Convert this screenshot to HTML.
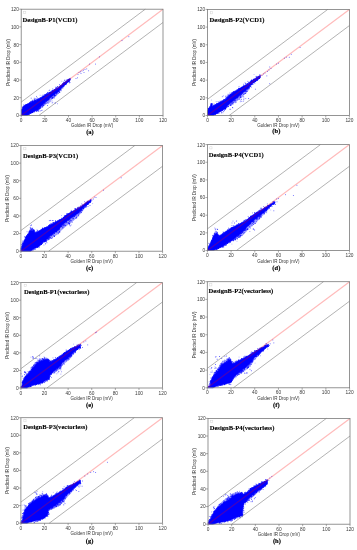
<!DOCTYPE html>
<html><head><meta charset="utf-8"><title>IR drop scatter plots</title>
<style>
html,body{margin:0;padding:0;background:#fff;}
body{width:357px;height:550px;overflow:hidden;}
svg{display:block;}
.cl{fill:#0000ff;stroke:#0000ff;stroke-width:0.6;stroke-linejoin:round;}
.rd{stroke:#ff0000;stroke-width:1.2;stroke-opacity:0.27;}
.dt{fill:#0000ff;}
.hl{fill:#0000ff;fill-opacity:0.38;}
.gl{stroke:#808080;stroke-width:0.6;}
.sp{fill:none;stroke:#7a7a7a;stroke-width:0.8;}
.tk{stroke:#707070;stroke-width:0.6;}
.tl{font-family:"Liberation Sans","DejaVu Sans",sans-serif;font-size:4.8px;fill:#3a3a3a;}
.al{font-family:"Liberation Sans","DejaVu Sans",sans-serif;font-size:4.5px;fill:#333;}
.lg{fill:none;stroke:#d4d4d4;stroke-width:0.5;}
.tt{font-family:"Liberation Serif",serif;font-weight:bold;font-size:7px;fill:#000;stroke:#000;stroke-width:0.1;}
.cp{font-family:"Liberation Serif",serif;font-weight:bold;font-size:6.5px;fill:#000;stroke:#000;stroke-width:0.15;}
</style></head>
<body>
<svg width="357" height="550" viewBox="0 0 357 550">
<polygon class="cl" points="21.4,109.8 22.3,108.6 23.1,106.6 24.5,105.5 26.6,104.5 29.2,103.1 31.7,101.9 34.3,100.8 37,99.9 37.8,99.6 40,98.3 42.9,96.3 45.8,94.4 48.7,92.9 51.6,91.2 54.5,89.5 57.4,87.9 59.8,86.3 64.2,82.5 67.2,80.3 70.3,78.3 70.3,80.2 67.2,82.9 64.2,85.5 61.1,88.6 59.8,90.2 57.4,92.5 54.5,94.6 51.6,96.9 48.7,99.3 45.8,101.7 42.9,104.6 40,107.4 37.8,109.7 35,111.2 32.2,112.6 29.4,114 27,115.4 21.4,115.4"/>
<polygon class="hl" points="36,110.66 36.8,110.24 37.6,109.81 38.4,109.07 39.2,108.24 40,107.4 40.8,106.63 41.6,105.86 42.4,105.08 43.2,104.3 44,103.5 44.8,102.7 45.6,101.9 46.4,101.2 47.2,100.54 48,99.88 48.8,99.22 49.6,98.56 50.4,97.89 51.2,97.23 52,96.58 52.8,95.95 53.6,95.31 54.4,94.68 55.2,94.09 56,93.51 56.8,92.93 57.6,92.31 58.4,91.54 59.2,90.77 60,89.95 60.8,88.97 61.6,88.1 62.4,87.3 63.2,86.5 64,85.7 64,85.7 63.2,87.21 62.4,88.37 61.6,89.46 60.8,90.57 60,91.77 59.2,92.78 58.4,93.72 57.6,94.64 56.8,95.4 56,96.1 55.2,96.78 54.4,97.46 53.6,98.17 52.8,98.86 52,99.54 51.2,100.21 50.4,100.89 49.6,101.55 48.8,102.2 48,102.83 47.2,103.45 46.4,104.06 45.6,104.68 44.8,105.39 44,106.09 43.2,106.77 42.4,107.42 41.6,108.04 40.8,108.64 40,109.22 39.2,109.84 38.4,110.43 37.6,110.87 36.8,110.94 36,110.66"/>
<rect class="dt" x="44.62" y="102.43" width="0.9" height="0.9" opacity="0.76"/>
<rect class="dt" x="37.58" y="109.74" width="0.9" height="0.9" opacity="0.65"/>
<rect class="dt" x="37.17" y="109.95" width="0.9" height="0.9" opacity="0.51"/>
<rect class="dt" x="47.69" y="99.54" width="0.9" height="0.9" opacity="0.54"/>
<rect class="dt" x="47.44" y="102.21" width="0.9" height="0.9" opacity="0.55"/>
<rect class="dt" x="41.8" y="106.37" width="0.9" height="0.9" opacity="0.88"/>
<rect class="dt" x="51.71" y="97.29" width="0.9" height="0.9" opacity="0.89"/>
<rect class="dt" x="36.85" y="110.41" width="0.9" height="0.9" opacity="0.62"/>
<rect class="dt" x="39.59" y="107.15" width="0.9" height="0.9" opacity="0.62"/>
<rect class="dt" x="58.4" y="91.07" width="0.9" height="0.9" opacity="0.73"/>
<rect class="dt" x="53.44" y="95.79" width="0.9" height="0.9" opacity="0.72"/>
<rect class="dt" x="37.31" y="109.35" width="0.9" height="0.9" opacity="0.58"/>
<rect class="dt" x="54.6" y="95.03" width="0.9" height="0.9" opacity="0.63"/>
<rect class="dt" x="51.95" y="97.28" width="0.9" height="0.9" opacity="0.62"/>
<rect class="dt" x="57.79" y="92.94" width="0.9" height="0.9" opacity="0.60"/>
<rect class="dt" x="51.63" y="97.77" width="0.9" height="0.9" opacity="0.85"/>
<rect class="dt" x="55.97" y="93.56" width="0.9" height="0.9" opacity="0.89"/>
<rect class="dt" x="38.86" y="108.43" width="0.9" height="0.9" opacity="0.80"/>
<rect class="dt" x="39.81" y="107.72" width="0.9" height="0.9" opacity="0.52"/>
<rect class="dt" x="54.26" y="96.31" width="0.9" height="0.9" opacity="0.73"/>
<rect class="dt" x="60.06" y="89.45" width="0.9" height="0.9" opacity="0.78"/>
<rect class="dt" x="52.19" y="97.49" width="0.9" height="0.9" opacity="0.68"/>
<rect class="dt" x="59.07" y="92.03" width="0.9" height="0.9" opacity="0.69"/>
<rect class="dt" x="54.15" y="94.26" width="0.9" height="0.9" opacity="0.78"/>
<rect class="dt" x="53.67" y="97.52" width="0.9" height="0.9" opacity="0.83"/>
<rect class="dt" x="43.52" y="104.18" width="0.9" height="0.9" opacity="0.77"/>
<rect class="dt" x="36.18" y="110.19" width="0.9" height="0.9" opacity="0.57"/>
<rect class="dt" x="38.83" y="107.81" width="0.9" height="0.9" opacity="0.81"/>
<rect class="dt" x="39.17" y="107.81" width="0.9" height="0.9" opacity="0.66"/>
<polygon class="hl" points="28,103.75 28.8,103.32 29.6,102.91 30.4,102.52 31.2,102.14 32,101.77 32.8,101.43 33.6,101.1 34.4,100.77 35.2,100.5 36,100.23 36.8,99.97 37.6,99.67 38.4,99.25 39.2,98.77 40,98.3 40,98.3 39.2,98.19 38.4,98.37 37.6,98.58 36.8,98.71 36,98.86 35.2,99.04 34.4,99.27 33.6,99.6 32.8,99.98 32,100.4 31.2,100.88 30.4,101.43 29.6,102.03 28.8,102.73 28,103.75"/>
<rect class="dt" x="38.01" y="98.69" width="0.9" height="0.9" opacity="0.68"/>
<rect class="dt" x="34.14" y="98.81" width="0.9" height="0.9" opacity="0.83"/>
<rect class="dt" x="37.92" y="98.54" width="0.9" height="0.9" opacity="0.67"/>
<rect class="dt" x="31.86" y="99.82" width="0.9" height="0.9" opacity="0.88"/>
<rect class="dt" x="29.36" y="102.18" width="0.9" height="0.9" opacity="0.59"/>
<rect class="dt" x="30.35" y="101.25" width="0.9" height="0.9" opacity="0.74"/>
<rect class="dt" x="22.16" y="106.67" width="0.9" height="0.9" opacity="0.94"/>
<rect class="dt" x="23.73" y="105.57" width="0.9" height="0.9" opacity="1.00"/>
<rect class="dt" x="23.41" y="104.52" width="0.9" height="0.9" opacity="0.80"/>
<rect class="dt" x="25.68" y="104.16" width="0.9" height="0.9" opacity="0.98"/>
<rect class="dt" x="24.96" y="104.81" width="0.9" height="0.9" opacity="1.00"/>
<rect class="dt" x="25.47" y="104.6" width="0.9" height="0.9" opacity="1.00"/>
<rect class="dt" x="26.75" y="103.87" width="0.9" height="0.9" opacity="1.00"/>
<rect class="dt" x="27.13" y="103.76" width="0.9" height="0.9" opacity="1.00"/>
<rect class="dt" x="26.21" y="104.17" width="0.9" height="0.9" opacity="1.00"/>
<rect class="dt" x="29.76" y="102.42" width="0.9" height="0.9" opacity="1.00"/>
<rect class="dt" x="30.76" y="101.23" width="0.9" height="0.9" opacity="0.90"/>
<rect class="dt" x="31.89" y="101.13" width="0.9" height="0.9" opacity="0.99"/>
<rect class="dt" x="32.26" y="101.2" width="0.9" height="0.9" opacity="1.00"/>
<rect class="dt" x="36.47" y="99.28" width="0.9" height="0.9" opacity="0.95"/>
<rect class="dt" x="35.22" y="100.09" width="0.9" height="0.9" opacity="1.00"/>
<rect class="dt" x="34.11" y="100.22" width="0.9" height="0.9" opacity="0.99"/>
<rect class="dt" x="37.26" y="99.32" width="0.9" height="0.9" opacity="1.00"/>
<rect class="dt" x="39.3" y="97.68" width="0.9" height="0.9" opacity="0.93"/>
<rect class="dt" x="37.52" y="98.7" width="0.9" height="0.9" opacity="0.93"/>
<rect class="dt" x="39.7" y="94.79" width="0.9" height="0.9" opacity="0.39"/>
<rect class="dt" x="41.72" y="95.64" width="0.9" height="0.9" opacity="0.85"/>
<rect class="dt" x="40.27" y="97.27" width="0.9" height="0.9" opacity="0.98"/>
<rect class="dt" x="44.53" y="94.15" width="0.9" height="0.9" opacity="0.93"/>
<rect class="dt" x="44.69" y="94.34" width="0.9" height="0.9" opacity="0.99"/>
<rect class="dt" x="42.59" y="94.66" width="0.9" height="0.9" opacity="0.77"/>
<rect class="dt" x="47.41" y="91.87" width="0.9" height="0.9" opacity="0.78"/>
<rect class="dt" x="47.4" y="92.11" width="0.9" height="0.9" opacity="0.83"/>
<rect class="dt" x="45.89" y="93.38" width="0.9" height="0.9" opacity="0.93"/>
<rect class="dt" x="46.49" y="93.62" width="0.9" height="0.9" opacity="1.00"/>
<rect class="dt" x="49.08" y="92.01" width="0.9" height="0.9" opacity="1.00"/>
<rect class="dt" x="49.27" y="89.59" width="0.9" height="0.9" opacity="0.51"/>
<rect class="dt" x="48.69" y="90.24" width="0.9" height="0.9" opacity="0.58"/>
<rect class="dt" x="53.89" y="89.07" width="0.9" height="0.9" opacity="0.98"/>
<rect class="dt" x="51.82" y="90.44" width="0.9" height="0.9" opacity="1.00"/>
<rect class="dt" x="51.77" y="90.49" width="0.9" height="0.9" opacity="1.00"/>
<rect class="dt" x="52.27" y="88.51" width="0.9" height="0.9" opacity="0.66"/>
<rect class="dt" x="55.2" y="87.85" width="0.9" height="0.9" opacity="0.88"/>
<rect class="dt" x="56.46" y="87.94" width="0.9" height="0.9" opacity="1.00"/>
<rect class="dt" x="55.27" y="86.74" width="0.9" height="0.9" opacity="0.64"/>
<rect class="dt" x="55.97" y="87.17" width="0.9" height="0.9" opacity="0.82"/>
<rect class="dt" x="56.91" y="86.47" width="0.9" height="0.9" opacity="0.79"/>
<rect class="dt" x="57.26" y="86.19" width="0.9" height="0.9" opacity="0.78"/>
<rect class="dt" x="59.22" y="85.81" width="0.9" height="0.9" opacity="0.97"/>
<rect class="dt" x="63.09" y="81.76" width="0.9" height="0.9" opacity="0.84"/>
<rect class="dt" x="60.2" y="85.32" width="0.9" height="0.9" opacity="1.00"/>
<rect class="dt" x="59.1" y="84.22" width="0.9" height="0.9" opacity="0.65"/>
<rect class="dt" x="62.99" y="82.89" width="0.9" height="0.9" opacity="1.00"/>
<rect class="dt" x="61.35" y="80.82" width="0.9" height="0.9" opacity="0.38"/>
<rect class="dt" x="62.21" y="83.31" width="0.9" height="0.9" opacity="0.99"/>
<rect class="dt" x="64.28" y="81.96" width="0.9" height="0.9" opacity="1.00"/>
<rect class="dt" x="66.38" y="79.52" width="0.9" height="0.9" opacity="0.88"/>
<rect class="dt" x="64.35" y="79.56" width="0.9" height="0.9" opacity="0.59"/>
<rect class="dt" x="64.35" y="80.14" width="0.9" height="0.9" opacity="0.70"/>
<rect class="dt" x="67.43" y="79.47" width="0.9" height="0.9" opacity="1.00"/>
<rect class="dt" x="67.69" y="79.31" width="0.9" height="0.9" opacity="1.00"/>
<rect class="dt" x="68.59" y="78.71" width="0.9" height="0.9" opacity="1.00"/>
<rect class="dt" x="68.13" y="79.14" width="0.9" height="0.9" opacity="1.00"/>
<rect class="dt" x="68.87" y="80.84" width="0.9" height="0.9" opacity="0.96"/>
<rect class="dt" x="68.96" y="82.38" width="0.9" height="0.9" opacity="0.65"/>
<rect class="dt" x="69.53" y="82.02" width="0.9" height="0.9" opacity="0.63"/>
<rect class="dt" x="68.48" y="81.32" width="0.9" height="0.9" opacity="0.93"/>
<rect class="dt" x="68.07" y="80.98" width="0.9" height="0.9" opacity="1.00"/>
<rect class="dt" x="66.04" y="82.74" width="0.9" height="0.9" opacity="1.00"/>
<rect class="dt" x="64.28" y="84.44" width="0.9" height="0.9" opacity="1.00"/>
<rect class="dt" x="65.76" y="84.18" width="0.9" height="0.9" opacity="0.84"/>
<rect class="dt" x="65.1" y="83.92" width="0.9" height="0.9" opacity="0.99"/>
<rect class="dt" x="62.61" y="87.35" width="0.9" height="0.9" opacity="0.79"/>
<rect class="dt" x="63.65" y="85.61" width="0.9" height="0.9" opacity="0.92"/>
<rect class="dt" x="62.96" y="85.8" width="0.9" height="0.9" opacity="1.00"/>
<rect class="dt" x="61.53" y="87.62" width="0.9" height="0.9" opacity="0.94"/>
<rect class="dt" x="60.79" y="90.28" width="0.9" height="0.9" opacity="0.64"/>
<rect class="dt" x="60.39" y="89.12" width="0.9" height="0.9" opacity="0.90"/>
<rect class="dt" x="58.52" y="91.34" width="0.9" height="0.9" opacity="0.86"/>
<rect class="dt" x="58.46" y="91" width="0.9" height="0.9" opacity="0.93"/>
<rect class="dt" x="59.4" y="92.1" width="0.9" height="0.9" opacity="0.57"/>
<rect class="dt" x="55.43" y="95.3" width="0.9" height="0.9" opacity="0.56"/>
<rect class="dt" x="56.39" y="92.86" width="0.9" height="0.9" opacity="0.92"/>
<rect class="dt" x="54.82" y="94.87" width="0.9" height="0.9" opacity="0.74"/>
<rect class="dt" x="56.46" y="92.21" width="0.9" height="0.9" opacity="1.00"/>
<rect class="dt" x="53.8" y="94.27" width="0.9" height="0.9" opacity="1.00"/>
<rect class="dt" x="54.16" y="94.73" width="0.9" height="0.9" opacity="0.87"/>
<rect class="dt" x="52.61" y="97" width="0.9" height="0.9" opacity="0.66"/>
<rect class="dt" x="53.99" y="95" width="0.9" height="0.9" opacity="0.84"/>
<rect class="dt" x="51.53" y="97.76" width="0.9" height="0.9" opacity="0.69"/>
<rect class="dt" x="48.3" y="98.71" width="0.9" height="0.9" opacity="1.00"/>
<rect class="dt" x="48.46" y="98.82" width="0.9" height="0.9" opacity="0.97"/>
<rect class="dt" x="51.63" y="99.9" width="0.9" height="0.9" opacity="0.30"/>
<rect class="dt" x="47.87" y="99.35" width="0.9" height="0.9" opacity="0.96"/>
<rect class="dt" x="46.78" y="100.12" width="0.9" height="0.9" opacity="0.99"/>
<rect class="dt" x="47.69" y="99.33" width="0.9" height="0.9" opacity="1.00"/>
<rect class="dt" x="46.01" y="100.4" width="0.9" height="0.9" opacity="1.00"/>
<rect class="dt" x="43.9" y="102.36" width="0.9" height="0.9" opacity="1.00"/>
<rect class="dt" x="44.7" y="102.52" width="0.9" height="0.9" opacity="0.89"/>
<rect class="dt" x="43.72" y="102.59" width="0.9" height="0.9" opacity="1.00"/>
<rect class="dt" x="43.09" y="104.7" width="0.9" height="0.9" opacity="0.79"/>
<rect class="dt" x="42.12" y="104.42" width="0.9" height="0.9" opacity="1.00"/>
<rect class="dt" x="42.9" y="104.84" width="0.9" height="0.9" opacity="0.80"/>
<rect class="dt" x="41.56" y="104.8" width="0.9" height="0.9" opacity="1.00"/>
<rect class="dt" x="42.23" y="106.37" width="0.9" height="0.9" opacity="0.64"/>
<rect class="dt" x="40.05" y="106.41" width="0.9" height="0.9" opacity="1.00"/>
<rect class="dt" x="37.77" y="109.3" width="0.9" height="0.9" opacity="0.91"/>
<rect class="dt" x="37.88" y="108.43" width="0.9" height="0.9" opacity="1.00"/>
<rect class="dt" x="39.83" y="107.47" width="0.9" height="0.9" opacity="0.86"/>
<rect class="dt" x="37.95" y="110.86" width="0.9" height="0.9" opacity="0.57"/>
<rect class="dt" x="35.99" y="110.98" width="0.9" height="0.9" opacity="0.78"/>
<rect class="dt" x="37.64" y="110.35" width="0.9" height="0.9" opacity="0.72"/>
<rect class="dt" x="32.21" y="112.11" width="0.9" height="0.9" opacity="0.96"/>
<rect class="dt" x="33.74" y="111.51" width="0.9" height="0.9" opacity="0.92"/>
<rect class="dt" x="31.94" y="112.02" width="0.9" height="0.9" opacity="1.00"/>
<rect class="dt" x="30.25" y="112.83" width="0.9" height="0.9" opacity="1.00"/>
<rect class="dt" x="31.39" y="112.19" width="0.9" height="0.9" opacity="1.00"/>
<rect class="dt" x="31.57" y="112.14" width="0.9" height="0.9" opacity="1.00"/>
<rect class="dt" x="28.37" y="114.16" width="0.9" height="0.9" opacity="0.94"/>
<rect class="dt" x="28.55" y="113.84" width="0.9" height="0.9" opacity="0.99"/>
<rect class="dt" x="50.37" y="101.19" width="0.9" height="0.9" opacity="0.54"/>
<rect class="dt" x="54.65" y="102.64" width="0.9" height="0.9" opacity="0.55"/>
<rect class="dt" x="54.9" y="102.41" width="0.9" height="0.9" opacity="0.55"/>
<rect class="dt" x="47.03" y="105.04" width="0.9" height="0.9" opacity="0.63"/>
<rect class="dt" x="51.73" y="102.48" width="0.9" height="0.9" opacity="0.49"/>
<rect class="dt" x="42.68" y="104.5" width="0.9" height="0.9" opacity="0.45"/>
<rect class="dt" x="52.28" y="101.74" width="0.9" height="0.9" opacity="0.45"/>
<rect class="dt" x="46.24" y="102.81" width="0.9" height="0.9" opacity="0.41"/>
<rect class="dt" x="48.68" y="101.63" width="0.9" height="0.9" opacity="0.73"/>
<rect class="dt" x="57.11" y="103.33" width="0.9" height="0.9" opacity="0.45"/>
<rect class="dt" x="47.66" y="102.9" width="0.9" height="0.9" opacity="0.55"/>
<rect class="dt" x="44.77" y="103.08" width="0.9" height="0.9" opacity="0.35"/>
<rect class="dt" x="45.78" y="100.59" width="0.9" height="0.9" opacity="0.51"/>
<rect class="dt" x="46.42" y="101.45" width="0.9" height="0.9" opacity="0.58"/>
<rect class="dt" x="33.78" y="97.8" width="0.9" height="0.9" opacity="0.61"/>
<rect class="dt" x="35.28" y="98.19" width="0.9" height="0.9" opacity="0.51"/>
<rect class="dt" x="30.75" y="97.72" width="0.9" height="0.9" opacity="0.61"/>
<rect class="dt" x="36.69" y="97.43" width="0.9" height="0.9" opacity="0.64"/>
<rect class="dt" x="36.05" y="95.97" width="0.9" height="0.9" opacity="0.56"/>
<rect class="dt" x="39.58" y="110.55" width="0.9" height="0.9" opacity="0.67"/>
<rect class="dt" x="41.51" y="109.8" width="0.9" height="0.9" opacity="0.71"/>
<rect class="dt" x="40.65" y="110.13" width="0.9" height="0.9" opacity="0.44"/>
<rect class="dt" x="38.71" y="108.36" width="0.9" height="0.9" opacity="0.68"/>
<rect class="dt" x="78.55" y="72.05" width="0.9" height="0.9" opacity="0.6"/>
<rect class="dt" x="80.05" y="71.35" width="0.9" height="0.9" opacity="0.6"/>
<rect class="dt" x="81.55" y="70.55" width="0.9" height="0.9" opacity="0.6"/>
<rect class="dt" x="83.05" y="69.75" width="0.9" height="0.9" opacity="0.6"/>
<rect class="dt" x="84.55" y="69.05" width="0.9" height="0.9" opacity="0.6"/>
<rect class="dt" x="86.25" y="68.45" width="0.9" height="0.9" opacity="0.6"/>
<rect class="dt" x="88.15" y="70.35" width="0.9" height="0.9" opacity="0.6"/>
<rect class="dt" x="80.55" y="73.05" width="0.9" height="0.9" opacity="0.6"/>
<rect class="dt" x="83.55" y="72.05" width="0.9" height="0.9" opacity="0.6"/>
<rect class="dt" x="77.55" y="74.05" width="0.9" height="0.9" opacity="0.6"/>
<rect class="dt" x="89.15" y="63.65" width="0.9" height="0.9" opacity="0.6"/>
<rect class="dt" x="95.05" y="63.65" width="0.9" height="0.9" opacity="0.6"/>
<rect class="dt" x="98.95" y="56.45" width="0.9" height="0.9" opacity="0.6"/>
<rect class="dt" x="121.55" y="40.15" width="0.9" height="0.9" opacity="0.6"/>
<rect class="dt" x="128.35" y="36.25" width="0.9" height="0.9" opacity="0.6"/>
<rect class="dt" x="75.55" y="78.05" width="0.9" height="0.9" opacity="0.6"/>
<rect class="dt" x="77.05" y="77.35" width="0.9" height="0.9" opacity="0.6"/>
<line class="rd" x1="21.2" y1="115.4" x2="163" y2="9.2"/>
<line class="gl" x1="21.2" y1="102.12" x2="145.28" y2="9.2"/>
<line class="gl" x1="38.92" y1="115.4" x2="163" y2="22.48"/>
<rect class="sp" x="21.2" y="9.2" width="141.8" height="106.2"/>
<line class="tk" x1="21.2" y1="115.4" x2="21.2" y2="117.4"/>
<line class="tk" x1="19.2" y1="115.4" x2="21.2" y2="115.4"/>
<text class="tl" x="21.2" y="121.9" text-anchor="middle">0</text>
<text class="tl" x="18.9" y="117.3" text-anchor="end">0</text>
<line class="tk" x1="44.83" y1="115.4" x2="44.83" y2="117.4"/>
<line class="tk" x1="19.2" y1="97.7" x2="21.2" y2="97.7"/>
<text class="tl" x="44.83" y="121.9" text-anchor="middle">20</text>
<text class="tl" x="18.9" y="99.6" text-anchor="end">20</text>
<line class="tk" x1="68.47" y1="115.4" x2="68.47" y2="117.4"/>
<line class="tk" x1="19.2" y1="80" x2="21.2" y2="80"/>
<text class="tl" x="68.47" y="121.9" text-anchor="middle">40</text>
<text class="tl" x="18.9" y="81.9" text-anchor="end">40</text>
<line class="tk" x1="92.1" y1="115.4" x2="92.1" y2="117.4"/>
<line class="tk" x1="19.2" y1="62.3" x2="21.2" y2="62.3"/>
<text class="tl" x="92.1" y="121.9" text-anchor="middle">60</text>
<text class="tl" x="18.9" y="64.2" text-anchor="end">60</text>
<line class="tk" x1="115.73" y1="115.4" x2="115.73" y2="117.4"/>
<line class="tk" x1="19.2" y1="44.6" x2="21.2" y2="44.6"/>
<text class="tl" x="115.73" y="121.9" text-anchor="middle">80</text>
<text class="tl" x="18.9" y="46.5" text-anchor="end">80</text>
<line class="tk" x1="139.37" y1="115.4" x2="139.37" y2="117.4"/>
<line class="tk" x1="19.2" y1="26.9" x2="21.2" y2="26.9"/>
<text class="tl" x="139.37" y="121.9" text-anchor="middle">100</text>
<text class="tl" x="18.9" y="28.8" text-anchor="end">100</text>
<line class="tk" x1="163" y1="115.4" x2="163" y2="117.4"/>
<line class="tk" x1="19.2" y1="9.2" x2="21.2" y2="9.2"/>
<text class="tl" x="163" y="121.9" text-anchor="middle">120</text>
<text class="tl" x="18.9" y="11.1" text-anchor="end">120</text>
<text class="al" x="92.1" y="127" text-anchor="middle">Golden IR Drop (mV)</text>
<text class="al" x="9.7" y="62.3" text-anchor="middle" transform="rotate(-90 9.7 62.3)">Predicted IR Drop (mV)</text>
<rect class="lg" x="23.6" y="11.51" width="2.2" height="2.2"/>
<text class="tt" x="22.5" y="21.8" textLength="55" lengthAdjust="spacingAndGlyphs">DesignB-P1(VCD1)</text>
<text class="cp" x="90" y="134.4" text-anchor="middle">(a)</text>
<polygon class="cl" points="207.6,110.5 208.3,109.3 209.5,107 210.5,106.3 211,103.8 211.9,103.7 212.6,106.3 216.2,104.3 220.2,101.8 224,100.4 225.5,99.2 227,97.4 230.1,94.8 233.2,92.6 236.2,90.6 239.3,88.6 242.4,86.8 245.5,85 248.6,83.2 250.4,81.2 253.7,79.4 257.1,77.2 260.4,75.3 260.4,77.6 257.1,80.4 253.7,82.7 250.4,85.3 248.6,88.2 245.5,90.6 242.4,93.3 239.3,95.8 236.2,98.4 233.2,100.9 230.1,103.2 227,105.8 225.5,108.6 222.4,110.5 219.3,112.2 216.2,113.8 213.2,115.5 207.6,115.5"/>
<polygon class="hl" points="225,108.91 225.8,108.04 226.6,106.55 227.4,105.46 228.2,104.79 229,104.12 229.8,103.45 230.6,102.83 231.4,102.24 232.2,101.64 233,101.05 233.8,100.4 234.6,99.73 235.4,99.07 236.2,98.4 237,97.73 237.8,97.06 238.6,96.39 239.4,95.72 240.2,95.07 241,94.43 241.8,93.78 242.6,93.13 243.4,92.43 244.2,91.73 245,91.04 245.8,90.37 246.6,89.75 247.4,89.13 248.2,88.51 249,87.56 249.8,86.27 250.6,85.14 251.4,84.51 252.2,83.88 253,83.25 253,83.25 252.2,84.71 251.4,85.76 250.6,86.72 249.8,88.14 249,89.68 248.2,90.85 247.4,91.67 246.6,92.47 245.8,93.25 245,94.05 244.2,94.87 243.4,95.67 242.6,96.45 241.8,97.18 241,97.88 240.2,98.56 239.4,99.22 238.6,99.88 237.8,100.54 237,101.18 236.2,101.8 235.4,102.39 234.6,102.98 233.8,103.54 233,104.07 232.2,104.52 231.4,104.96 230.6,105.37 229.8,105.8 229,106.24 228.2,106.66 227.4,107.05 226.6,107.79 225.8,108.86 225,108.91"/>
<rect class="dt" x="240.19" y="96.66" width="0.9" height="0.9" opacity="0.75"/>
<rect class="dt" x="243.61" y="93.11" width="0.9" height="0.9" opacity="0.50"/>
<rect class="dt" x="246.89" y="90.84" width="0.9" height="0.9" opacity="0.70"/>
<rect class="dt" x="239.54" y="97.33" width="0.9" height="0.9" opacity="0.53"/>
<rect class="dt" x="245.18" y="90.86" width="0.9" height="0.9" opacity="0.53"/>
<rect class="dt" x="231.99" y="103.36" width="0.9" height="0.9" opacity="0.58"/>
<rect class="dt" x="245.27" y="93.09" width="0.9" height="0.9" opacity="0.70"/>
<rect class="dt" x="235.26" y="100.13" width="0.9" height="0.9" opacity="0.77"/>
<rect class="dt" x="246.03" y="91.26" width="0.9" height="0.9" opacity="0.76"/>
<rect class="dt" x="226.72" y="105.45" width="0.9" height="0.9" opacity="0.60"/>
<rect class="dt" x="245.36" y="90.87" width="0.9" height="0.9" opacity="0.73"/>
<rect class="dt" x="224.9" y="108.28" width="0.9" height="0.9" opacity="0.61"/>
<rect class="dt" x="243.37" y="94.05" width="0.9" height="0.9" opacity="0.77"/>
<rect class="dt" x="232.69" y="102.22" width="0.9" height="0.9" opacity="0.69"/>
<rect class="dt" x="237.61" y="96.85" width="0.9" height="0.9" opacity="0.86"/>
<rect class="dt" x="230.13" y="105.13" width="0.9" height="0.9" opacity="0.87"/>
<rect class="dt" x="225.04" y="108.47" width="0.9" height="0.9" opacity="0.83"/>
<rect class="dt" x="251.66" y="83.94" width="0.9" height="0.9" opacity="0.61"/>
<rect class="dt" x="230.43" y="104.89" width="0.9" height="0.9" opacity="0.58"/>
<rect class="dt" x="240.83" y="94.29" width="0.9" height="0.9" opacity="0.71"/>
<rect class="dt" x="251.23" y="84.01" width="0.9" height="0.9" opacity="0.83"/>
<rect class="dt" x="238.79" y="98.81" width="0.9" height="0.9" opacity="0.78"/>
<rect class="dt" x="231.03" y="104.43" width="0.9" height="0.9" opacity="0.69"/>
<rect class="dt" x="225.25" y="107.79" width="0.9" height="0.9" opacity="0.70"/>
<rect class="dt" x="237.17" y="97.91" width="0.9" height="0.9" opacity="0.56"/>
<rect class="dt" x="234.18" y="100.39" width="0.9" height="0.9" opacity="0.84"/>
<rect class="dt" x="224.6" y="108.55" width="0.9" height="0.9" opacity="0.84"/>
<rect class="dt" x="227.91" y="106.17" width="0.9" height="0.9" opacity="0.79"/>
<rect class="dt" x="249.79" y="85.65" width="0.9" height="0.9" opacity="0.65"/>
<rect class="dt" x="235.55" y="101.83" width="0.9" height="0.9" opacity="0.74"/>
<rect class="dt" x="234.65" y="100.42" width="0.9" height="0.9" opacity="0.61"/>
<rect class="dt" x="225.9" y="106.69" width="0.9" height="0.9" opacity="0.83"/>
<rect class="dt" x="232.55" y="103.71" width="0.9" height="0.9" opacity="0.60"/>
<rect class="dt" x="231.99" y="102.66" width="0.9" height="0.9" opacity="0.58"/>
<polygon class="hl" points="222,101.14 222.82,100.83 223.65,100.53 224.47,100.02 225.29,99.36 226.12,98.46 226.94,97.47 227.76,96.76 228.59,96.07 229.41,95.38 230.24,94.7 231.06,94.12 231.88,93.54 232.71,92.95 233.53,92.38 234.35,91.83 235.18,91.28 236,90.73 236,90.73 235.18,90.85 234.35,91.18 233.53,91.56 232.71,92 231.88,92.49 231.06,93 230.24,93.53 229.41,94.18 228.59,94.87 227.76,95.59 226.94,96.35 226.12,97.41 225.29,98.42 224.47,99.21 223.65,99.88 222.82,100.4 222,101.14"/>
<rect class="dt" x="226.78" y="95.56" width="0.9" height="0.9" opacity="0.85"/>
<rect class="dt" x="232.92" y="91.45" width="0.9" height="0.9" opacity="0.87"/>
<rect class="dt" x="234.72" y="90.57" width="0.9" height="0.9" opacity="0.79"/>
<rect class="dt" x="222.24" y="100.12" width="0.9" height="0.9" opacity="0.68"/>
<rect class="dt" x="232.09" y="91.93" width="0.9" height="0.9" opacity="0.61"/>
<rect class="dt" x="207.93" y="109.02" width="0.9" height="0.9" opacity="1.00"/>
<rect class="dt" x="208.26" y="108.06" width="0.9" height="0.9" opacity="1.00"/>
<rect class="dt" x="207.72" y="108.02" width="0.9" height="0.9" opacity="0.88"/>
<rect class="dt" x="209.55" y="106.08" width="0.9" height="0.9" opacity="0.97"/>
<rect class="dt" x="210.22" y="105.46" width="0.9" height="0.9" opacity="1.00"/>
<rect class="dt" x="210.28" y="103.54" width="0.9" height="0.9" opacity="0.94"/>
<rect class="dt" x="210.96" y="99.58" width="0.9" height="0.9" opacity="0.30"/>
<rect class="dt" x="211.45" y="103.64" width="0.9" height="0.9" opacity="1.00"/>
<rect class="dt" x="211.55" y="103.47" width="0.9" height="0.9" opacity="0.99"/>
<rect class="dt" x="211.46" y="103.5" width="0.9" height="0.9" opacity="1.00"/>
<rect class="dt" x="213.58" y="103.59" width="0.9" height="0.9" opacity="0.68"/>
<rect class="dt" x="214.79" y="104.24" width="0.9" height="0.9" opacity="0.97"/>
<rect class="dt" x="213.51" y="104.79" width="0.9" height="0.9" opacity="0.93"/>
<rect class="dt" x="213.49" y="105.06" width="0.9" height="0.9" opacity="0.99"/>
<rect class="dt" x="215.72" y="101.33" width="0.9" height="0.9" opacity="0.46"/>
<rect class="dt" x="216.13" y="103.33" width="0.9" height="0.9" opacity="0.94"/>
<rect class="dt" x="217.66" y="101.31" width="0.9" height="0.9" opacity="0.71"/>
<rect class="dt" x="216.63" y="103.33" width="0.9" height="0.9" opacity="1.00"/>
<rect class="dt" x="221.21" y="100.64" width="0.9" height="0.9" opacity="0.96"/>
<rect class="dt" x="223" y="99.01" width="0.9" height="0.9" opacity="0.73"/>
<rect class="dt" x="223.15" y="100.35" width="0.9" height="0.9" opacity="1.00"/>
<rect class="dt" x="219.66" y="100.73" width="0.9" height="0.9" opacity="0.85"/>
<rect class="dt" x="224.03" y="99.09" width="0.9" height="0.9" opacity="0.91"/>
<rect class="dt" x="223.49" y="99.87" width="0.9" height="0.9" opacity="0.98"/>
<rect class="dt" x="225.44" y="96.56" width="0.9" height="0.9" opacity="0.72"/>
<rect class="dt" x="226.55" y="97.03" width="0.9" height="0.9" opacity="1.00"/>
<rect class="dt" x="225.32" y="98.64" width="0.9" height="0.9" opacity="1.00"/>
<rect class="dt" x="227.55" y="93.85" width="0.9" height="0.9" opacity="0.57"/>
<rect class="dt" x="228.48" y="94.71" width="0.9" height="0.9" opacity="0.88"/>
<rect class="dt" x="228.81" y="94.83" width="0.9" height="0.9" opacity="0.96"/>
<rect class="dt" x="228.4" y="95.69" width="0.9" height="0.9" opacity="1.00"/>
<rect class="dt" x="229.49" y="92.6" width="0.9" height="0.9" opacity="0.62"/>
<rect class="dt" x="231.65" y="92.93" width="0.9" height="0.9" opacity="1.00"/>
<rect class="dt" x="230.07" y="94.11" width="0.9" height="0.9" opacity="1.00"/>
<rect class="dt" x="231.28" y="92.47" width="0.9" height="0.9" opacity="0.85"/>
<rect class="dt" x="232.81" y="91.78" width="0.9" height="0.9" opacity="0.93"/>
<rect class="dt" x="234.45" y="90.91" width="0.9" height="0.9" opacity="0.98"/>
<rect class="dt" x="233.2" y="91.38" width="0.9" height="0.9" opacity="0.90"/>
<rect class="dt" x="236.59" y="89.39" width="0.9" height="0.9" opacity="0.95"/>
<rect class="dt" x="238.47" y="87.83" width="0.9" height="0.9" opacity="0.88"/>
<rect class="dt" x="238.38" y="88.21" width="0.9" height="0.9" opacity="0.95"/>
<rect class="dt" x="238.6" y="85.96" width="0.9" height="0.9" opacity="0.50"/>
<rect class="dt" x="241.03" y="86.88" width="0.9" height="0.9" opacity="1.00"/>
<rect class="dt" x="238.8" y="87.91" width="0.9" height="0.9" opacity="0.94"/>
<rect class="dt" x="243.27" y="85.63" width="0.9" height="0.9" opacity="1.00"/>
<rect class="dt" x="243.23" y="83.8" width="0.9" height="0.9" opacity="0.61"/>
<rect class="dt" x="242.77" y="86.14" width="0.9" height="0.9" opacity="1.00"/>
<rect class="dt" x="242.93" y="85.63" width="0.9" height="0.9" opacity="0.97"/>
<rect class="dt" x="245.23" y="83.44" width="0.9" height="0.9" opacity="0.78"/>
<rect class="dt" x="247.22" y="83.01" width="0.9" height="0.9" opacity="0.94"/>
<rect class="dt" x="244.58" y="82.28" width="0.9" height="0.9" opacity="0.45"/>
<rect class="dt" x="245.54" y="83.17" width="0.9" height="0.9" opacity="0.76"/>
<rect class="dt" x="247.99" y="81.81" width="0.9" height="0.9" opacity="0.81"/>
<rect class="dt" x="247.29" y="80.91" width="0.9" height="0.9" opacity="0.53"/>
<rect class="dt" x="250.6" y="80.48" width="0.9" height="0.9" opacity="1.00"/>
<rect class="dt" x="251.08" y="79.55" width="0.9" height="0.9" opacity="0.87"/>
<rect class="dt" x="253.15" y="79.16" width="0.9" height="0.9" opacity="1.00"/>
<rect class="dt" x="251.29" y="80.11" width="0.9" height="0.9" opacity="1.00"/>
<rect class="dt" x="253.85" y="78.82" width="0.9" height="0.9" opacity="1.00"/>
<rect class="dt" x="253.4" y="78.73" width="0.9" height="0.9" opacity="0.98"/>
<rect class="dt" x="255.62" y="75.92" width="0.9" height="0.9" opacity="0.69"/>
<rect class="dt" x="253.59" y="74.02" width="0.9" height="0.9" opacity="0.30"/>
<rect class="dt" x="256.4" y="76.88" width="0.9" height="0.9" opacity="0.99"/>
<rect class="dt" x="259.38" y="74.36" width="0.9" height="0.9" opacity="0.82"/>
<rect class="dt" x="256.5" y="76.24" width="0.9" height="0.9" opacity="0.87"/>
<rect class="dt" x="257.86" y="75.96" width="0.9" height="0.9" opacity="0.98"/>
<rect class="dt" x="259.23" y="77.43" width="0.9" height="0.9" opacity="1.00"/>
<rect class="dt" x="259.06" y="77.97" width="0.9" height="0.9" opacity="0.99"/>
<rect class="dt" x="256.69" y="79.71" width="0.9" height="0.9" opacity="1.00"/>
<rect class="dt" x="256.71" y="79.78" width="0.9" height="0.9" opacity="1.00"/>
<rect class="dt" x="254.39" y="82.63" width="0.9" height="0.9" opacity="0.76"/>
<rect class="dt" x="255.06" y="80.77" width="0.9" height="0.9" opacity="1.00"/>
<rect class="dt" x="255.08" y="81.1" width="0.9" height="0.9" opacity="0.98"/>
<rect class="dt" x="253.47" y="81.98" width="0.9" height="0.9" opacity="1.00"/>
<rect class="dt" x="250.15" y="84.4" width="0.9" height="0.9" opacity="1.00"/>
<rect class="dt" x="252.46" y="84.04" width="0.9" height="0.9" opacity="0.77"/>
<rect class="dt" x="250.58" y="84.07" width="0.9" height="0.9" opacity="1.00"/>
<rect class="dt" x="253.01" y="82.18" width="0.9" height="0.9" opacity="1.00"/>
<rect class="dt" x="250.09" y="85.97" width="0.9" height="0.9" opacity="0.82"/>
<rect class="dt" x="248.37" y="87.48" width="0.9" height="0.9" opacity="0.99"/>
<rect class="dt" x="251.13" y="86.68" width="0.9" height="0.9" opacity="0.51"/>
<rect class="dt" x="248.81" y="86.62" width="0.9" height="0.9" opacity="1.00"/>
<rect class="dt" x="247.15" y="88.49" width="0.9" height="0.9" opacity="1.00"/>
<rect class="dt" x="248.59" y="88.34" width="0.9" height="0.9" opacity="0.82"/>
<rect class="dt" x="245.59" y="90.31" width="0.9" height="0.9" opacity="0.89"/>
<rect class="dt" x="245.08" y="89.83" width="0.9" height="0.9" opacity="1.00"/>
<rect class="dt" x="244.86" y="92.9" width="0.9" height="0.9" opacity="0.51"/>
<rect class="dt" x="242.15" y="92.79" width="0.9" height="0.9" opacity="0.98"/>
<rect class="dt" x="244.37" y="90.94" width="0.9" height="0.9" opacity="0.96"/>
<rect class="dt" x="244.57" y="92.68" width="0.9" height="0.9" opacity="0.60"/>
<rect class="dt" x="239.89" y="95.39" width="0.9" height="0.9" opacity="0.83"/>
<rect class="dt" x="239.89" y="95.52" width="0.9" height="0.9" opacity="0.80"/>
<rect class="dt" x="240.09" y="94.39" width="0.9" height="0.9" opacity="0.99"/>
<rect class="dt" x="241" y="93.7" width="0.9" height="0.9" opacity="0.98"/>
<rect class="dt" x="238.54" y="95.48" width="0.9" height="0.9" opacity="1.00"/>
<rect class="dt" x="236.48" y="97.27" width="0.9" height="0.9" opacity="1.00"/>
<rect class="dt" x="238.5" y="95.35" width="0.9" height="0.9" opacity="1.00"/>
<rect class="dt" x="237.15" y="96.81" width="0.9" height="0.9" opacity="0.99"/>
<rect class="dt" x="234.92" y="102.34" width="0.9" height="0.9" opacity="0.30"/>
<rect class="dt" x="234.83" y="98.47" width="0.9" height="0.9" opacity="1.00"/>
<rect class="dt" x="235.61" y="98.37" width="0.9" height="0.9" opacity="0.94"/>
<rect class="dt" x="233.73" y="99.85" width="0.9" height="0.9" opacity="0.96"/>
<rect class="dt" x="231.71" y="101.75" width="0.9" height="0.9" opacity="0.89"/>
<rect class="dt" x="231.09" y="102.57" width="0.9" height="0.9" opacity="0.82"/>
<rect class="dt" x="230.43" y="102.81" width="0.9" height="0.9" opacity="0.87"/>
<rect class="dt" x="232.99" y="101.56" width="0.9" height="0.9" opacity="0.74"/>
<rect class="dt" x="227.94" y="104.28" width="0.9" height="0.9" opacity="0.98"/>
<rect class="dt" x="227.3" y="104.6" width="0.9" height="0.9" opacity="1.00"/>
<rect class="dt" x="228.85" y="103.35" width="0.9" height="0.9" opacity="1.00"/>
<rect class="dt" x="229.98" y="104.11" width="0.9" height="0.9" opacity="0.69"/>
<rect class="dt" x="226.15" y="106.31" width="0.9" height="0.9" opacity="0.97"/>
<rect class="dt" x="225.28" y="108.24" width="0.9" height="0.9" opacity="0.94"/>
<rect class="dt" x="227" y="106.43" width="0.9" height="0.9" opacity="0.77"/>
<rect class="dt" x="221.89" y="109.88" width="0.9" height="0.9" opacity="1.00"/>
<rect class="dt" x="224.07" y="109.86" width="0.9" height="0.9" opacity="0.76"/>
<rect class="dt" x="223.21" y="111" width="0.9" height="0.9" opacity="0.63"/>
<rect class="dt" x="224.92" y="108.22" width="0.9" height="0.9" opacity="1.00"/>
<rect class="dt" x="222.46" y="112.37" width="0.9" height="0.9" opacity="0.43"/>
<rect class="dt" x="220.92" y="112.46" width="0.9" height="0.9" opacity="0.60"/>
<rect class="dt" x="221.35" y="111.7" width="0.9" height="0.9" opacity="0.71"/>
<rect class="dt" x="218.41" y="112.88" width="0.9" height="0.9" opacity="0.80"/>
<rect class="dt" x="215.84" y="113.11" width="0.9" height="0.9" opacity="1.00"/>
<rect class="dt" x="217.2" y="113.08" width="0.9" height="0.9" opacity="0.89"/>
<rect class="dt" x="214.57" y="113.85" width="0.9" height="0.9" opacity="1.00"/>
<rect class="dt" x="215.12" y="113.66" width="0.9" height="0.9" opacity="1.00"/>
<rect class="dt" x="240.13" y="99.62" width="0.9" height="0.9" opacity="0.42"/>
<rect class="dt" x="239.92" y="96.77" width="0.9" height="0.9" opacity="0.67"/>
<rect class="dt" x="243.22" y="95.93" width="0.9" height="0.9" opacity="0.39"/>
<rect class="dt" x="241.08" y="98.85" width="0.9" height="0.9" opacity="0.61"/>
<rect class="dt" x="245.29" y="98.01" width="0.9" height="0.9" opacity="0.46"/>
<rect class="dt" x="239.86" y="101.27" width="0.9" height="0.9" opacity="0.47"/>
<rect class="dt" x="243.48" y="97.69" width="0.9" height="0.9" opacity="0.52"/>
<rect class="dt" x="240.64" y="96.73" width="0.9" height="0.9" opacity="0.64"/>
<rect class="dt" x="248.17" y="98.09" width="0.9" height="0.9" opacity="0.68"/>
<rect class="dt" x="241.24" y="100.85" width="0.9" height="0.9" opacity="0.53"/>
<rect class="dt" x="243.27" y="99.39" width="0.9" height="0.9" opacity="0.71"/>
<rect class="dt" x="236.8" y="99.28" width="0.9" height="0.9" opacity="0.50"/>
<rect class="dt" x="242.61" y="96.43" width="0.9" height="0.9" opacity="0.46"/>
<rect class="dt" x="242.85" y="101.1" width="0.9" height="0.9" opacity="0.39"/>
<rect class="dt" x="229.49" y="108.77" width="0.9" height="0.9" opacity="0.74"/>
<rect class="dt" x="227.73" y="106.06" width="0.9" height="0.9" opacity="0.73"/>
<rect class="dt" x="232.4" y="107.48" width="0.9" height="0.9" opacity="0.37"/>
<rect class="dt" x="232.11" y="107.1" width="0.9" height="0.9" opacity="0.71"/>
<rect class="dt" x="230.27" y="108.85" width="0.9" height="0.9" opacity="0.41"/>
<rect class="dt" x="225.26" y="95.72" width="0.9" height="0.9" opacity="0.51"/>
<rect class="dt" x="225.63" y="97.54" width="0.9" height="0.9" opacity="0.42"/>
<rect class="dt" x="221.86" y="96.25" width="0.9" height="0.9" opacity="0.56"/>
<rect class="dt" x="222.85" y="95.42" width="0.9" height="0.9" opacity="0.45"/>
<rect class="dt" x="261.55" y="75.05" width="0.9" height="0.9" opacity="0.6"/>
<rect class="dt" x="263.05" y="73.55" width="0.9" height="0.9" opacity="0.6"/>
<rect class="dt" x="264.55" y="72.55" width="0.9" height="0.9" opacity="0.6"/>
<rect class="dt" x="266.35" y="75.45" width="0.9" height="0.9" opacity="0.6"/>
<rect class="dt" x="267.05" y="71.05" width="0.9" height="0.9" opacity="0.6"/>
<rect class="dt" x="269.25" y="66.55" width="0.9" height="0.9" opacity="0.6"/>
<rect class="dt" x="268.55" y="69.55" width="0.9" height="0.9" opacity="0.6"/>
<rect class="dt" x="270.55" y="68.05" width="0.9" height="0.9" opacity="0.6"/>
<rect class="dt" x="276.15" y="63.65" width="0.9" height="0.9" opacity="0.6"/>
<rect class="dt" x="278.05" y="62.75" width="0.9" height="0.9" opacity="0.6"/>
<rect class="dt" x="283.95" y="57.75" width="0.9" height="0.9" opacity="0.6"/>
<rect class="dt" x="285.85" y="56.75" width="0.9" height="0.9" opacity="0.6"/>
<rect class="dt" x="290.85" y="53.85" width="0.9" height="0.9" opacity="0.6"/>
<rect class="dt" x="288.85" y="56.85" width="0.9" height="0.9" opacity="0.6"/>
<rect class="dt" x="299.65" y="47.05" width="0.9" height="0.9" opacity="0.6"/>
<rect class="dt" x="269.25" y="83.25" width="0.9" height="0.9" opacity="0.6"/>
<rect class="dt" x="254.95" y="88.75" width="0.9" height="0.9" opacity="0.6"/>
<line class="rd" x1="207.5" y1="115.5" x2="349.4" y2="9.4"/>
<line class="gl" x1="207.5" y1="99.32" x2="327.76" y2="9.4"/>
<line class="gl" x1="229.14" y1="115.5" x2="349.4" y2="25.58"/>
<rect class="sp" x="207.5" y="9.4" width="141.9" height="106.1"/>
<line class="tk" x1="207.5" y1="115.5" x2="207.5" y2="117.5"/>
<line class="tk" x1="205.5" y1="115.5" x2="207.5" y2="115.5"/>
<text class="tl" x="207.5" y="122" text-anchor="middle">0</text>
<text class="tl" x="205.2" y="117.4" text-anchor="end">0</text>
<line class="tk" x1="231.15" y1="115.5" x2="231.15" y2="117.5"/>
<line class="tk" x1="205.5" y1="97.82" x2="207.5" y2="97.82"/>
<text class="tl" x="231.15" y="122" text-anchor="middle">20</text>
<text class="tl" x="205.2" y="99.72" text-anchor="end">20</text>
<line class="tk" x1="254.8" y1="115.5" x2="254.8" y2="117.5"/>
<line class="tk" x1="205.5" y1="80.13" x2="207.5" y2="80.13"/>
<text class="tl" x="254.8" y="122" text-anchor="middle">40</text>
<text class="tl" x="205.2" y="82.03" text-anchor="end">40</text>
<line class="tk" x1="278.45" y1="115.5" x2="278.45" y2="117.5"/>
<line class="tk" x1="205.5" y1="62.45" x2="207.5" y2="62.45"/>
<text class="tl" x="278.45" y="122" text-anchor="middle">60</text>
<text class="tl" x="205.2" y="64.35" text-anchor="end">60</text>
<line class="tk" x1="302.1" y1="115.5" x2="302.1" y2="117.5"/>
<line class="tk" x1="205.5" y1="44.77" x2="207.5" y2="44.77"/>
<text class="tl" x="302.1" y="122" text-anchor="middle">80</text>
<text class="tl" x="205.2" y="46.67" text-anchor="end">80</text>
<line class="tk" x1="325.75" y1="115.5" x2="325.75" y2="117.5"/>
<line class="tk" x1="205.5" y1="27.08" x2="207.5" y2="27.08"/>
<text class="tl" x="325.75" y="122" text-anchor="middle">100</text>
<text class="tl" x="205.2" y="28.98" text-anchor="end">100</text>
<line class="tk" x1="349.4" y1="115.5" x2="349.4" y2="117.5"/>
<line class="tk" x1="205.5" y1="9.4" x2="207.5" y2="9.4"/>
<text class="tl" x="349.4" y="122" text-anchor="middle">120</text>
<text class="tl" x="205.2" y="11.3" text-anchor="end">120</text>
<text class="al" x="278.45" y="127" text-anchor="middle">Golden IR Drop (mV)</text>
<text class="al" x="196" y="62.45" text-anchor="middle" transform="rotate(-90 196 62.45)">Predicted IR Drop (mV)</text>
<rect class="lg" x="210.25" y="11.65" width="2.2" height="2.2"/>
<text class="tt" x="209.5" y="21.8" textLength="55" lengthAdjust="spacingAndGlyphs">DesignB-P2(VCD1)</text>
<text class="cp" x="276.35" y="132.9" text-anchor="middle">(b)</text>
<polygon class="cl" points="20.9,248.2 21.5,246.9 23.6,241.8 26.1,236.7 28.7,233.2 29.5,231.2 31,230.2 34.2,230.4 34.8,232.5 37.3,231.9 40,230.2 43.6,228.3 47.3,226.8 50.9,224.6 54.5,222.5 58.2,220.6 61.8,218.8 65.6,215.5 69.3,213.1 72.9,211.1 76.5,209 80.2,206.9 83.8,204.5 86,202.8 89,201 91,199.8 91,201.5 89,203.5 86,205 83.8,207.6 80.2,211.3 76.5,214.2 72.9,217.1 69.3,219.5 65.6,222.3 62,225.5 58.2,230 54.5,233 50.9,235.5 47.3,239 43.6,242 40.9,244.8 37.3,247.3 33.6,249.1 30.5,251.2 20.9,251.2"/>
<polygon class="hl" points="44,241.68 44.8,241.03 45.6,240.38 46.4,239.73 47.2,239.08 48,238.32 48.8,237.54 49.6,236.76 50.4,235.99 51.2,235.29 52,234.74 52.8,234.18 53.6,233.62 54.4,233.07 55.2,232.43 56,231.78 56.8,231.14 57.6,230.49 58.4,229.76 59.2,228.82 60,227.87 60.8,226.92 61.6,225.97 62.4,225.14 63.2,224.43 64,223.72 64.8,223.01 65.6,222.3 66.4,221.69 67.2,221.09 68,220.48 68.8,219.88 69.6,219.3 70.4,218.77 71.2,218.23 72,217.7 72.8,217.17 73.6,216.54 74.4,215.89 75.2,215.25 76,214.6 76.8,213.96 77.6,213.34 78.4,212.71 79.2,212.08 80,211.46 80.8,210.68 81.6,209.86 82.4,209.04 83.2,208.22 84,207.36 84.8,206.42 85.6,205.47 86.4,204.8 87.2,204.4 88,204 88,204 87.2,205.21 86.4,206.02 85.6,207.03 84.8,208.26 84,209.47 83.2,210.56 82.4,211.59 81.6,212.62 80.8,213.62 80,214.57 79.2,215.36 78.4,216.13 77.6,216.9 76.8,217.65 76,218.41 75.2,219.16 74.4,219.9 73.6,220.64 72.8,221.35 72,221.95 71.2,222.55 70.4,223.13 69.6,223.71 68.8,224.32 68,224.96 67.2,225.58 66.4,226.19 65.6,226.8 64.8,227.5 64,228.19 63.2,228.88 62.4,229.56 61.6,230.34 60.8,231.23 60,232.12 59.2,233 58.4,233.86 57.6,234.5 56.8,235.05 56,235.59 55.2,236.12 54.4,236.63 53.6,237.05 52.8,237.45 52,237.85 51.2,238.23 50.4,238.74 49.6,239.32 48.8,239.88 48,240.42 47.2,240.93 46.4,241.29 45.6,241.6 44.8,241.83 44,241.68"/>
<rect class="dt" x="75.44" y="218.01" width="0.9" height="0.9" opacity="0.52"/>
<rect class="dt" x="68.29" y="223.18" width="0.9" height="0.9" opacity="0.52"/>
<rect class="dt" x="80.43" y="210.53" width="0.9" height="0.9" opacity="0.74"/>
<rect class="dt" x="67.75" y="222.96" width="0.9" height="0.9" opacity="0.62"/>
<rect class="dt" x="62.03" y="227.45" width="0.9" height="0.9" opacity="0.67"/>
<rect class="dt" x="72.54" y="218.62" width="0.9" height="0.9" opacity="0.68"/>
<rect class="dt" x="44.58" y="241.03" width="0.9" height="0.9" opacity="0.70"/>
<rect class="dt" x="53.9" y="235.64" width="0.9" height="0.9" opacity="0.81"/>
<rect class="dt" x="63.71" y="224.01" width="0.9" height="0.9" opacity="0.69"/>
<rect class="dt" x="48.26" y="237.5" width="0.9" height="0.9" opacity="0.67"/>
<rect class="dt" x="47.59" y="238.86" width="0.9" height="0.9" opacity="0.70"/>
<rect class="dt" x="45.34" y="240.69" width="0.9" height="0.9" opacity="0.53"/>
<rect class="dt" x="75.82" y="217.15" width="0.9" height="0.9" opacity="0.70"/>
<rect class="dt" x="45.94" y="240.15" width="0.9" height="0.9" opacity="0.65"/>
<rect class="dt" x="85.39" y="204.96" width="0.9" height="0.9" opacity="0.84"/>
<rect class="dt" x="87.38" y="203.89" width="0.9" height="0.9" opacity="0.83"/>
<rect class="dt" x="52.07" y="237.4" width="0.9" height="0.9" opacity="0.70"/>
<rect class="dt" x="85.64" y="205.87" width="0.9" height="0.9" opacity="0.57"/>
<rect class="dt" x="78.24" y="215.48" width="0.9" height="0.9" opacity="0.53"/>
<rect class="dt" x="58.99" y="231.58" width="0.9" height="0.9" opacity="0.56"/>
<rect class="dt" x="83" y="208.2" width="0.9" height="0.9" opacity="0.83"/>
<rect class="dt" x="49.87" y="237.13" width="0.9" height="0.9" opacity="0.87"/>
<rect class="dt" x="52.72" y="234.44" width="0.9" height="0.9" opacity="0.70"/>
<rect class="dt" x="57.59" y="229.84" width="0.9" height="0.9" opacity="0.57"/>
<rect class="dt" x="50.64" y="237.92" width="0.9" height="0.9" opacity="0.77"/>
<rect class="dt" x="82.95" y="207.99" width="0.9" height="0.9" opacity="0.81"/>
<rect class="dt" x="48.61" y="238.24" width="0.9" height="0.9" opacity="0.75"/>
<rect class="dt" x="59.38" y="231.69" width="0.9" height="0.9" opacity="0.72"/>
<rect class="dt" x="69.07" y="223.19" width="0.9" height="0.9" opacity="0.54"/>
<rect class="dt" x="87.24" y="204.02" width="0.9" height="0.9" opacity="0.66"/>
<rect class="dt" x="78.65" y="212.67" width="0.9" height="0.9" opacity="0.90"/>
<rect class="dt" x="68.95" y="220.73" width="0.9" height="0.9" opacity="0.81"/>
<rect class="dt" x="63.01" y="224.62" width="0.9" height="0.9" opacity="0.80"/>
<rect class="dt" x="45.67" y="240.81" width="0.9" height="0.9" opacity="0.60"/>
<rect class="dt" x="71.68" y="221.76" width="0.9" height="0.9" opacity="0.73"/>
<rect class="dt" x="72.75" y="217.83" width="0.9" height="0.9" opacity="0.50"/>
<rect class="dt" x="45.04" y="240.21" width="0.9" height="0.9" opacity="0.75"/>
<rect class="dt" x="62.57" y="226.65" width="0.9" height="0.9" opacity="0.86"/>
<rect class="dt" x="49.36" y="236.76" width="0.9" height="0.9" opacity="0.76"/>
<rect class="dt" x="44.53" y="240.43" width="0.9" height="0.9" opacity="0.64"/>
<rect class="dt" x="48.23" y="238.11" width="0.9" height="0.9" opacity="0.59"/>
<rect class="dt" x="69.23" y="221.65" width="0.9" height="0.9" opacity="0.58"/>
<rect class="dt" x="71" y="219.86" width="0.9" height="0.9" opacity="0.55"/>
<rect class="dt" x="84.76" y="205.94" width="0.9" height="0.9" opacity="0.56"/>
<rect class="dt" x="47.77" y="239.18" width="0.9" height="0.9" opacity="0.85"/>
<rect class="dt" x="77.96" y="213.76" width="0.9" height="0.9" opacity="0.61"/>
<rect class="dt" x="44.06" y="241.25" width="0.9" height="0.9" opacity="0.72"/>
<rect class="dt" x="58.96" y="231.09" width="0.9" height="0.9" opacity="0.68"/>
<rect class="dt" x="84.78" y="206.82" width="0.9" height="0.9" opacity="0.60"/>
<rect class="dt" x="83.3" y="207.3" width="0.9" height="0.9" opacity="0.71"/>
<rect class="dt" x="61.41" y="226.36" width="0.9" height="0.9" opacity="0.52"/>
<rect class="dt" x="77.82" y="212.41" width="0.9" height="0.9" opacity="0.72"/>
<rect class="dt" x="84.95" y="205.51" width="0.9" height="0.9" opacity="0.58"/>
<rect class="dt" x="70.31" y="220.5" width="0.9" height="0.9" opacity="0.76"/>
<rect class="dt" x="79.34" y="211.78" width="0.9" height="0.9" opacity="0.62"/>
<rect class="dt" x="56.76" y="230.56" width="0.9" height="0.9" opacity="0.86"/>
<rect class="dt" x="78" y="214.91" width="0.9" height="0.9" opacity="0.50"/>
<rect class="dt" x="80.71" y="212.21" width="0.9" height="0.9" opacity="0.69"/>
<rect class="dt" x="76.19" y="215.49" width="0.9" height="0.9" opacity="0.59"/>
<rect class="dt" x="48.18" y="237.84" width="0.9" height="0.9" opacity="0.52"/>
<rect class="dt" x="58.31" y="232.3" width="0.9" height="0.9" opacity="0.78"/>
<rect class="dt" x="80.74" y="212.06" width="0.9" height="0.9" opacity="0.61"/>
<rect class="dt" x="67.92" y="221.9" width="0.9" height="0.9" opacity="0.82"/>
<rect class="dt" x="66.57" y="222.08" width="0.9" height="0.9" opacity="0.76"/>
<rect class="dt" x="86.02" y="204.6" width="0.9" height="0.9" opacity="0.85"/>
<rect class="dt" x="44.22" y="240.89" width="0.9" height="0.9" opacity="0.59"/>
<rect class="dt" x="76.28" y="217.41" width="0.9" height="0.9" opacity="0.80"/>
<rect class="dt" x="57.93" y="233.3" width="0.9" height="0.9" opacity="0.63"/>
<rect class="dt" x="54.07" y="236.1" width="0.9" height="0.9" opacity="0.75"/>
<polygon class="hl" points="27,235.49 27.8,234.41 28.6,233.33 29.4,231.45 30.2,230.73 31,230.2 31.8,230.25 32.6,230.3 33.4,230.35 34.2,230.4 35,232.45 35,232.45 34.2,229.41 33.4,228.9 32.6,228.54 31.8,228.31 31,228.2 30.2,228.79 29.4,229.69 28.6,231.88 27.8,233.42 27,235.49"/>
<rect class="dt" x="32.09" y="228.55" width="0.9" height="0.9" opacity="0.89"/>
<rect class="dt" x="30.31" y="228.07" width="0.9" height="0.9" opacity="0.78"/>
<rect class="dt" x="33.41" y="229.35" width="0.9" height="0.9" opacity="0.79"/>
<rect class="dt" x="31.11" y="229.12" width="0.9" height="0.9" opacity="0.58"/>
<rect class="dt" x="31.53" y="229.65" width="0.9" height="0.9" opacity="0.86"/>
<rect class="dt" x="21.91" y="244.75" width="0.9" height="0.9" opacity="1.00"/>
<rect class="dt" x="21.31" y="246.39" width="0.9" height="0.9" opacity="1.00"/>
<rect class="dt" x="22.09" y="242.74" width="0.9" height="0.9" opacity="0.89"/>
<rect class="dt" x="21.88" y="242.63" width="0.9" height="0.9" opacity="0.83"/>
<rect class="dt" x="20.94" y="244.24" width="0.9" height="0.9" opacity="0.76"/>
<rect class="dt" x="25.56" y="236.89" width="0.9" height="0.9" opacity="1.00"/>
<rect class="dt" x="24" y="236.28" width="0.9" height="0.9" opacity="0.63"/>
<rect class="dt" x="25.66" y="236.61" width="0.9" height="0.9" opacity="1.00"/>
<rect class="dt" x="23.81" y="240.37" width="0.9" height="0.9" opacity="1.00"/>
<rect class="dt" x="22.28" y="240.7" width="0.9" height="0.9" opacity="0.73"/>
<rect class="dt" x="24.77" y="237.01" width="0.9" height="0.9" opacity="0.89"/>
<rect class="dt" x="27.3" y="234.05" width="0.9" height="0.9" opacity="1.00"/>
<rect class="dt" x="26.05" y="236.01" width="0.9" height="0.9" opacity="1.00"/>
<rect class="dt" x="27.69" y="233.65" width="0.9" height="0.9" opacity="1.00"/>
<rect class="dt" x="26.37" y="235.05" width="0.9" height="0.9" opacity="0.97"/>
<rect class="dt" x="25.74" y="236.2" width="0.9" height="0.9" opacity="1.00"/>
<rect class="dt" x="28.76" y="231.29" width="0.9" height="0.9" opacity="0.98"/>
<rect class="dt" x="26.58" y="231.34" width="0.9" height="0.9" opacity="0.48"/>
<rect class="dt" x="30.09" y="229.55" width="0.9" height="0.9" opacity="0.89"/>
<rect class="dt" x="29.03" y="230.62" width="0.9" height="0.9" opacity="0.97"/>
<rect class="dt" x="33.03" y="229.86" width="0.9" height="0.9" opacity="0.99"/>
<rect class="dt" x="32.82" y="229.6" width="0.9" height="0.9" opacity="0.93"/>
<rect class="dt" x="31.31" y="228.66" width="0.9" height="0.9" opacity="0.72"/>
<rect class="dt" x="34.13" y="231.7" width="0.9" height="0.9" opacity="1.00"/>
<rect class="dt" x="33.66" y="229.98" width="0.9" height="0.9" opacity="1.00"/>
<rect class="dt" x="36.85" y="231.7" width="0.9" height="0.9" opacity="1.00"/>
<rect class="dt" x="35.52" y="231.54" width="0.9" height="0.9" opacity="0.94"/>
<rect class="dt" x="36.37" y="231.68" width="0.9" height="0.9" opacity="1.00"/>
<rect class="dt" x="37.26" y="230.02" width="0.9" height="0.9" opacity="0.75"/>
<rect class="dt" x="36.61" y="229.51" width="0.9" height="0.9" opacity="0.56"/>
<rect class="dt" x="37.66" y="231.04" width="0.9" height="0.9" opacity="1.00"/>
<rect class="dt" x="41.42" y="228.95" width="0.9" height="0.9" opacity="1.00"/>
<rect class="dt" x="41.93" y="228.71" width="0.9" height="0.9" opacity="1.00"/>
<rect class="dt" x="42.11" y="227.73" width="0.9" height="0.9" opacity="0.85"/>
<rect class="dt" x="42.18" y="227.86" width="0.9" height="0.9" opacity="0.89"/>
<rect class="dt" x="44.6" y="227.15" width="0.9" height="0.9" opacity="0.97"/>
<rect class="dt" x="46.51" y="226.69" width="0.9" height="0.9" opacity="1.00"/>
<rect class="dt" x="46.52" y="226.73" width="0.9" height="0.9" opacity="1.00"/>
<rect class="dt" x="43.93" y="227.57" width="0.9" height="0.9" opacity="1.00"/>
<rect class="dt" x="48.61" y="225.18" width="0.9" height="0.9" opacity="0.98"/>
<rect class="dt" x="50.07" y="224.46" width="0.9" height="0.9" opacity="1.00"/>
<rect class="dt" x="48.36" y="225.1" width="0.9" height="0.9" opacity="0.93"/>
<rect class="dt" x="49.19" y="224.07" width="0.9" height="0.9" opacity="0.82"/>
<rect class="dt" x="49.15" y="224.89" width="0.9" height="0.9" opacity="0.99"/>
<rect class="dt" x="50.48" y="222.92" width="0.9" height="0.9" opacity="0.74"/>
<rect class="dt" x="52.48" y="222.16" width="0.9" height="0.9" opacity="0.83"/>
<rect class="dt" x="50.98" y="223.66" width="0.9" height="0.9" opacity="0.96"/>
<rect class="dt" x="53.06" y="222.22" width="0.9" height="0.9" opacity="0.91"/>
<rect class="dt" x="55.18" y="220.05" width="0.9" height="0.9" opacity="0.68"/>
<rect class="dt" x="54.98" y="221.69" width="0.9" height="0.9" opacity="1.00"/>
<rect class="dt" x="54.89" y="220.94" width="0.9" height="0.9" opacity="0.85"/>
<rect class="dt" x="57.23" y="220.56" width="0.9" height="0.9" opacity="1.00"/>
<rect class="dt" x="58.63" y="219.68" width="0.9" height="0.9" opacity="0.99"/>
<rect class="dt" x="59.69" y="219.32" width="0.9" height="0.9" opacity="1.00"/>
<rect class="dt" x="58.98" y="219.65" width="0.9" height="0.9" opacity="1.00"/>
<rect class="dt" x="60.96" y="217.8" width="0.9" height="0.9" opacity="0.83"/>
<rect class="dt" x="65.12" y="215.31" width="0.9" height="0.9" opacity="1.00"/>
<rect class="dt" x="61.08" y="215.09" width="0.9" height="0.9" opacity="0.34"/>
<rect class="dt" x="63.93" y="215.22" width="0.9" height="0.9" opacity="0.83"/>
<rect class="dt" x="63.07" y="216.99" width="0.9" height="0.9" opacity="1.00"/>
<rect class="dt" x="63.89" y="216.37" width="0.9" height="0.9" opacity="1.00"/>
<rect class="dt" x="66.71" y="214.31" width="0.9" height="0.9" opacity="1.00"/>
<rect class="dt" x="66.17" y="213.38" width="0.9" height="0.9" opacity="0.79"/>
<rect class="dt" x="67.59" y="213.19" width="0.9" height="0.9" opacity="0.94"/>
<rect class="dt" x="67.39" y="213.38" width="0.9" height="0.9" opacity="0.95"/>
<rect class="dt" x="70.97" y="211.34" width="0.9" height="0.9" opacity="0.97"/>
<rect class="dt" x="70.83" y="209.93" width="0.9" height="0.9" opacity="0.64"/>
<rect class="dt" x="70.23" y="211.49" width="0.9" height="0.9" opacity="0.91"/>
<rect class="dt" x="71.48" y="211.04" width="0.9" height="0.9" opacity="0.97"/>
<rect class="dt" x="74.43" y="208.07" width="0.9" height="0.9" opacity="0.69"/>
<rect class="dt" x="74.94" y="208.51" width="0.9" height="0.9" opacity="0.85"/>
<rect class="dt" x="75.24" y="208.39" width="0.9" height="0.9" opacity="0.86"/>
<rect class="dt" x="74.67" y="209.15" width="0.9" height="0.9" opacity="0.96"/>
<rect class="dt" x="78.46" y="207.39" width="0.9" height="0.9" opacity="1.00"/>
<rect class="dt" x="77.2" y="206.96" width="0.9" height="0.9" opacity="0.80"/>
<rect class="dt" x="78.47" y="206.67" width="0.9" height="0.9" opacity="0.89"/>
<rect class="dt" x="76.91" y="207.91" width="0.9" height="0.9" opacity="0.97"/>
<rect class="dt" x="81.92" y="204.86" width="0.9" height="0.9" opacity="0.97"/>
<rect class="dt" x="81.29" y="203.49" width="0.9" height="0.9" opacity="0.60"/>
<rect class="dt" x="80.14" y="205.6" width="0.9" height="0.9" opacity="0.88"/>
<rect class="dt" x="82.5" y="204.5" width="0.9" height="0.9" opacity="0.98"/>
<rect class="dt" x="85.63" y="202.57" width="0.9" height="0.9" opacity="1.00"/>
<rect class="dt" x="84.62" y="203.23" width="0.9" height="0.9" opacity="1.00"/>
<rect class="dt" x="84.01" y="201.35" width="0.9" height="0.9" opacity="0.57"/>
<rect class="dt" x="85.67" y="201.87" width="0.9" height="0.9" opacity="0.91"/>
<rect class="dt" x="86.85" y="200.83" width="0.9" height="0.9" opacity="0.84"/>
<rect class="dt" x="86.85" y="201.03" width="0.9" height="0.9" opacity="0.88"/>
<rect class="dt" x="87.9" y="200.63" width="0.9" height="0.9" opacity="0.93"/>
<rect class="dt" x="90.49" y="199.49" width="0.9" height="0.9" opacity="1.00"/>
<rect class="dt" x="89.87" y="199.64" width="0.9" height="0.9" opacity="0.98"/>
<rect class="dt" x="92.19" y="203.18" width="0.9" height="0.9" opacity="0.33"/>
<rect class="dt" x="89.69" y="201.61" width="0.9" height="0.9" opacity="1.00"/>
<rect class="dt" x="90.08" y="201.67" width="0.9" height="0.9" opacity="0.97"/>
<rect class="dt" x="87.35" y="203.8" width="0.9" height="0.9" opacity="0.97"/>
<rect class="dt" x="86.48" y="204.15" width="0.9" height="0.9" opacity="0.99"/>
<rect class="dt" x="87.72" y="203.38" width="0.9" height="0.9" opacity="1.00"/>
<rect class="dt" x="83.69" y="207.17" width="0.9" height="0.9" opacity="0.93"/>
<rect class="dt" x="85.74" y="205.69" width="0.9" height="0.9" opacity="0.78"/>
<rect class="dt" x="84.62" y="205.52" width="0.9" height="0.9" opacity="1.00"/>
<rect class="dt" x="85.88" y="205.4" width="0.9" height="0.9" opacity="0.80"/>
<rect class="dt" x="81.21" y="209.63" width="0.9" height="0.9" opacity="0.95"/>
<rect class="dt" x="81.28" y="209.18" width="0.9" height="0.9" opacity="1.00"/>
<rect class="dt" x="79.92" y="210.75" width="0.9" height="0.9" opacity="0.99"/>
<rect class="dt" x="81.73" y="210.17" width="0.9" height="0.9" opacity="0.76"/>
<rect class="dt" x="80.55" y="210.3" width="0.9" height="0.9" opacity="0.95"/>
<rect class="dt" x="77.62" y="212.32" width="0.9" height="0.9" opacity="1.00"/>
<rect class="dt" x="76.7" y="213.31" width="0.9" height="0.9" opacity="0.99"/>
<rect class="dt" x="76.58" y="213.29" width="0.9" height="0.9" opacity="1.00"/>
<rect class="dt" x="78.33" y="211.91" width="0.9" height="0.9" opacity="1.00"/>
<rect class="dt" x="75.23" y="214.1" width="0.9" height="0.9" opacity="1.00"/>
<rect class="dt" x="73.44" y="215.83" width="0.9" height="0.9" opacity="1.00"/>
<rect class="dt" x="75.17" y="214.46" width="0.9" height="0.9" opacity="1.00"/>
<rect class="dt" x="74.41" y="215.25" width="0.9" height="0.9" opacity="0.96"/>
<rect class="dt" x="74.07" y="215.99" width="0.9" height="0.9" opacity="0.87"/>
<rect class="dt" x="69.72" y="219.79" width="0.9" height="0.9" opacity="0.73"/>
<rect class="dt" x="72.79" y="217.6" width="0.9" height="0.9" opacity="0.75"/>
<rect class="dt" x="69.65" y="219.51" width="0.9" height="0.9" opacity="0.79"/>
<rect class="dt" x="72.5" y="217.82" width="0.9" height="0.9" opacity="0.75"/>
<rect class="dt" x="68.65" y="218.9" width="0.9" height="0.9" opacity="1.00"/>
<rect class="dt" x="65.63" y="222.11" width="0.9" height="0.9" opacity="0.88"/>
<rect class="dt" x="67.82" y="219.61" width="0.9" height="0.9" opacity="1.00"/>
<rect class="dt" x="68.28" y="219.4" width="0.9" height="0.9" opacity="1.00"/>
<rect class="dt" x="66.01" y="221.26" width="0.9" height="0.9" opacity="0.99"/>
<rect class="dt" x="62.46" y="225.38" width="0.9" height="0.9" opacity="0.79"/>
<rect class="dt" x="65.41" y="223.36" width="0.9" height="0.9" opacity="0.67"/>
<rect class="dt" x="63.5" y="224.41" width="0.9" height="0.9" opacity="0.80"/>
<rect class="dt" x="63.62" y="224.98" width="0.9" height="0.9" opacity="0.67"/>
<rect class="dt" x="58.29" y="228.76" width="0.9" height="0.9" opacity="1.00"/>
<rect class="dt" x="59.13" y="228.35" width="0.9" height="0.9" opacity="0.93"/>
<rect class="dt" x="58.85" y="228.49" width="0.9" height="0.9" opacity="0.96"/>
<rect class="dt" x="58.44" y="229.23" width="0.9" height="0.9" opacity="0.92"/>
<rect class="dt" x="60.5" y="226.2" width="0.9" height="0.9" opacity="1.00"/>
<rect class="dt" x="61.19" y="225.82" width="0.9" height="0.9" opacity="0.94"/>
<rect class="dt" x="55.93" y="230.84" width="0.9" height="0.9" opacity="1.00"/>
<rect class="dt" x="56.08" y="231.2" width="0.9" height="0.9" opacity="0.94"/>
<rect class="dt" x="56.47" y="232.05" width="0.9" height="0.9" opacity="0.71"/>
<rect class="dt" x="58.38" y="230.37" width="0.9" height="0.9" opacity="0.74"/>
<rect class="dt" x="52.32" y="234.38" width="0.9" height="0.9" opacity="0.87"/>
<rect class="dt" x="51.07" y="234.72" width="0.9" height="0.9" opacity="0.98"/>
<rect class="dt" x="53.69" y="235.25" width="0.9" height="0.9" opacity="0.50"/>
<rect class="dt" x="54.04" y="233.12" width="0.9" height="0.9" opacity="0.89"/>
<rect class="dt" x="50.63" y="235.44" width="0.9" height="0.9" opacity="0.90"/>
<rect class="dt" x="49.13" y="238.61" width="0.9" height="0.9" opacity="0.59"/>
<rect class="dt" x="51.04" y="238.04" width="0.9" height="0.9" opacity="0.36"/>
<rect class="dt" x="48.76" y="236.99" width="0.9" height="0.9" opacity="0.95"/>
<rect class="dt" x="47.06" y="238.03" width="0.9" height="0.9" opacity="1.00"/>
<rect class="dt" x="44.56" y="240.46" width="0.9" height="0.9" opacity="0.99"/>
<rect class="dt" x="43.71" y="241.19" width="0.9" height="0.9" opacity="0.98"/>
<rect class="dt" x="45.27" y="240.18" width="0.9" height="0.9" opacity="0.93"/>
<rect class="dt" x="43.95" y="240.8" width="0.9" height="0.9" opacity="1.00"/>
<rect class="dt" x="45.32" y="239.96" width="0.9" height="0.9" opacity="0.97"/>
<rect class="dt" x="40.91" y="243.86" width="0.9" height="0.9" opacity="1.00"/>
<rect class="dt" x="41" y="243.95" width="0.9" height="0.9" opacity="0.97"/>
<rect class="dt" x="41.77" y="242.94" width="0.9" height="0.9" opacity="1.00"/>
<rect class="dt" x="43.46" y="244.59" width="0.9" height="0.9" opacity="0.42"/>
<rect class="dt" x="37.62" y="246.36" width="0.9" height="0.9" opacity="0.99"/>
<rect class="dt" x="39.31" y="245.14" width="0.9" height="0.9" opacity="1.00"/>
<rect class="dt" x="38.6" y="246.19" width="0.9" height="0.9" opacity="0.89"/>
<rect class="dt" x="37.5" y="246.13" width="0.9" height="0.9" opacity="1.00"/>
<rect class="dt" x="38.57" y="247.2" width="0.9" height="0.9" opacity="0.68"/>
<rect class="dt" x="36.67" y="246.94" width="0.9" height="0.9" opacity="1.00"/>
<rect class="dt" x="36.78" y="246.77" width="0.9" height="0.9" opacity="1.00"/>
<rect class="dt" x="33.62" y="248.87" width="0.9" height="0.9" opacity="0.90"/>
<rect class="dt" x="34.78" y="248.79" width="0.9" height="0.9" opacity="0.79"/>
<rect class="dt" x="31.49" y="250.28" width="0.9" height="0.9" opacity="0.89"/>
<rect class="dt" x="32.78" y="249.53" width="0.9" height="0.9" opacity="0.87"/>
<rect class="dt" x="30.3" y="227.1" width="0.9" height="0.9" opacity="0.39"/>
<rect class="dt" x="32.2" y="227.71" width="0.9" height="0.9" opacity="0.61"/>
<rect class="dt" x="29.76" y="227.34" width="0.9" height="0.9" opacity="0.66"/>
<rect class="dt" x="30.92" y="225.08" width="0.9" height="0.9" opacity="0.47"/>
<rect class="dt" x="30.08" y="225.32" width="0.9" height="0.9" opacity="0.52"/>
<rect class="dt" x="31.4" y="227.79" width="0.9" height="0.9" opacity="0.37"/>
<rect class="dt" x="30.96" y="224.21" width="0.9" height="0.9" opacity="0.40"/>
<rect class="dt" x="46.41" y="242.28" width="0.9" height="0.9" opacity="0.72"/>
<rect class="dt" x="44.23" y="240.59" width="0.9" height="0.9" opacity="0.50"/>
<rect class="dt" x="45.1" y="243.36" width="0.9" height="0.9" opacity="0.74"/>
<rect class="dt" x="44.4" y="241.79" width="0.9" height="0.9" opacity="0.39"/>
<rect class="dt" x="45.42" y="241.19" width="0.9" height="0.9" opacity="0.41"/>
<rect class="dt" x="45.65" y="240.92" width="0.9" height="0.9" opacity="0.74"/>
<rect class="dt" x="69.18" y="223.52" width="0.9" height="0.9" opacity="0.64"/>
<rect class="dt" x="69.84" y="225.4" width="0.9" height="0.9" opacity="0.69"/>
<rect class="dt" x="69.31" y="222.89" width="0.9" height="0.9" opacity="0.60"/>
<rect class="dt" x="69.06" y="224.39" width="0.9" height="0.9" opacity="0.72"/>
<rect class="dt" x="64.28" y="225.47" width="0.9" height="0.9" opacity="0.42"/>
<rect class="dt" x="70.88" y="224.5" width="0.9" height="0.9" opacity="0.37"/>
<rect class="dt" x="64.96" y="224.85" width="0.9" height="0.9" opacity="0.53"/>
<rect class="dt" x="68.67" y="223.13" width="0.9" height="0.9" opacity="0.67"/>
<rect class="dt" x="64.91" y="225.13" width="0.9" height="0.9" opacity="0.60"/>
<rect class="dt" x="48.89" y="220.21" width="0.9" height="0.9" opacity="0.66"/>
<rect class="dt" x="50.08" y="219.93" width="0.9" height="0.9" opacity="0.37"/>
<rect class="dt" x="52.17" y="220.05" width="0.9" height="0.9" opacity="0.59"/>
<rect class="dt" x="50.36" y="219.98" width="0.9" height="0.9" opacity="0.52"/>
<rect class="dt" x="52.65" y="220.18" width="0.9" height="0.9" opacity="0.62"/>
<rect class="dt" x="91.55" y="199.55" width="0.9" height="0.9" opacity="0.6"/>
<rect class="dt" x="93.05" y="198.55" width="0.9" height="0.9" opacity="0.6"/>
<rect class="dt" x="94.25" y="196.65" width="0.9" height="0.9" opacity="0.6"/>
<rect class="dt" x="95.55" y="197.05" width="0.9" height="0.9" opacity="0.6"/>
<rect class="dt" x="103.05" y="189.75" width="0.9" height="0.9" opacity="0.6"/>
<rect class="dt" x="120.75" y="177.35" width="0.9" height="0.9" opacity="0.6"/>
<rect class="dt" x="87.55" y="206.05" width="0.9" height="0.9" opacity="0.6"/>
<rect class="dt" x="89.55" y="205.05" width="0.9" height="0.9" opacity="0.6"/>
<rect class="dt" x="85.55" y="207.05" width="0.9" height="0.9" opacity="0.6"/>
<line class="rd" x1="20.9" y1="251.2" x2="162.6" y2="145.5"/>
<line class="gl" x1="20.9" y1="230.5" x2="134.85" y2="145.5"/>
<line class="gl" x1="48.65" y1="251.2" x2="162.6" y2="166.2"/>
<rect class="sp" x="20.9" y="145.5" width="141.7" height="105.7"/>
<line class="tk" x1="20.9" y1="251.2" x2="20.9" y2="253.2"/>
<line class="tk" x1="18.9" y1="251.2" x2="20.9" y2="251.2"/>
<text class="tl" x="20.9" y="257.7" text-anchor="middle">0</text>
<text class="tl" x="18.6" y="253.1" text-anchor="end">0</text>
<line class="tk" x1="44.52" y1="251.2" x2="44.52" y2="253.2"/>
<line class="tk" x1="18.9" y1="233.58" x2="20.9" y2="233.58"/>
<text class="tl" x="44.52" y="257.7" text-anchor="middle">20</text>
<text class="tl" x="18.6" y="235.48" text-anchor="end">20</text>
<line class="tk" x1="68.13" y1="251.2" x2="68.13" y2="253.2"/>
<line class="tk" x1="18.9" y1="215.97" x2="20.9" y2="215.97"/>
<text class="tl" x="68.13" y="257.7" text-anchor="middle">40</text>
<text class="tl" x="18.6" y="217.87" text-anchor="end">40</text>
<line class="tk" x1="91.75" y1="251.2" x2="91.75" y2="253.2"/>
<line class="tk" x1="18.9" y1="198.35" x2="20.9" y2="198.35"/>
<text class="tl" x="91.75" y="257.7" text-anchor="middle">60</text>
<text class="tl" x="18.6" y="200.25" text-anchor="end">60</text>
<line class="tk" x1="115.37" y1="251.2" x2="115.37" y2="253.2"/>
<line class="tk" x1="18.9" y1="180.73" x2="20.9" y2="180.73"/>
<text class="tl" x="115.37" y="257.7" text-anchor="middle">80</text>
<text class="tl" x="18.6" y="182.63" text-anchor="end">80</text>
<line class="tk" x1="138.98" y1="251.2" x2="138.98" y2="253.2"/>
<line class="tk" x1="18.9" y1="163.12" x2="20.9" y2="163.12"/>
<text class="tl" x="138.98" y="257.7" text-anchor="middle">100</text>
<text class="tl" x="18.6" y="165.02" text-anchor="end">100</text>
<line class="tk" x1="162.6" y1="251.2" x2="162.6" y2="253.2"/>
<line class="tk" x1="18.9" y1="145.5" x2="20.9" y2="145.5"/>
<text class="tl" x="162.6" y="257.7" text-anchor="middle">120</text>
<text class="tl" x="18.6" y="147.4" text-anchor="end">120</text>
<text class="al" x="91.75" y="263" text-anchor="middle">Golden IR Drop (mV)</text>
<text class="al" x="9.4" y="198.35" text-anchor="middle" transform="rotate(-90 9.4 198.35)">Predicted IR Drop (mV)</text>
<rect class="lg" x="23.75" y="147.66" width="2.2" height="2.2"/>
<text class="tt" x="23.1" y="157.6" textLength="55" lengthAdjust="spacingAndGlyphs">DesignB-P3(VCD1)</text>
<text class="cp" x="89.65" y="269.9" text-anchor="middle">(c)</text>
<polygon class="cl" points="207.7,248.5 208.2,247.5 209.5,245 211.3,241 213.2,237.2 214.5,234.5 216,233.6 217.5,233.8 218.4,236.3 220.6,234.9 224.3,232.7 228,230.2 229.6,228.8 233.3,226.9 236.9,225.3 240.5,223.4 244.2,221.5 247.8,219 251.6,215.8 255.3,213.5 258.9,211.3 262.5,209.1 266.2,206.9 269.8,204.7 272,203.3 275,201.5 275,203 272,205 269.8,207 266.2,210.5 262.5,213.5 258.9,216.4 255.3,219.3 251.6,222.3 248,225.8 244.2,230.5 240.5,233.6 236.9,236.6 233.3,239.6 229.6,242 226,244.2 224.3,245.6 220.6,247.5 216.9,249 213.2,250.5 207.7,250.5"/>
<polygon class="hl" points="232,240.44 232.8,239.92 233.6,239.35 234.4,238.68 235.2,238.02 236,237.35 236.8,236.68 237.6,236.02 238.4,235.35 239.2,234.68 240,234.02 240.8,233.35 241.6,232.68 242.4,232.01 243.2,231.34 244,230.67 244.8,229.76 245.6,228.77 246.4,227.78 247.2,226.79 248,225.8 248.8,225.02 249.6,224.24 250.4,223.47 251.2,222.69 252,221.98 252.8,221.33 253.6,220.68 254.4,220.03 255.2,219.38 256,218.74 256.8,218.09 257.6,217.45 258.4,216.8 259.2,216.16 260,215.51 260.8,214.87 261.6,214.22 262.4,213.58 263.2,212.93 264,212.28 264.8,211.64 265.6,210.99 266.4,210.31 267.2,209.53 268,208.75 268,208.75 267.2,210.34 266.4,211.53 265.6,212.55 264.8,213.48 264,214.39 263.2,215.26 262.4,216.12 261.6,216.96 260.8,217.78 260,218.58 259.2,219.37 258.4,220.15 257.6,220.91 256.8,221.67 256,222.41 255.2,223.13 254.4,223.85 253.6,224.56 252.8,225.26 252,225.94 251.2,226.68 250.4,227.47 249.6,228.24 248.8,229.01 248,229.76 247.2,230.72 246.4,231.66 245.6,232.59 244.8,233.51 244,234.34 243.2,234.91 242.4,235.48 241.6,236.03 240.8,236.56 240,237.08 239.2,237.59 238.4,238.08 237.6,238.56 236.8,239.01 236,239.45 235.2,239.86 234.4,240.24 233.6,240.58 232.8,240.73 232,240.44"/>
<rect class="dt" x="253.21" y="224" width="0.9" height="0.9" opacity="0.82"/>
<rect class="dt" x="241.75" y="231.73" width="0.9" height="0.9" opacity="0.61"/>
<rect class="dt" x="246.76" y="228.86" width="0.9" height="0.9" opacity="0.83"/>
<rect class="dt" x="263.5" y="211.97" width="0.9" height="0.9" opacity="0.83"/>
<rect class="dt" x="260.77" y="216.77" width="0.9" height="0.9" opacity="0.73"/>
<rect class="dt" x="241.41" y="235.18" width="0.9" height="0.9" opacity="0.82"/>
<rect class="dt" x="256.2" y="221.38" width="0.9" height="0.9" opacity="0.64"/>
<rect class="dt" x="234.61" y="238.78" width="0.9" height="0.9" opacity="0.82"/>
<rect class="dt" x="238.77" y="236.62" width="0.9" height="0.9" opacity="0.87"/>
<rect class="dt" x="239.98" y="235.31" width="0.9" height="0.9" opacity="0.77"/>
<rect class="dt" x="248.3" y="225.52" width="0.9" height="0.9" opacity="0.60"/>
<rect class="dt" x="258.59" y="218.66" width="0.9" height="0.9" opacity="0.68"/>
<rect class="dt" x="234.71" y="239.23" width="0.9" height="0.9" opacity="0.81"/>
<rect class="dt" x="239.93" y="235.25" width="0.9" height="0.9" opacity="0.86"/>
<rect class="dt" x="263.41" y="213.17" width="0.9" height="0.9" opacity="0.69"/>
<rect class="dt" x="252.77" y="221.35" width="0.9" height="0.9" opacity="0.58"/>
<rect class="dt" x="238.05" y="236.94" width="0.9" height="0.9" opacity="0.65"/>
<rect class="dt" x="251.87" y="223.02" width="0.9" height="0.9" opacity="0.71"/>
<rect class="dt" x="236.91" y="235.88" width="0.9" height="0.9" opacity="0.90"/>
<rect class="dt" x="245.02" y="228.93" width="0.9" height="0.9" opacity="0.75"/>
<rect class="dt" x="259.89" y="215.3" width="0.9" height="0.9" opacity="0.74"/>
<rect class="dt" x="243.97" y="231.9" width="0.9" height="0.9" opacity="0.51"/>
<rect class="dt" x="232.76" y="240.34" width="0.9" height="0.9" opacity="0.85"/>
<rect class="dt" x="249.06" y="226.38" width="0.9" height="0.9" opacity="0.60"/>
<rect class="dt" x="259.6" y="216.46" width="0.9" height="0.9" opacity="0.88"/>
<rect class="dt" x="259.17" y="218.2" width="0.9" height="0.9" opacity="0.89"/>
<rect class="dt" x="240.69" y="232.75" width="0.9" height="0.9" opacity="0.58"/>
<rect class="dt" x="238.06" y="235.06" width="0.9" height="0.9" opacity="0.52"/>
<rect class="dt" x="251.62" y="225.27" width="0.9" height="0.9" opacity="0.68"/>
<rect class="dt" x="265.65" y="211.49" width="0.9" height="0.9" opacity="0.53"/>
<rect class="dt" x="253.08" y="221.98" width="0.9" height="0.9" opacity="0.55"/>
<rect class="dt" x="266.08" y="210.05" width="0.9" height="0.9" opacity="0.73"/>
<rect class="dt" x="254.61" y="223" width="0.9" height="0.9" opacity="0.77"/>
<rect class="dt" x="245.7" y="229.54" width="0.9" height="0.9" opacity="0.56"/>
<rect class="dt" x="266.32" y="210.64" width="0.9" height="0.9" opacity="0.59"/>
<rect class="dt" x="232.94" y="239.39" width="0.9" height="0.9" opacity="0.64"/>
<rect class="dt" x="264.05" y="213.36" width="0.9" height="0.9" opacity="0.83"/>
<rect class="dt" x="233.24" y="239.92" width="0.9" height="0.9" opacity="0.78"/>
<rect class="dt" x="254.83" y="222.92" width="0.9" height="0.9" opacity="0.52"/>
<rect class="dt" x="236.76" y="237.92" width="0.9" height="0.9" opacity="0.88"/>
<rect class="dt" x="255.92" y="219.18" width="0.9" height="0.9" opacity="0.74"/>
<rect class="dt" x="258.83" y="216.01" width="0.9" height="0.9" opacity="0.63"/>
<rect class="dt" x="240.8" y="232.97" width="0.9" height="0.9" opacity="0.69"/>
<rect class="dt" x="237.62" y="235.87" width="0.9" height="0.9" opacity="0.56"/>
<rect class="dt" x="255.95" y="218.02" width="0.9" height="0.9" opacity="0.79"/>
<rect class="dt" x="238.57" y="234.49" width="0.9" height="0.9" opacity="0.87"/>
<rect class="dt" x="239.49" y="236.76" width="0.9" height="0.9" opacity="0.85"/>
<rect class="dt" x="263.54" y="212.16" width="0.9" height="0.9" opacity="0.68"/>
<rect class="dt" x="235.04" y="239.31" width="0.9" height="0.9" opacity="0.84"/>
<rect class="dt" x="254.17" y="221.29" width="0.9" height="0.9" opacity="0.64"/>
<polygon class="hl" points="212.5,238.6 213.36,236.87 214.21,235.09 215.07,234.16 215.93,233.64 216.79,233.7 217.64,234.2 218.5,236.24 218.5,236.24 217.64,232.38 216.79,231.12 215.93,230.69 215.07,231.2 214.21,232.51 213.36,235.06 212.5,238.6"/>
<rect class="dt" x="216.99" y="232.27" width="0.9" height="0.9" opacity="0.75"/>
<rect class="dt" x="212.91" y="235.98" width="0.9" height="0.9" opacity="0.52"/>
<rect class="dt" x="216.33" y="231.68" width="0.9" height="0.9" opacity="0.56"/>
<rect class="dt" x="217.27" y="233.47" width="0.9" height="0.9" opacity="0.66"/>
<rect class="dt" x="212.98" y="235.7" width="0.9" height="0.9" opacity="0.84"/>
<rect class="dt" x="214.06" y="233.54" width="0.9" height="0.9" opacity="0.70"/>
<rect class="dt" x="207.85" y="247.22" width="0.9" height="0.9" opacity="1.00"/>
<rect class="dt" x="208.69" y="245.42" width="0.9" height="0.9" opacity="1.00"/>
<rect class="dt" x="208.38" y="245.86" width="0.9" height="0.9" opacity="1.00"/>
<rect class="dt" x="209.35" y="243.72" width="0.9" height="0.9" opacity="0.98"/>
<rect class="dt" x="210.88" y="240.92" width="0.9" height="0.9" opacity="1.00"/>
<rect class="dt" x="208.35" y="242.84" width="0.9" height="0.9" opacity="0.67"/>
<rect class="dt" x="212.24" y="237.79" width="0.9" height="0.9" opacity="1.00"/>
<rect class="dt" x="212.92" y="236.94" width="0.9" height="0.9" opacity="1.00"/>
<rect class="dt" x="212.35" y="237.46" width="0.9" height="0.9" opacity="0.99"/>
<rect class="dt" x="211.34" y="240.13" width="0.9" height="0.9" opacity="1.00"/>
<rect class="dt" x="213.53" y="235.37" width="0.9" height="0.9" opacity="1.00"/>
<rect class="dt" x="212.01" y="234.95" width="0.9" height="0.9" opacity="0.64"/>
<rect class="dt" x="212.72" y="236.01" width="0.9" height="0.9" opacity="0.91"/>
<rect class="dt" x="213.92" y="233.22" width="0.9" height="0.9" opacity="0.80"/>
<rect class="dt" x="215.82" y="233.38" width="0.9" height="0.9" opacity="1.00"/>
<rect class="dt" x="215.73" y="232.76" width="0.9" height="0.9" opacity="0.90"/>
<rect class="dt" x="217.21" y="234.06" width="0.9" height="0.9" opacity="1.00"/>
<rect class="dt" x="218.18" y="234.67" width="0.9" height="0.9" opacity="0.85"/>
<rect class="dt" x="218.12" y="235.26" width="0.9" height="0.9" opacity="0.91"/>
<rect class="dt" x="217.73" y="235.19" width="0.9" height="0.9" opacity="0.83"/>
<rect class="dt" x="218.5" y="234.73" width="0.9" height="0.9" opacity="0.84"/>
<rect class="dt" x="223.13" y="232.64" width="0.9" height="0.9" opacity="0.99"/>
<rect class="dt" x="222.68" y="231.61" width="0.9" height="0.9" opacity="0.71"/>
<rect class="dt" x="222.1" y="233.57" width="0.9" height="0.9" opacity="1.00"/>
<rect class="dt" x="223.41" y="232.27" width="0.9" height="0.9" opacity="0.95"/>
<rect class="dt" x="224.89" y="231.67" width="0.9" height="0.9" opacity="1.00"/>
<rect class="dt" x="226.89" y="230.11" width="0.9" height="0.9" opacity="0.98"/>
<rect class="dt" x="224.41" y="231.78" width="0.9" height="0.9" opacity="0.98"/>
<rect class="dt" x="226.19" y="230.97" width="0.9" height="0.9" opacity="1.00"/>
<rect class="dt" x="225.68" y="230.82" width="0.9" height="0.9" opacity="0.96"/>
<rect class="dt" x="227.33" y="229.11" width="0.9" height="0.9" opacity="0.84"/>
<rect class="dt" x="228.1" y="227.74" width="0.9" height="0.9" opacity="0.71"/>
<rect class="dt" x="231.74" y="226.92" width="0.9" height="0.9" opacity="0.98"/>
<rect class="dt" x="232.02" y="227.11" width="0.9" height="0.9" opacity="1.00"/>
<rect class="dt" x="231.51" y="225" width="0.9" height="0.9" opacity="0.52"/>
<rect class="dt" x="230.86" y="227.18" width="0.9" height="0.9" opacity="0.94"/>
<rect class="dt" x="234.88" y="225.81" width="0.9" height="0.9" opacity="1.00"/>
<rect class="dt" x="236.36" y="224.97" width="0.9" height="0.9" opacity="1.00"/>
<rect class="dt" x="233.58" y="226.32" width="0.9" height="0.9" opacity="1.00"/>
<rect class="dt" x="233.37" y="225.19" width="0.9" height="0.9" opacity="0.77"/>
<rect class="dt" x="236.52" y="224.14" width="0.9" height="0.9" opacity="0.85"/>
<rect class="dt" x="237.26" y="224.69" width="0.9" height="0.9" opacity="1.00"/>
<rect class="dt" x="238.44" y="223.4" width="0.9" height="0.9" opacity="0.91"/>
<rect class="dt" x="238.05" y="223.33" width="0.9" height="0.9" opacity="0.85"/>
<rect class="dt" x="242.98" y="220.73" width="0.9" height="0.9" opacity="0.84"/>
<rect class="dt" x="240.29" y="223" width="0.9" height="0.9" opacity="1.00"/>
<rect class="dt" x="241.77" y="221.8" width="0.9" height="0.9" opacity="0.94"/>
<rect class="dt" x="241.16" y="222.56" width="0.9" height="0.9" opacity="1.00"/>
<rect class="dt" x="244.03" y="220.4" width="0.9" height="0.9" opacity="0.91"/>
<rect class="dt" x="246.93" y="219.01" width="0.9" height="0.9" opacity="1.00"/>
<rect class="dt" x="245.41" y="219.03" width="0.9" height="0.9" opacity="0.82"/>
<rect class="dt" x="243.79" y="219.84" width="0.9" height="0.9" opacity="0.76"/>
<rect class="dt" x="248.74" y="217.21" width="0.9" height="0.9" opacity="0.97"/>
<rect class="dt" x="250.37" y="215.65" width="0.9" height="0.9" opacity="0.93"/>
<rect class="dt" x="247.74" y="215.96" width="0.9" height="0.9" opacity="0.57"/>
<rect class="dt" x="250.28" y="216.03" width="0.9" height="0.9" opacity="0.99"/>
<rect class="dt" x="248.24" y="217.75" width="0.9" height="0.9" opacity="0.99"/>
<rect class="dt" x="254.31" y="212.34" width="0.9" height="0.9" opacity="0.78"/>
<rect class="dt" x="254.04" y="212.46" width="0.9" height="0.9" opacity="0.77"/>
<rect class="dt" x="254.4" y="213.58" width="0.9" height="0.9" opacity="1.00"/>
<rect class="dt" x="252.03" y="212.49" width="0.9" height="0.9" opacity="0.51"/>
<rect class="dt" x="255.68" y="212.39" width="0.9" height="0.9" opacity="0.97"/>
<rect class="dt" x="257.09" y="211.6" width="0.9" height="0.9" opacity="0.98"/>
<rect class="dt" x="256.87" y="212.05" width="0.9" height="0.9" opacity="1.00"/>
<rect class="dt" x="256.28" y="211.89" width="0.9" height="0.9" opacity="0.94"/>
<rect class="dt" x="255" y="213.13" width="0.9" height="0.9" opacity="1.00"/>
<rect class="dt" x="260.37" y="207.7" width="0.9" height="0.9" opacity="0.58"/>
<rect class="dt" x="260.26" y="208.68" width="0.9" height="0.9" opacity="0.77"/>
<rect class="dt" x="260.98" y="207.83" width="0.9" height="0.9" opacity="0.68"/>
<rect class="dt" x="258.33" y="210.37" width="0.9" height="0.9" opacity="0.88"/>
<rect class="dt" x="259.12" y="209.8" width="0.9" height="0.9" opacity="0.86"/>
<rect class="dt" x="263.26" y="206.12" width="0.9" height="0.9" opacity="0.61"/>
<rect class="dt" x="264.37" y="207.32" width="0.9" height="0.9" opacity="1.00"/>
<rect class="dt" x="263.9" y="207.38" width="0.9" height="0.9" opacity="0.96"/>
<rect class="dt" x="265.57" y="206.57" width="0.9" height="0.9" opacity="1.00"/>
<rect class="dt" x="268.16" y="205.16" width="0.9" height="0.9" opacity="1.00"/>
<rect class="dt" x="266.88" y="203.49" width="0.9" height="0.9" opacity="0.52"/>
<rect class="dt" x="267.62" y="205.35" width="0.9" height="0.9" opacity="1.00"/>
<rect class="dt" x="267.28" y="205.18" width="0.9" height="0.9" opacity="0.93"/>
<rect class="dt" x="269.7" y="204.2" width="0.9" height="0.9" opacity="1.00"/>
<rect class="dt" x="269.93" y="203.74" width="0.9" height="0.9" opacity="0.97"/>
<rect class="dt" x="272.38" y="202.57" width="0.9" height="0.9" opacity="1.00"/>
<rect class="dt" x="272.66" y="200.98" width="0.9" height="0.9" opacity="0.74"/>
<rect class="dt" x="273.2" y="201.46" width="0.9" height="0.9" opacity="0.91"/>
<rect class="dt" x="274.29" y="203.47" width="0.9" height="0.9" opacity="0.85"/>
<rect class="dt" x="273.34" y="203.73" width="0.9" height="0.9" opacity="0.92"/>
<rect class="dt" x="272.82" y="203.94" width="0.9" height="0.9" opacity="0.95"/>
<rect class="dt" x="273.59" y="203.12" width="0.9" height="0.9" opacity="1.00"/>
<rect class="dt" x="270.48" y="205.64" width="0.9" height="0.9" opacity="0.98"/>
<rect class="dt" x="270.1" y="205.54" width="0.9" height="0.9" opacity="1.00"/>
<rect class="dt" x="271.54" y="206.1" width="0.9" height="0.9" opacity="0.72"/>
<rect class="dt" x="267.5" y="208.66" width="0.9" height="0.9" opacity="0.94"/>
<rect class="dt" x="270.29" y="209.57" width="0.9" height="0.9" opacity="0.30"/>
<rect class="dt" x="268.83" y="208.15" width="0.9" height="0.9" opacity="0.80"/>
<rect class="dt" x="268.64" y="206.96" width="0.9" height="0.9" opacity="1.00"/>
<rect class="dt" x="266.32" y="209.71" width="0.9" height="0.9" opacity="0.96"/>
<rect class="dt" x="264.41" y="211.33" width="0.9" height="0.9" opacity="0.96"/>
<rect class="dt" x="262.92" y="212.12" width="0.9" height="0.9" opacity="1.00"/>
<rect class="dt" x="266.17" y="212.27" width="0.9" height="0.9" opacity="0.50"/>
<rect class="dt" x="262.93" y="212.16" width="0.9" height="0.9" opacity="1.00"/>
<rect class="dt" x="261.12" y="214.49" width="0.9" height="0.9" opacity="0.87"/>
<rect class="dt" x="260.51" y="215.68" width="0.9" height="0.9" opacity="0.73"/>
<rect class="dt" x="259.26" y="215.63" width="0.9" height="0.9" opacity="0.93"/>
<rect class="dt" x="259.83" y="215.74" width="0.9" height="0.9" opacity="0.82"/>
<rect class="dt" x="257.26" y="217.97" width="0.9" height="0.9" opacity="0.79"/>
<rect class="dt" x="256.82" y="219.15" width="0.9" height="0.9" opacity="0.63"/>
<rect class="dt" x="258.73" y="217.24" width="0.9" height="0.9" opacity="0.70"/>
<rect class="dt" x="258.91" y="216.56" width="0.9" height="0.9" opacity="0.81"/>
<rect class="dt" x="256.49" y="217.83" width="0.9" height="0.9" opacity="0.94"/>
<rect class="dt" x="252.81" y="220.67" width="0.9" height="0.9" opacity="0.97"/>
<rect class="dt" x="252.7" y="222.13" width="0.9" height="0.9" opacity="0.70"/>
<rect class="dt" x="252.66" y="220.74" width="0.9" height="0.9" opacity="0.98"/>
<rect class="dt" x="253.29" y="220.35" width="0.9" height="0.9" opacity="0.96"/>
<rect class="dt" x="252.17" y="221.01" width="0.9" height="0.9" opacity="1.00"/>
<rect class="dt" x="249.21" y="223.86" width="0.9" height="0.9" opacity="0.98"/>
<rect class="dt" x="250.57" y="223.57" width="0.9" height="0.9" opacity="0.79"/>
<rect class="dt" x="248.26" y="224.99" width="0.9" height="0.9" opacity="0.94"/>
<rect class="dt" x="249.48" y="223.33" width="0.9" height="0.9" opacity="1.00"/>
<rect class="dt" x="249.96" y="222.81" width="0.9" height="0.9" opacity="1.00"/>
<rect class="dt" x="245.2" y="227.97" width="0.9" height="0.9" opacity="1.00"/>
<rect class="dt" x="244.07" y="229.69" width="0.9" height="0.9" opacity="0.99"/>
<rect class="dt" x="245.14" y="229.96" width="0.9" height="0.9" opacity="0.74"/>
<rect class="dt" x="243.84" y="229.8" width="0.9" height="0.9" opacity="1.00"/>
<rect class="dt" x="247.05" y="228.26" width="0.9" height="0.9" opacity="0.64"/>
<rect class="dt" x="247.34" y="225.26" width="0.9" height="0.9" opacity="1.00"/>
<rect class="dt" x="242.89" y="232.76" width="0.9" height="0.9" opacity="0.62"/>
<rect class="dt" x="241.08" y="232.67" width="0.9" height="0.9" opacity="0.93"/>
<rect class="dt" x="240.22" y="233.34" width="0.9" height="0.9" opacity="0.93"/>
<rect class="dt" x="242.2" y="232.08" width="0.9" height="0.9" opacity="0.86"/>
<rect class="dt" x="242.35" y="231.3" width="0.9" height="0.9" opacity="0.99"/>
<rect class="dt" x="239.95" y="235.6" width="0.9" height="0.9" opacity="0.55"/>
<rect class="dt" x="237.79" y="235.39" width="0.9" height="0.9" opacity="0.93"/>
<rect class="dt" x="239.74" y="233.51" width="0.9" height="0.9" opacity="0.98"/>
<rect class="dt" x="238.82" y="234.6" width="0.9" height="0.9" opacity="0.92"/>
<rect class="dt" x="238.77" y="235.82" width="0.9" height="0.9" opacity="0.69"/>
<rect class="dt" x="234.8" y="237.73" width="0.9" height="0.9" opacity="0.96"/>
<rect class="dt" x="236.53" y="240.82" width="0.9" height="0.9" opacity="0.30"/>
<rect class="dt" x="235.39" y="237.39" width="0.9" height="0.9" opacity="0.93"/>
<rect class="dt" x="233.44" y="238.51" width="0.9" height="0.9" opacity="1.00"/>
<rect class="dt" x="236.86" y="238.98" width="0.9" height="0.9" opacity="0.39"/>
<rect class="dt" x="230.86" y="240.24" width="0.9" height="0.9" opacity="1.00"/>
<rect class="dt" x="229.85" y="241.77" width="0.9" height="0.9" opacity="0.86"/>
<rect class="dt" x="231.44" y="243.63" width="0.9" height="0.9" opacity="0.30"/>
<rect class="dt" x="229.64" y="241.39" width="0.9" height="0.9" opacity="0.97"/>
<rect class="dt" x="232.27" y="239.52" width="0.9" height="0.9" opacity="1.00"/>
<rect class="dt" x="227.28" y="242.57" width="0.9" height="0.9" opacity="1.00"/>
<rect class="dt" x="228.73" y="242.33" width="0.9" height="0.9" opacity="0.89"/>
<rect class="dt" x="227.01" y="242.92" width="0.9" height="0.9" opacity="0.99"/>
<rect class="dt" x="225.81" y="244.13" width="0.9" height="0.9" opacity="0.89"/>
<rect class="dt" x="225.38" y="244.97" width="0.9" height="0.9" opacity="0.79"/>
<rect class="dt" x="225.39" y="244.62" width="0.9" height="0.9" opacity="0.86"/>
<rect class="dt" x="223.2" y="246.66" width="0.9" height="0.9" opacity="0.74"/>
<rect class="dt" x="221.92" y="246.73" width="0.9" height="0.9" opacity="0.87"/>
<rect class="dt" x="223.23" y="245.73" width="0.9" height="0.9" opacity="0.94"/>
<rect class="dt" x="221.79" y="246.17" width="0.9" height="0.9" opacity="1.00"/>
<rect class="dt" x="218.07" y="248.02" width="0.9" height="0.9" opacity="0.97"/>
<rect class="dt" x="219.65" y="247.11" width="0.9" height="0.9" opacity="1.00"/>
<rect class="dt" x="217.28" y="248.03" width="0.9" height="0.9" opacity="1.00"/>
<rect class="dt" x="215.92" y="249.05" width="0.9" height="0.9" opacity="0.93"/>
<rect class="dt" x="213.39" y="249.57" width="0.9" height="0.9" opacity="1.00"/>
<rect class="dt" x="216.7" y="249.29" width="0.9" height="0.9" opacity="0.80"/>
<rect class="dt" x="214.84" y="229.41" width="0.9" height="0.9" opacity="0.49"/>
<rect class="dt" x="214.23" y="227.62" width="0.9" height="0.9" opacity="0.39"/>
<rect class="dt" x="217.17" y="228.88" width="0.9" height="0.9" opacity="0.49"/>
<rect class="dt" x="215.35" y="228.09" width="0.9" height="0.9" opacity="0.37"/>
<rect class="dt" x="217.11" y="228.88" width="0.9" height="0.9" opacity="0.73"/>
<rect class="dt" x="215.31" y="229.03" width="0.9" height="0.9" opacity="0.45"/>
<rect class="dt" x="253.1" y="228.62" width="0.9" height="0.9" opacity="0.71"/>
<rect class="dt" x="252.71" y="228.57" width="0.9" height="0.9" opacity="0.59"/>
<rect class="dt" x="254.15" y="229.53" width="0.9" height="0.9" opacity="0.73"/>
<rect class="dt" x="246.98" y="229" width="0.9" height="0.9" opacity="0.64"/>
<rect class="dt" x="246.76" y="228.6" width="0.9" height="0.9" opacity="0.70"/>
<rect class="dt" x="249.39" y="231.01" width="0.9" height="0.9" opacity="0.45"/>
<rect class="dt" x="246.28" y="228.84" width="0.9" height="0.9" opacity="0.42"/>
<rect class="dt" x="250.17" y="227.62" width="0.9" height="0.9" opacity="0.56"/>
<rect class="dt" x="248.41" y="229.07" width="0.9" height="0.9" opacity="0.38"/>
<rect class="dt" x="231.54" y="222.53" width="0.9" height="0.9" opacity="0.49"/>
<rect class="dt" x="232.51" y="220.62" width="0.9" height="0.9" opacity="0.46"/>
<rect class="dt" x="235.86" y="221.07" width="0.9" height="0.9" opacity="0.41"/>
<rect class="dt" x="236.2" y="220.33" width="0.9" height="0.9" opacity="0.46"/>
<rect class="dt" x="234.1" y="222.56" width="0.9" height="0.9" opacity="0.67"/>
<rect class="dt" x="276.25" y="198.55" width="0.9" height="0.9" opacity="0.6"/>
<rect class="dt" x="278.05" y="198.15" width="0.9" height="0.9" opacity="0.6"/>
<rect class="dt" x="285.05" y="194.25" width="0.9" height="0.9" opacity="0.6"/>
<rect class="dt" x="292.95" y="195.05" width="0.9" height="0.9" opacity="0.6"/>
<rect class="dt" x="296.45" y="184.85" width="0.9" height="0.9" opacity="0.6"/>
<rect class="dt" x="273.35" y="210.35" width="0.9" height="0.9" opacity="0.6"/>
<rect class="dt" x="275.05" y="204.05" width="0.9" height="0.9" opacity="0.6"/>
<rect class="dt" x="276.55" y="201.35" width="0.9" height="0.9" opacity="0.6"/>
<line class="rd" x1="207.4" y1="250.5" x2="349.5" y2="144.6"/>
<line class="gl" x1="207.4" y1="228.88" x2="320.49" y2="144.6"/>
<line class="gl" x1="236.41" y1="250.5" x2="349.5" y2="166.22"/>
<rect class="sp" x="207.4" y="144.6" width="142.1" height="105.9"/>
<line class="tk" x1="207.4" y1="250.5" x2="207.4" y2="252.5"/>
<line class="tk" x1="205.4" y1="250.5" x2="207.4" y2="250.5"/>
<text class="tl" x="207.4" y="257" text-anchor="middle">0</text>
<text class="tl" x="205.1" y="252.4" text-anchor="end">0</text>
<line class="tk" x1="231.08" y1="250.5" x2="231.08" y2="252.5"/>
<line class="tk" x1="205.4" y1="232.85" x2="207.4" y2="232.85"/>
<text class="tl" x="231.08" y="257" text-anchor="middle">20</text>
<text class="tl" x="205.1" y="234.75" text-anchor="end">20</text>
<line class="tk" x1="254.77" y1="250.5" x2="254.77" y2="252.5"/>
<line class="tk" x1="205.4" y1="215.2" x2="207.4" y2="215.2"/>
<text class="tl" x="254.77" y="257" text-anchor="middle">40</text>
<text class="tl" x="205.1" y="217.1" text-anchor="end">40</text>
<line class="tk" x1="278.45" y1="250.5" x2="278.45" y2="252.5"/>
<line class="tk" x1="205.4" y1="197.55" x2="207.4" y2="197.55"/>
<text class="tl" x="278.45" y="257" text-anchor="middle">60</text>
<text class="tl" x="205.1" y="199.45" text-anchor="end">60</text>
<line class="tk" x1="302.13" y1="250.5" x2="302.13" y2="252.5"/>
<line class="tk" x1="205.4" y1="179.9" x2="207.4" y2="179.9"/>
<text class="tl" x="302.13" y="257" text-anchor="middle">80</text>
<text class="tl" x="205.1" y="181.8" text-anchor="end">80</text>
<line class="tk" x1="325.82" y1="250.5" x2="325.82" y2="252.5"/>
<line class="tk" x1="205.4" y1="162.25" x2="207.4" y2="162.25"/>
<text class="tl" x="325.82" y="257" text-anchor="middle">100</text>
<text class="tl" x="205.1" y="164.15" text-anchor="end">100</text>
<line class="tk" x1="349.5" y1="250.5" x2="349.5" y2="252.5"/>
<line class="tk" x1="205.4" y1="144.6" x2="207.4" y2="144.6"/>
<text class="tl" x="349.5" y="257" text-anchor="middle">120</text>
<text class="tl" x="205.1" y="146.5" text-anchor="end">120</text>
<text class="al" x="278.45" y="262.5" text-anchor="middle">Golden IR Drop (mV)</text>
<text class="al" x="195.9" y="197.55" text-anchor="middle" transform="rotate(-90 195.9 197.55)">Predicted IR Drop (mV)</text>
<rect class="lg" x="209.8" y="146.76" width="2.2" height="2.2"/>
<text class="tt" x="208.7" y="156.7" textLength="55" lengthAdjust="spacingAndGlyphs">DesignB-P4(VCD1)</text>
<text class="cp" x="276.35" y="270.2" text-anchor="middle">(d)</text>
<polygon class="cl" points="21,386.5 22,385.4 22.8,381.4 24.6,377.8 26.6,375.3 29.2,372.7 31.2,370.2 33.2,367.6 35.3,365.1 37.5,362.8 40.2,361.2 43.5,360 46,359.2 48.6,359.4 49.6,361.8 52.3,361 56.4,358.4 60.5,356.2 62,355 66.1,351.6 70.2,349.3 74.3,347.1 78.4,345.4 80.5,344.5 80.5,347.5 78.4,348.8 74.3,352 70.2,356.1 66.1,359.4 62,362.7 60.5,366 56.4,369.1 52.3,372.4 49.9,375 49.2,379.3 46,380.3 43.5,382 40.2,383.6 36.8,384.3 33.4,385.3 30.1,386.3 27,388 21,388"/>
<polygon class="hl" points="26,376.05 26.8,375.1 27.6,374.3 28.4,373.5 29.2,372.7 30,371.7 30.8,370.7 31.6,369.68 32.4,368.64 33.2,367.6 34,366.65 34.8,365.7 35.6,364.79 36.4,363.95 37.2,363.11 38,362.5 38.8,362.03 39.6,361.56 40.4,361.13 41.2,360.84 42,360.55 42.8,360.25 43.6,359.97 44.4,359.71 45.2,359.46 46,359.2 46.8,359.26 47.6,359.32 48.4,359.38 49.2,360.84 50,361.68 50,361.68 49.2,360.2 48.4,358.41 47.6,358.09 46.8,357.8 46,357.55 45.2,357.64 44.4,357.75 43.6,357.88 42.8,358.05 42,358.25 41.2,358.47 40.4,358.7 39.6,359.09 38.8,359.54 38,360 37.2,360.62 36.4,361.48 35.6,362.36 34.8,363.33 34,364.35 33.2,365.4 32.4,366.55 31.6,367.72 30.8,368.88 30,370.05 29.2,371.24 28.4,372.26 27.6,373.33 26.8,374.46 26,376.05"/>
<rect class="dt" x="29.37" y="370.85" width="0.9" height="0.9" opacity="0.79"/>
<rect class="dt" x="34.6" y="362.44" width="0.9" height="0.9" opacity="0.58"/>
<rect class="dt" x="48.37" y="359.03" width="0.9" height="0.9" opacity="0.59"/>
<rect class="dt" x="36.41" y="362.66" width="0.9" height="0.9" opacity="0.78"/>
<rect class="dt" x="31.81" y="366.33" width="0.9" height="0.9" opacity="0.74"/>
<rect class="dt" x="34.38" y="364.57" width="0.9" height="0.9" opacity="0.74"/>
<rect class="dt" x="30.65" y="368.07" width="0.9" height="0.9" opacity="0.55"/>
<rect class="dt" x="37.86" y="360.38" width="0.9" height="0.9" opacity="0.61"/>
<rect class="dt" x="44.07" y="358.4" width="0.9" height="0.9" opacity="0.76"/>
<rect class="dt" x="39.17" y="360.25" width="0.9" height="0.9" opacity="0.66"/>
<rect class="dt" x="27.61" y="373.16" width="0.9" height="0.9" opacity="0.84"/>
<rect class="dt" x="33.25" y="364.9" width="0.9" height="0.9" opacity="0.54"/>
<rect class="dt" x="39.04" y="360.19" width="0.9" height="0.9" opacity="0.70"/>
<rect class="dt" x="32.68" y="367.09" width="0.9" height="0.9" opacity="0.62"/>
<rect class="dt" x="30.98" y="369.18" width="0.9" height="0.9" opacity="0.79"/>
<rect class="dt" x="32.33" y="366.75" width="0.9" height="0.9" opacity="0.86"/>
<rect class="dt" x="44.15" y="357.32" width="0.9" height="0.9" opacity="0.84"/>
<rect class="dt" x="28.72" y="371.84" width="0.9" height="0.9" opacity="0.51"/>
<rect class="dt" x="41.86" y="358.33" width="0.9" height="0.9" opacity="0.64"/>
<rect class="dt" x="35.45" y="362.25" width="0.9" height="0.9" opacity="0.78"/>
<rect class="dt" x="31.51" y="366.87" width="0.9" height="0.9" opacity="0.64"/>
<polygon class="hl" points="50,374.89 50.81,374.01 51.62,373.13 52.44,372.29 53.25,371.64 54.06,370.98 54.88,370.33 55.69,369.67 56.5,369.02 57.31,368.41 58.12,367.8 58.94,367.18 59.75,366.57 60.56,365.86 61.38,364.07 62.19,362.55 63,361.9 63.81,361.24 64.62,360.59 65.44,359.93 66.25,359.28 67.06,358.63 67.88,357.97 68.69,357.32 69.5,356.66 70.31,355.99 71.12,355.18 71.94,354.36 72.75,353.55 73.56,352.74 74.38,351.94 75.19,351.31 76,350.67 76,350.67 75.19,352.05 74.38,353.07 73.56,354.17 72.75,355.24 71.94,356.27 71.12,357.28 70.31,358.27 69.5,359.1 68.69,359.89 67.88,360.66 67.06,361.41 66.25,362.14 65.44,362.86 64.62,363.55 63.81,364.23 63,364.9 62.19,365.54 61.38,367.04 60.56,368.78 59.75,369.43 58.94,369.96 58.12,370.48 57.31,370.98 56.5,371.46 55.69,371.96 54.88,372.44 54.06,372.89 53.25,373.32 52.44,373.72 51.62,374.26 50.81,374.76 50,374.89"/>
<rect class="dt" x="65.9" y="359.32" width="0.9" height="0.9" opacity="0.55"/>
<rect class="dt" x="73.28" y="353.23" width="0.9" height="0.9" opacity="0.79"/>
<rect class="dt" x="50.6" y="373.34" width="0.9" height="0.9" opacity="0.56"/>
<rect class="dt" x="54.7" y="370.38" width="0.9" height="0.9" opacity="0.65"/>
<rect class="dt" x="50.57" y="373.63" width="0.9" height="0.9" opacity="0.76"/>
<rect class="dt" x="54.22" y="371.94" width="0.9" height="0.9" opacity="0.73"/>
<rect class="dt" x="68.18" y="357.63" width="0.9" height="0.9" opacity="0.67"/>
<rect class="dt" x="67.34" y="358.62" width="0.9" height="0.9" opacity="0.50"/>
<rect class="dt" x="71.24" y="355.84" width="0.9" height="0.9" opacity="0.61"/>
<rect class="dt" x="50.67" y="374.08" width="0.9" height="0.9" opacity="0.74"/>
<rect class="dt" x="50.78" y="373.36" width="0.9" height="0.9" opacity="0.54"/>
<rect class="dt" x="70.13" y="355.79" width="0.9" height="0.9" opacity="0.87"/>
<rect class="dt" x="69.04" y="356.45" width="0.9" height="0.9" opacity="0.78"/>
<rect class="dt" x="59.78" y="368.13" width="0.9" height="0.9" opacity="0.83"/>
<rect class="dt" x="56.86" y="368.22" width="0.9" height="0.9" opacity="0.88"/>
<rect class="dt" x="60.57" y="367.42" width="0.9" height="0.9" opacity="0.78"/>
<rect class="dt" x="68.75" y="358.72" width="0.9" height="0.9" opacity="0.75"/>
<rect class="dt" x="61.32" y="362.93" width="0.9" height="0.9" opacity="0.78"/>
<rect class="dt" x="60.69" y="365.81" width="0.9" height="0.9" opacity="0.87"/>
<rect class="dt" x="52.87" y="372.56" width="0.9" height="0.9" opacity="0.52"/>
<rect class="dt" x="67.82" y="359.53" width="0.9" height="0.9" opacity="0.60"/>
<rect class="dt" x="63.76" y="363.65" width="0.9" height="0.9" opacity="0.76"/>
<rect class="dt" x="63.69" y="361.35" width="0.9" height="0.9" opacity="0.52"/>
<rect class="dt" x="58.85" y="367.73" width="0.9" height="0.9" opacity="0.58"/>
<rect class="dt" x="57.62" y="367.79" width="0.9" height="0.9" opacity="0.78"/>
<rect class="dt" x="66.98" y="358.6" width="0.9" height="0.9" opacity="0.60"/>
<rect class="dt" x="62.95" y="362.59" width="0.9" height="0.9" opacity="0.87"/>
<rect class="dt" x="21.97" y="382.69" width="0.9" height="0.9" opacity="0.99"/>
<rect class="dt" x="21.9" y="381.63" width="0.9" height="0.9" opacity="0.92"/>
<rect class="dt" x="22.28" y="381.93" width="0.9" height="0.9" opacity="1.00"/>
<rect class="dt" x="21.7" y="382.21" width="0.9" height="0.9" opacity="0.90"/>
<rect class="dt" x="22.84" y="377.75" width="0.9" height="0.9" opacity="0.75"/>
<rect class="dt" x="22.57" y="380.54" width="0.9" height="0.9" opacity="1.00"/>
<rect class="dt" x="23.08" y="379.69" width="0.9" height="0.9" opacity="1.00"/>
<rect class="dt" x="22.48" y="380.74" width="0.9" height="0.9" opacity="1.00"/>
<rect class="dt" x="25.42" y="375.49" width="0.9" height="0.9" opacity="0.96"/>
<rect class="dt" x="24.36" y="377.05" width="0.9" height="0.9" opacity="0.99"/>
<rect class="dt" x="25.04" y="376.14" width="0.9" height="0.9" opacity="0.98"/>
<rect class="dt" x="26.51" y="374.83" width="0.9" height="0.9" opacity="1.00"/>
<rect class="dt" x="28.22" y="371.76" width="0.9" height="0.9" opacity="0.82"/>
<rect class="dt" x="25.92" y="374.18" width="0.9" height="0.9" opacity="0.84"/>
<rect class="dt" x="30.01" y="370.95" width="0.9" height="0.9" opacity="1.00"/>
<rect class="dt" x="29.61" y="370.93" width="0.9" height="0.9" opacity="0.96"/>
<rect class="dt" x="28.9" y="371.59" width="0.9" height="0.9" opacity="0.93"/>
<rect class="dt" x="27.58" y="371.28" width="0.9" height="0.9" opacity="0.62"/>
<rect class="dt" x="30.68" y="367.1" width="0.9" height="0.9" opacity="0.58"/>
<rect class="dt" x="32.09" y="368.08" width="0.9" height="0.9" opacity="1.00"/>
<rect class="dt" x="31.36" y="369.2" width="0.9" height="0.9" opacity="1.00"/>
<rect class="dt" x="33.59" y="364.55" width="0.9" height="0.9" opacity="0.74"/>
<rect class="dt" x="33.45" y="366.48" width="0.9" height="0.9" opacity="1.00"/>
<rect class="dt" x="33.28" y="364.87" width="0.9" height="0.9" opacity="0.74"/>
<rect class="dt" x="34.62" y="363.69" width="0.9" height="0.9" opacity="0.79"/>
<rect class="dt" x="36.17" y="362.26" width="0.9" height="0.9" opacity="0.83"/>
<rect class="dt" x="35.65" y="363.97" width="0.9" height="0.9" opacity="1.00"/>
<rect class="dt" x="36.65" y="362.74" width="0.9" height="0.9" opacity="0.99"/>
<rect class="dt" x="38.5" y="361.41" width="0.9" height="0.9" opacity="0.98"/>
<rect class="dt" x="39.32" y="361.07" width="0.9" height="0.9" opacity="1.00"/>
<rect class="dt" x="36.99" y="362" width="0.9" height="0.9" opacity="0.92"/>
<rect class="dt" x="42.25" y="359.2" width="0.9" height="0.9" opacity="0.85"/>
<rect class="dt" x="42.13" y="357.99" width="0.9" height="0.9" opacity="0.56"/>
<rect class="dt" x="41.3" y="359.94" width="0.9" height="0.9" opacity="0.94"/>
<rect class="dt" x="40.27" y="360.56" width="0.9" height="0.9" opacity="1.00"/>
<rect class="dt" x="43.08" y="358.95" width="0.9" height="0.9" opacity="0.86"/>
<rect class="dt" x="43.41" y="359.27" width="0.9" height="0.9" opacity="0.96"/>
<rect class="dt" x="45.53" y="358.95" width="0.9" height="0.9" opacity="1.00"/>
<rect class="dt" x="46.68" y="358.94" width="0.9" height="0.9" opacity="1.00"/>
<rect class="dt" x="47.41" y="359.14" width="0.9" height="0.9" opacity="1.00"/>
<rect class="dt" x="49.77" y="360.68" width="0.9" height="0.9" opacity="0.79"/>
<rect class="dt" x="48.56" y="359.98" width="0.9" height="0.9" opacity="1.00"/>
<rect class="dt" x="49.05" y="360.44" width="0.9" height="0.9" opacity="0.94"/>
<rect class="dt" x="50.02" y="360.93" width="0.9" height="0.9" opacity="0.96"/>
<rect class="dt" x="50.67" y="359.88" width="0.9" height="0.9" opacity="0.76"/>
<rect class="dt" x="51.63" y="360.75" width="0.9" height="0.9" opacity="1.00"/>
<rect class="dt" x="53.49" y="359.12" width="0.9" height="0.9" opacity="0.92"/>
<rect class="dt" x="53.33" y="359.73" width="0.9" height="0.9" opacity="1.00"/>
<rect class="dt" x="52.19" y="360.31" width="0.9" height="0.9" opacity="0.99"/>
<rect class="dt" x="52.54" y="357.46" width="0.9" height="0.9" opacity="0.44"/>
<rect class="dt" x="54.96" y="357.21" width="0.9" height="0.9" opacity="0.71"/>
<rect class="dt" x="59.69" y="355.46" width="0.9" height="0.9" opacity="0.89"/>
<rect class="dt" x="59.37" y="356.35" width="0.9" height="0.9" opacity="1.00"/>
<rect class="dt" x="58.53" y="356.1" width="0.9" height="0.9" opacity="0.90"/>
<rect class="dt" x="57.01" y="356.99" width="0.9" height="0.9" opacity="0.91"/>
<rect class="dt" x="59.76" y="355.67" width="0.9" height="0.9" opacity="0.95"/>
<rect class="dt" x="60.47" y="355.36" width="0.9" height="0.9" opacity="0.99"/>
<rect class="dt" x="61.52" y="354.87" width="0.9" height="0.9" opacity="1.00"/>
<rect class="dt" x="64.23" y="352.12" width="0.9" height="0.9" opacity="0.96"/>
<rect class="dt" x="61.58" y="353.87" width="0.9" height="0.9" opacity="0.87"/>
<rect class="dt" x="62.85" y="353.01" width="0.9" height="0.9" opacity="0.91"/>
<rect class="dt" x="63.08" y="352.92" width="0.9" height="0.9" opacity="0.93"/>
<rect class="dt" x="63.8" y="352.55" width="0.9" height="0.9" opacity="0.97"/>
<rect class="dt" x="65.76" y="349.61" width="0.9" height="0.9" opacity="0.68"/>
<rect class="dt" x="67.98" y="350.03" width="0.9" height="0.9" opacity="1.00"/>
<rect class="dt" x="69.21" y="349.21" width="0.9" height="0.9" opacity="1.00"/>
<rect class="dt" x="65.9" y="350.69" width="0.9" height="0.9" opacity="0.93"/>
<rect class="dt" x="71.61" y="347.5" width="0.9" height="0.9" opacity="0.92"/>
<rect class="dt" x="70.52" y="348.05" width="0.9" height="0.9" opacity="0.91"/>
<rect class="dt" x="70.09" y="348.38" width="0.9" height="0.9" opacity="0.94"/>
<rect class="dt" x="72.25" y="347.72" width="0.9" height="0.9" opacity="1.00"/>
<rect class="dt" x="74.09" y="346.38" width="0.9" height="0.9" opacity="0.96"/>
<rect class="dt" x="77.27" y="344.9" width="0.9" height="0.9" opacity="0.92"/>
<rect class="dt" x="76.5" y="344.75" width="0.9" height="0.9" opacity="0.82"/>
<rect class="dt" x="73.16" y="343.66" width="0.9" height="0.9" opacity="0.30"/>
<rect class="dt" x="77.77" y="343.95" width="0.9" height="0.9" opacity="0.75"/>
<rect class="dt" x="78.82" y="344.71" width="0.9" height="0.9" opacity="1.00"/>
<rect class="dt" x="79.84" y="343.78" width="0.9" height="0.9" opacity="0.92"/>
<rect class="dt" x="80.18" y="347.91" width="0.9" height="0.9" opacity="0.80"/>
<rect class="dt" x="79.9" y="347.07" width="0.9" height="0.9" opacity="1.00"/>
<rect class="dt" x="79.14" y="347.33" width="0.9" height="0.9" opacity="1.00"/>
<rect class="dt" x="77.08" y="349.03" width="0.9" height="0.9" opacity="1.00"/>
<rect class="dt" x="75.13" y="350.72" width="0.9" height="0.9" opacity="0.97"/>
<rect class="dt" x="74.57" y="351.53" width="0.9" height="0.9" opacity="0.89"/>
<rect class="dt" x="74.58" y="351.4" width="0.9" height="0.9" opacity="0.92"/>
<rect class="dt" x="74.92" y="352.22" width="0.9" height="0.9" opacity="0.70"/>
<rect class="dt" x="70.82" y="354.64" width="0.9" height="0.9" opacity="0.99"/>
<rect class="dt" x="71.11" y="355.07" width="0.9" height="0.9" opacity="0.86"/>
<rect class="dt" x="70.35" y="354.82" width="0.9" height="0.9" opacity="1.00"/>
<rect class="dt" x="72.81" y="353.56" width="0.9" height="0.9" opacity="0.83"/>
<rect class="dt" x="70.42" y="355.89" width="0.9" height="0.9" opacity="0.84"/>
<rect class="dt" x="67.16" y="357.51" width="0.9" height="0.9" opacity="1.00"/>
<rect class="dt" x="68.06" y="358.15" width="0.9" height="0.9" opacity="0.78"/>
<rect class="dt" x="70.27" y="357.24" width="0.9" height="0.9" opacity="0.61"/>
<rect class="dt" x="66.95" y="357.84" width="0.9" height="0.9" opacity="1.00"/>
<rect class="dt" x="69.06" y="356.42" width="0.9" height="0.9" opacity="0.96"/>
<rect class="dt" x="63.16" y="360.74" width="0.9" height="0.9" opacity="1.00"/>
<rect class="dt" x="65.46" y="358.89" width="0.9" height="0.9" opacity="1.00"/>
<rect class="dt" x="62.3" y="361.51" width="0.9" height="0.9" opacity="1.00"/>
<rect class="dt" x="63.37" y="360.77" width="0.9" height="0.9" opacity="1.00"/>
<rect class="dt" x="62.89" y="361.28" width="0.9" height="0.9" opacity="0.98"/>
<rect class="dt" x="65.82" y="360.37" width="0.9" height="0.9" opacity="0.70"/>
<rect class="dt" x="61.34" y="364.9" width="0.9" height="0.9" opacity="0.77"/>
<rect class="dt" x="59.91" y="365.28" width="0.9" height="0.9" opacity="1.00"/>
<rect class="dt" x="60.91" y="363.32" width="0.9" height="0.9" opacity="1.00"/>
<rect class="dt" x="61.89" y="364.4" width="0.9" height="0.9" opacity="0.70"/>
<rect class="dt" x="59.84" y="365.57" width="0.9" height="0.9" opacity="1.00"/>
<rect class="dt" x="57.02" y="368.52" width="0.9" height="0.9" opacity="0.86"/>
<rect class="dt" x="58.56" y="366.93" width="0.9" height="0.9" opacity="0.95"/>
<rect class="dt" x="60.04" y="366.88" width="0.9" height="0.9" opacity="0.74"/>
<rect class="dt" x="59.16" y="367.72" width="0.9" height="0.9" opacity="0.70"/>
<rect class="dt" x="55.66" y="368.92" width="0.9" height="0.9" opacity="0.99"/>
<rect class="dt" x="55.89" y="370.39" width="0.9" height="0.9" opacity="0.67"/>
<rect class="dt" x="53.4" y="370.42" width="0.9" height="0.9" opacity="1.00"/>
<rect class="dt" x="55.29" y="369.26" width="0.9" height="0.9" opacity="0.98"/>
<rect class="dt" x="54.25" y="370.47" width="0.9" height="0.9" opacity="0.91"/>
<rect class="dt" x="50.82" y="372.7" width="0.9" height="0.9" opacity="1.00"/>
<rect class="dt" x="50.49" y="373.48" width="0.9" height="0.9" opacity="0.99"/>
<rect class="dt" x="51.93" y="372.13" width="0.9" height="0.9" opacity="0.95"/>
<rect class="dt" x="49.28" y="374.72" width="0.9" height="0.9" opacity="1.00"/>
<rect class="dt" x="48.95" y="377.43" width="0.9" height="0.9" opacity="1.00"/>
<rect class="dt" x="49.49" y="375.76" width="0.9" height="0.9" opacity="0.94"/>
<rect class="dt" x="49.6" y="375.73" width="0.9" height="0.9" opacity="0.92"/>
<rect class="dt" x="51.01" y="377.13" width="0.9" height="0.9" opacity="0.51"/>
<rect class="dt" x="48.74" y="379.19" width="0.9" height="0.9" opacity="0.92"/>
<rect class="dt" x="46.64" y="380.76" width="0.9" height="0.9" opacity="0.70"/>
<rect class="dt" x="46.41" y="380.06" width="0.9" height="0.9" opacity="0.89"/>
<rect class="dt" x="46.74" y="379.55" width="0.9" height="0.9" opacity="0.98"/>
<rect class="dt" x="44.23" y="382.19" width="0.9" height="0.9" opacity="0.70"/>
<rect class="dt" x="43.51" y="381.9" width="0.9" height="0.9" opacity="0.86"/>
<rect class="dt" x="45.22" y="380.99" width="0.9" height="0.9" opacity="0.81"/>
<rect class="dt" x="41.57" y="382.77" width="0.9" height="0.9" opacity="0.89"/>
<rect class="dt" x="42.03" y="382.39" width="0.9" height="0.9" opacity="0.92"/>
<rect class="dt" x="41.62" y="382.01" width="0.9" height="0.9" opacity="1.00"/>
<rect class="dt" x="41.95" y="382.11" width="0.9" height="0.9" opacity="0.99"/>
<rect class="dt" x="38.13" y="383.56" width="0.9" height="0.9" opacity="0.98"/>
<rect class="dt" x="38.91" y="383.26" width="0.9" height="0.9" opacity="1.00"/>
<rect class="dt" x="38.53" y="383.25" width="0.9" height="0.9" opacity="1.00"/>
<rect class="dt" x="39.96" y="384.31" width="0.9" height="0.9" opacity="0.70"/>
<rect class="dt" x="34.93" y="384.62" width="0.9" height="0.9" opacity="0.92"/>
<rect class="dt" x="35.29" y="384.04" width="0.9" height="0.9" opacity="1.00"/>
<rect class="dt" x="36.12" y="383.92" width="0.9" height="0.9" opacity="1.00"/>
<rect class="dt" x="30.64" y="385.87" width="0.9" height="0.9" opacity="0.92"/>
<rect class="dt" x="29.87" y="385.83" width="0.9" height="0.9" opacity="0.99"/>
<rect class="dt" x="30.02" y="386.12" width="0.9" height="0.9" opacity="0.91"/>
<rect class="dt" x="29.27" y="386.47" width="0.9" height="0.9" opacity="0.91"/>
<rect class="dt" x="37.3" y="358.65" width="0.9" height="0.9" opacity="0.46"/>
<rect class="dt" x="32.18" y="356.12" width="0.9" height="0.9" opacity="0.63"/>
<rect class="dt" x="33.04" y="356.65" width="0.9" height="0.9" opacity="0.43"/>
<rect class="dt" x="39.2" y="358.51" width="0.9" height="0.9" opacity="0.61"/>
<rect class="dt" x="32.7" y="357.99" width="0.9" height="0.9" opacity="0.74"/>
<rect class="dt" x="39.17" y="355.37" width="0.9" height="0.9" opacity="0.67"/>
<rect class="dt" x="43.56" y="356.41" width="0.9" height="0.9" opacity="0.40"/>
<rect class="dt" x="32.56" y="357.2" width="0.9" height="0.9" opacity="0.70"/>
<rect class="dt" x="39.79" y="358.74" width="0.9" height="0.9" opacity="0.43"/>
<rect class="dt" x="34.78" y="358.05" width="0.9" height="0.9" opacity="0.61"/>
<rect class="dt" x="36.04" y="357.77" width="0.9" height="0.9" opacity="0.49"/>
<rect class="dt" x="30.47" y="356.71" width="0.9" height="0.9" opacity="0.37"/>
<rect class="dt" x="24.31" y="371.9" width="0.9" height="0.9" opacity="0.55"/>
<rect class="dt" x="24.14" y="371.12" width="0.9" height="0.9" opacity="0.54"/>
<rect class="dt" x="23.93" y="378.43" width="0.9" height="0.9" opacity="0.37"/>
<rect class="dt" x="24.23" y="375.79" width="0.9" height="0.9" opacity="0.48"/>
<rect class="dt" x="21.41" y="376.22" width="0.9" height="0.9" opacity="0.39"/>
<rect class="dt" x="25.43" y="372.78" width="0.9" height="0.9" opacity="0.57"/>
<rect class="dt" x="24.08" y="374.1" width="0.9" height="0.9" opacity="0.61"/>
<rect class="dt" x="24.16" y="371.86" width="0.9" height="0.9" opacity="0.65"/>
<rect class="dt" x="22.1" y="375.66" width="0.9" height="0.9" opacity="0.66"/>
<rect class="dt" x="25.21" y="371.64" width="0.9" height="0.9" opacity="0.66"/>
<rect class="dt" x="26.41" y="373.08" width="0.9" height="0.9" opacity="0.46"/>
<rect class="dt" x="23.69" y="377.96" width="0.9" height="0.9" opacity="0.40"/>
<rect class="dt" x="20.6" y="373.31" width="0.9" height="0.9" opacity="0.61"/>
<rect class="dt" x="25.19" y="372.17" width="0.9" height="0.9" opacity="0.75"/>
<rect class="dt" x="54.29" y="372.83" width="0.9" height="0.9" opacity="0.39"/>
<rect class="dt" x="52.27" y="371.56" width="0.9" height="0.9" opacity="0.57"/>
<rect class="dt" x="55.94" y="369.8" width="0.9" height="0.9" opacity="0.42"/>
<rect class="dt" x="60.4" y="373.66" width="0.9" height="0.9" opacity="0.41"/>
<rect class="dt" x="57.54" y="372.23" width="0.9" height="0.9" opacity="0.49"/>
<rect class="dt" x="61.16" y="371.35" width="0.9" height="0.9" opacity="0.48"/>
<rect class="dt" x="60.35" y="369.38" width="0.9" height="0.9" opacity="0.61"/>
<rect class="dt" x="56.37" y="373.37" width="0.9" height="0.9" opacity="0.37"/>
<rect class="dt" x="58.32" y="371.1" width="0.9" height="0.9" opacity="0.72"/>
<rect class="dt" x="83.35" y="341.55" width="0.9" height="0.9" opacity="0.6"/>
<rect class="dt" x="85.35" y="340.55" width="0.9" height="0.9" opacity="0.6"/>
<rect class="dt" x="87.25" y="344.45" width="0.9" height="0.9" opacity="0.6"/>
<rect class="dt" x="95.15" y="332.25" width="0.9" height="0.9" opacity="0.6"/>
<rect class="dt" x="96.15" y="331.65" width="0.9" height="0.9" opacity="0.6"/>
<rect class="dt" x="81.05" y="344.85" width="0.9" height="0.9" opacity="0.6"/>
<rect class="dt" x="82.05" y="347.05" width="0.9" height="0.9" opacity="0.6"/>
<rect class="dt" x="78.75" y="349.15" width="0.9" height="0.9" opacity="0.6"/>
<line class="rd" x1="20.9" y1="388" x2="162.6" y2="282.6"/>
<line class="gl" x1="20.9" y1="368.68" x2="136.62" y2="282.6"/>
<line class="gl" x1="46.88" y1="388" x2="162.6" y2="301.92"/>
<rect class="sp" x="20.9" y="282.6" width="141.7" height="105.4"/>
<line class="tk" x1="20.9" y1="388" x2="20.9" y2="390"/>
<line class="tk" x1="18.9" y1="388" x2="20.9" y2="388"/>
<text class="tl" x="20.9" y="394.5" text-anchor="middle">0</text>
<text class="tl" x="18.6" y="389.9" text-anchor="end">0</text>
<line class="tk" x1="44.52" y1="388" x2="44.52" y2="390"/>
<line class="tk" x1="18.9" y1="370.43" x2="20.9" y2="370.43"/>
<text class="tl" x="44.52" y="394.5" text-anchor="middle">20</text>
<text class="tl" x="18.6" y="372.33" text-anchor="end">20</text>
<line class="tk" x1="68.13" y1="388" x2="68.13" y2="390"/>
<line class="tk" x1="18.9" y1="352.87" x2="20.9" y2="352.87"/>
<text class="tl" x="68.13" y="394.5" text-anchor="middle">40</text>
<text class="tl" x="18.6" y="354.77" text-anchor="end">40</text>
<line class="tk" x1="91.75" y1="388" x2="91.75" y2="390"/>
<line class="tk" x1="18.9" y1="335.3" x2="20.9" y2="335.3"/>
<text class="tl" x="91.75" y="394.5" text-anchor="middle">60</text>
<text class="tl" x="18.6" y="337.2" text-anchor="end">60</text>
<line class="tk" x1="115.37" y1="388" x2="115.37" y2="390"/>
<line class="tk" x1="18.9" y1="317.73" x2="20.9" y2="317.73"/>
<text class="tl" x="115.37" y="394.5" text-anchor="middle">80</text>
<text class="tl" x="18.6" y="319.63" text-anchor="end">80</text>
<line class="tk" x1="138.98" y1="388" x2="138.98" y2="390"/>
<line class="tk" x1="18.9" y1="300.17" x2="20.9" y2="300.17"/>
<text class="tl" x="138.98" y="394.5" text-anchor="middle">100</text>
<text class="tl" x="18.6" y="302.07" text-anchor="end">100</text>
<line class="tk" x1="162.6" y1="388" x2="162.6" y2="390"/>
<line class="tk" x1="18.9" y1="282.6" x2="20.9" y2="282.6"/>
<text class="tl" x="162.6" y="394.5" text-anchor="middle">120</text>
<text class="tl" x="18.6" y="284.5" text-anchor="end">120</text>
<text class="al" x="91.75" y="400" text-anchor="middle">Golden IR Drop (mV)</text>
<text class="al" x="9.4" y="335.3" text-anchor="middle" transform="rotate(-90 9.4 335.3)">Predicted IR Drop (mV)</text>
<rect class="lg" x="24.15" y="284.49" width="2.2" height="2.2"/>
<text class="tt" x="23.9" y="293.8" textLength="65.5" lengthAdjust="spacingAndGlyphs">DesignB-P1(vectorless)</text>
<text class="cp" x="89.65" y="406.6" text-anchor="middle">(e)</text>
<polygon class="cl" points="207.8,387.2 210.1,385.4 210.6,381.4 212.1,377.8 214.1,375.3 216.2,372.7 218.2,370.2 219.7,367.6 221.5,365 223.8,363.3 227.2,362 228,360.5 229.5,359.5 231,360.5 232.1,364 233.7,363.4 236.2,361.8 240.3,359.7 244.4,357.7 248.5,355.6 251.8,353.6 254.1,352 258.2,349.6 262.3,347.4 266.4,345.2 268.5,344.2 268.5,346.5 266.4,347.6 262.3,351.2 258.2,354.5 254.1,357.8 251.8,361.5 248.5,365 244.4,368.3 240.3,371.6 236.2,374.9 233.7,377.3 232.1,380.5 230.5,382.9 227.2,383.6 223.8,384.6 220.4,385.3 217.1,386 213,387.8 207.8,387.8"/>
<polygon class="hl" points="212,378.04 212.8,376.93 213.6,375.93 214.4,374.93 215.2,373.94 216,372.95 216.8,371.95 217.6,370.95 218.4,369.85 219.2,368.47 220,367.17 220.8,366.01 221.6,364.93 222.4,364.33 223.2,363.74 224,363.22 224.8,362.92 225.6,362.61 226.4,362.31 227.2,362 228,360.5 228.8,359.97 229.6,359.57 230.4,360.1 231.2,361.14 232,363.68 232,363.68 231.2,360.27 230.4,358.8 229.6,357.92 228.8,358.03 228,358.32 227.2,359.61 226.4,359.74 225.6,359.9 224.8,360.09 224,360.31 223.2,360.78 222.4,361.34 221.6,361.93 220.8,363.04 220,364.26 219.2,365.64 218.4,367.14 217.6,368.38 216.8,369.56 216,370.77 215.2,372 214.4,373.28 213.6,374.62 212.8,376.06 212,378.04"/>
<rect class="dt" x="230.45" y="359.26" width="0.9" height="0.9" opacity="0.59"/>
<rect class="dt" x="216.59" y="370.5" width="0.9" height="0.9" opacity="0.67"/>
<rect class="dt" x="216.18" y="371.19" width="0.9" height="0.9" opacity="0.80"/>
<rect class="dt" x="224.4" y="361.52" width="0.9" height="0.9" opacity="0.90"/>
<rect class="dt" x="215.88" y="370.66" width="0.9" height="0.9" opacity="0.56"/>
<rect class="dt" x="228.81" y="357.51" width="0.9" height="0.9" opacity="0.61"/>
<rect class="dt" x="226.58" y="359.42" width="0.9" height="0.9" opacity="0.61"/>
<rect class="dt" x="218.18" y="367.54" width="0.9" height="0.9" opacity="0.86"/>
<rect class="dt" x="214.78" y="371.99" width="0.9" height="0.9" opacity="0.74"/>
<rect class="dt" x="220.61" y="363.29" width="0.9" height="0.9" opacity="0.85"/>
<rect class="dt" x="215.75" y="370.08" width="0.9" height="0.9" opacity="0.64"/>
<rect class="dt" x="227.15" y="358.63" width="0.9" height="0.9" opacity="0.57"/>
<rect class="dt" x="228.83" y="357.26" width="0.9" height="0.9" opacity="0.62"/>
<rect class="dt" x="212.04" y="376.79" width="0.9" height="0.9" opacity="0.89"/>
<rect class="dt" x="211.74" y="376.88" width="0.9" height="0.9" opacity="0.56"/>
<rect class="dt" x="226.27" y="361.47" width="0.9" height="0.9" opacity="0.57"/>
<rect class="dt" x="225.21" y="361.87" width="0.9" height="0.9" opacity="0.64"/>
<rect class="dt" x="229.92" y="358.59" width="0.9" height="0.9" opacity="0.85"/>
<rect class="dt" x="231.14" y="361.92" width="0.9" height="0.9" opacity="0.59"/>
<rect class="dt" x="227.39" y="358.66" width="0.9" height="0.9" opacity="0.52"/>
<rect class="dt" x="221.65" y="363.35" width="0.9" height="0.9" opacity="0.67"/>
<polygon class="hl" points="232,380.65 232.81,379.08 233.62,377.46 234.43,376.6 235.24,375.82 236.05,375.04 236.86,374.36 237.68,373.71 238.49,373.06 239.3,372.41 240.11,371.75 240.92,371.1 241.73,370.45 242.54,369.8 243.35,369.14 244.16,368.49 244.97,367.84 245.78,367.19 246.59,366.53 247.41,365.88 248.22,365.23 249.03,364.44 249.84,363.58 250.65,362.72 251.46,361.86 252.27,360.74 253.08,359.44 253.89,358.13 254.7,357.31 255.51,356.66 256.32,356.01 257.14,355.36 257.95,354.7 258.76,354.05 259.57,353.4 260.38,352.75 261.19,352.09 262,351.44 262,351.44 261.19,352.78 260.38,353.78 259.57,354.71 258.76,355.6 257.95,356.47 257.14,357.31 256.32,358.13 255.51,358.93 254.7,359.72 253.89,360.66 253.08,362.07 252.27,363.47 251.46,364.66 250.65,365.59 249.84,366.5 249.03,367.4 248.22,368.21 247.41,368.88 246.59,369.53 245.78,370.17 244.97,370.8 244.16,371.41 243.35,372.01 242.54,372.6 241.73,373.17 240.92,373.73 240.11,374.28 239.3,374.81 238.49,375.33 237.68,375.83 236.86,376.31 236.05,376.8 235.24,377.37 234.43,377.91 233.62,378.49 232.81,379.76 232,380.65"/>
<rect class="dt" x="234.7" y="375.5" width="0.9" height="0.9" opacity="0.90"/>
<rect class="dt" x="241.04" y="372.8" width="0.9" height="0.9" opacity="0.55"/>
<rect class="dt" x="246.17" y="366.51" width="0.9" height="0.9" opacity="0.67"/>
<rect class="dt" x="236.92" y="375.06" width="0.9" height="0.9" opacity="0.56"/>
<rect class="dt" x="253.7" y="358.68" width="0.9" height="0.9" opacity="0.54"/>
<rect class="dt" x="242.16" y="370.83" width="0.9" height="0.9" opacity="0.87"/>
<rect class="dt" x="242.03" y="370.05" width="0.9" height="0.9" opacity="0.89"/>
<rect class="dt" x="258.04" y="355.12" width="0.9" height="0.9" opacity="0.61"/>
<rect class="dt" x="236.87" y="374.15" width="0.9" height="0.9" opacity="0.53"/>
<rect class="dt" x="232.85" y="378.16" width="0.9" height="0.9" opacity="0.66"/>
<rect class="dt" x="248.25" y="365.52" width="0.9" height="0.9" opacity="0.50"/>
<rect class="dt" x="252.19" y="361.62" width="0.9" height="0.9" opacity="0.72"/>
<rect class="dt" x="248.01" y="366.84" width="0.9" height="0.9" opacity="0.89"/>
<rect class="dt" x="257.77" y="355.37" width="0.9" height="0.9" opacity="0.66"/>
<rect class="dt" x="241.1" y="371.39" width="0.9" height="0.9" opacity="0.89"/>
<rect class="dt" x="243.16" y="369.71" width="0.9" height="0.9" opacity="0.66"/>
<rect class="dt" x="235.84" y="376.37" width="0.9" height="0.9" opacity="0.50"/>
<rect class="dt" x="249.78" y="365.66" width="0.9" height="0.9" opacity="0.60"/>
<rect class="dt" x="249.88" y="363.81" width="0.9" height="0.9" opacity="0.60"/>
<rect class="dt" x="237.5" y="373.32" width="0.9" height="0.9" opacity="0.84"/>
<rect class="dt" x="255.07" y="358.48" width="0.9" height="0.9" opacity="0.52"/>
<rect class="dt" x="252.38" y="360.35" width="0.9" height="0.9" opacity="0.76"/>
<rect class="dt" x="248.02" y="365.61" width="0.9" height="0.9" opacity="0.89"/>
<rect class="dt" x="231.58" y="380.23" width="0.9" height="0.9" opacity="0.84"/>
<rect class="dt" x="246.85" y="367.47" width="0.9" height="0.9" opacity="0.90"/>
<rect class="dt" x="238.58" y="373.81" width="0.9" height="0.9" opacity="0.80"/>
<rect class="dt" x="242.92" y="370.93" width="0.9" height="0.9" opacity="0.66"/>
<rect class="dt" x="247.34" y="367.14" width="0.9" height="0.9" opacity="0.77"/>
<rect class="dt" x="241.21" y="371.93" width="0.9" height="0.9" opacity="0.72"/>
<rect class="dt" x="238.25" y="373.99" width="0.9" height="0.9" opacity="0.61"/>
<rect class="dt" x="258.81" y="353.93" width="0.9" height="0.9" opacity="0.79"/>
<rect class="dt" x="208.49" y="385.95" width="0.9" height="0.9" opacity="1.00"/>
<rect class="dt" x="208.4" y="385.59" width="0.9" height="0.9" opacity="0.93"/>
<rect class="dt" x="210.12" y="381.7" width="0.9" height="0.9" opacity="1.00"/>
<rect class="dt" x="208.79" y="384.14" width="0.9" height="0.9" opacity="0.76"/>
<rect class="dt" x="209.42" y="383.05" width="0.9" height="0.9" opacity="0.88"/>
<rect class="dt" x="208.75" y="381.48" width="0.9" height="0.9" opacity="0.67"/>
<rect class="dt" x="210.14" y="380.76" width="0.9" height="0.9" opacity="0.98"/>
<rect class="dt" x="210.53" y="377.59" width="0.9" height="0.9" opacity="0.76"/>
<rect class="dt" x="210.46" y="380.56" width="0.9" height="0.9" opacity="1.00"/>
<rect class="dt" x="210.69" y="380.11" width="0.9" height="0.9" opacity="1.00"/>
<rect class="dt" x="213.05" y="375.18" width="0.9" height="0.9" opacity="0.93"/>
<rect class="dt" x="212.7" y="376.33" width="0.9" height="0.9" opacity="1.00"/>
<rect class="dt" x="209.47" y="373.98" width="0.9" height="0.9" opacity="0.30"/>
<rect class="dt" x="214.43" y="373.55" width="0.9" height="0.9" opacity="0.95"/>
<rect class="dt" x="214.75" y="372.31" width="0.9" height="0.9" opacity="0.81"/>
<rect class="dt" x="213.54" y="374.12" width="0.9" height="0.9" opacity="0.86"/>
<rect class="dt" x="214.21" y="373.73" width="0.9" height="0.9" opacity="0.93"/>
<rect class="dt" x="216.46" y="371.3" width="0.9" height="0.9" opacity="0.99"/>
<rect class="dt" x="216.7" y="371.45" width="0.9" height="0.9" opacity="1.00"/>
<rect class="dt" x="215.88" y="371.53" width="0.9" height="0.9" opacity="0.91"/>
<rect class="dt" x="217.47" y="368.97" width="0.9" height="0.9" opacity="0.84"/>
<rect class="dt" x="218.14" y="369.02" width="0.9" height="0.9" opacity="0.99"/>
<rect class="dt" x="217.24" y="368.62" width="0.9" height="0.9" opacity="0.75"/>
<rect class="dt" x="219.47" y="364.86" width="0.9" height="0.9" opacity="0.72"/>
<rect class="dt" x="219.5" y="366.55" width="0.9" height="0.9" opacity="0.97"/>
<rect class="dt" x="220.33" y="364.85" width="0.9" height="0.9" opacity="0.89"/>
<rect class="dt" x="221.06" y="364.35" width="0.9" height="0.9" opacity="0.96"/>
<rect class="dt" x="221.52" y="363.43" width="0.9" height="0.9" opacity="0.84"/>
<rect class="dt" x="221.66" y="363.95" width="0.9" height="0.9" opacity="0.97"/>
<rect class="dt" x="226.09" y="361.75" width="0.9" height="0.9" opacity="0.99"/>
<rect class="dt" x="224.53" y="362.02" width="0.9" height="0.9" opacity="0.91"/>
<rect class="dt" x="226.53" y="361.74" width="0.9" height="0.9" opacity="1.00"/>
<rect class="dt" x="226.43" y="361.01" width="0.9" height="0.9" opacity="0.84"/>
<rect class="dt" x="227.26" y="360.54" width="0.9" height="0.9" opacity="0.99"/>
<rect class="dt" x="226.16" y="361.1" width="0.9" height="0.9" opacity="0.82"/>
<rect class="dt" x="228.21" y="359.33" width="0.9" height="0.9" opacity="0.94"/>
<rect class="dt" x="228.49" y="358.53" width="0.9" height="0.9" opacity="0.81"/>
<rect class="dt" x="230.04" y="359.49" width="0.9" height="0.9" opacity="0.95"/>
<rect class="dt" x="231.59" y="362.95" width="0.9" height="0.9" opacity="0.97"/>
<rect class="dt" x="232.31" y="361.32" width="0.9" height="0.9" opacity="0.68"/>
<rect class="dt" x="231.25" y="361.52" width="0.9" height="0.9" opacity="0.94"/>
<rect class="dt" x="232.04" y="361.55" width="0.9" height="0.9" opacity="0.76"/>
<rect class="dt" x="232.8" y="363" width="0.9" height="0.9" opacity="0.97"/>
<rect class="dt" x="231.52" y="363.01" width="0.9" height="0.9" opacity="0.86"/>
<rect class="dt" x="234.75" y="361.06" width="0.9" height="0.9" opacity="0.81"/>
<rect class="dt" x="233.59" y="362.82" width="0.9" height="0.9" opacity="1.00"/>
<rect class="dt" x="232.94" y="362.03" width="0.9" height="0.9" opacity="0.76"/>
<rect class="dt" x="235.78" y="360.52" width="0.9" height="0.9" opacity="0.82"/>
<rect class="dt" x="238.16" y="360.35" width="0.9" height="0.9" opacity="1.00"/>
<rect class="dt" x="238.26" y="359.37" width="0.9" height="0.9" opacity="0.85"/>
<rect class="dt" x="237.83" y="360.52" width="0.9" height="0.9" opacity="1.00"/>
<rect class="dt" x="241.4" y="358.09" width="0.9" height="0.9" opacity="0.91"/>
<rect class="dt" x="243.53" y="356.41" width="0.9" height="0.9" opacity="0.77"/>
<rect class="dt" x="243.49" y="357.63" width="0.9" height="0.9" opacity="1.00"/>
<rect class="dt" x="241.11" y="358.35" width="0.9" height="0.9" opacity="0.93"/>
<rect class="dt" x="238.61" y="356.64" width="0.9" height="0.9" opacity="0.30"/>
<rect class="dt" x="245.02" y="356.69" width="0.9" height="0.9" opacity="1.00"/>
<rect class="dt" x="244.48" y="355.72" width="0.9" height="0.9" opacity="0.72"/>
<rect class="dt" x="246.11" y="355.86" width="0.9" height="0.9" opacity="0.94"/>
<rect class="dt" x="245.77" y="356.56" width="0.9" height="0.9" opacity="1.00"/>
<rect class="dt" x="250.45" y="352.66" width="0.9" height="0.9" opacity="0.78"/>
<rect class="dt" x="250.9" y="353.47" width="0.9" height="0.9" opacity="1.00"/>
<rect class="dt" x="248.83" y="354.93" width="0.9" height="0.9" opacity="1.00"/>
<rect class="dt" x="249.78" y="354.01" width="0.9" height="0.9" opacity="0.98"/>
<rect class="dt" x="252.27" y="352.07" width="0.9" height="0.9" opacity="0.91"/>
<rect class="dt" x="251.69" y="351.84" width="0.9" height="0.9" opacity="0.78"/>
<rect class="dt" x="250.95" y="351.59" width="0.9" height="0.9" opacity="0.62"/>
<rect class="dt" x="253.85" y="351.42" width="0.9" height="0.9" opacity="1.00"/>
<rect class="dt" x="255.78" y="350.17" width="0.9" height="0.9" opacity="0.97"/>
<rect class="dt" x="255.95" y="350.17" width="0.9" height="0.9" opacity="0.99"/>
<rect class="dt" x="254.34" y="350.15" width="0.9" height="0.9" opacity="0.78"/>
<rect class="dt" x="254.53" y="350.32" width="0.9" height="0.9" opacity="0.85"/>
<rect class="dt" x="260.1" y="347.69" width="0.9" height="0.9" opacity="0.96"/>
<rect class="dt" x="261.51" y="346.95" width="0.9" height="0.9" opacity="0.96"/>
<rect class="dt" x="261.45" y="347.4" width="0.9" height="0.9" opacity="1.00"/>
<rect class="dt" x="259.31" y="347.79" width="0.9" height="0.9" opacity="0.88"/>
<rect class="dt" x="257.41" y="348.04" width="0.9" height="0.9" opacity="0.72"/>
<rect class="dt" x="264.35" y="345.74" width="0.9" height="0.9" opacity="1.00"/>
<rect class="dt" x="265.48" y="344.63" width="0.9" height="0.9" opacity="0.92"/>
<rect class="dt" x="265.02" y="344.98" width="0.9" height="0.9" opacity="0.94"/>
<rect class="dt" x="264.36" y="344.99" width="0.9" height="0.9" opacity="0.87"/>
<rect class="dt" x="265.95" y="343.61" width="0.9" height="0.9" opacity="0.74"/>
<rect class="dt" x="265.61" y="343.25" width="0.9" height="0.9" opacity="0.63"/>
<rect class="dt" x="267.75" y="346" width="0.9" height="0.9" opacity="1.00"/>
<rect class="dt" x="267.27" y="348.56" width="0.9" height="0.9" opacity="0.54"/>
<rect class="dt" x="263.22" y="349.49" width="0.9" height="0.9" opacity="1.00"/>
<rect class="dt" x="262.61" y="350.83" width="0.9" height="0.9" opacity="0.86"/>
<rect class="dt" x="265.18" y="347.55" width="0.9" height="0.9" opacity="1.00"/>
<rect class="dt" x="262.95" y="349.49" width="0.9" height="0.9" opacity="1.00"/>
<rect class="dt" x="262.52" y="350.16" width="0.9" height="0.9" opacity="1.00"/>
<rect class="dt" x="259.48" y="352.69" width="0.9" height="0.9" opacity="1.00"/>
<rect class="dt" x="259.47" y="352.5" width="0.9" height="0.9" opacity="1.00"/>
<rect class="dt" x="258.13" y="353.78" width="0.9" height="0.9" opacity="0.99"/>
<rect class="dt" x="258.32" y="353.42" width="0.9" height="0.9" opacity="1.00"/>
<rect class="dt" x="260.13" y="355.33" width="0.9" height="0.9" opacity="0.38"/>
<rect class="dt" x="257.67" y="354.22" width="0.9" height="0.9" opacity="0.98"/>
<rect class="dt" x="255.08" y="356.11" width="0.9" height="0.9" opacity="1.00"/>
<rect class="dt" x="255.4" y="355.71" width="0.9" height="0.9" opacity="1.00"/>
<rect class="dt" x="256.26" y="356.1" width="0.9" height="0.9" opacity="0.83"/>
<rect class="dt" x="256.33" y="355.89" width="0.9" height="0.9" opacity="0.86"/>
<rect class="dt" x="251.61" y="360.33" width="0.9" height="0.9" opacity="1.00"/>
<rect class="dt" x="254.62" y="362.69" width="0.9" height="0.9" opacity="0.30"/>
<rect class="dt" x="251.72" y="360.97" width="0.9" height="0.9" opacity="0.93"/>
<rect class="dt" x="253.02" y="358.45" width="0.9" height="0.9" opacity="0.99"/>
<rect class="dt" x="250.88" y="363.89" width="0.9" height="0.9" opacity="0.60"/>
<rect class="dt" x="251.2" y="361.52" width="0.9" height="0.9" opacity="0.95"/>
<rect class="dt" x="248.78" y="364.34" width="0.9" height="0.9" opacity="0.90"/>
<rect class="dt" x="249.43" y="362.82" width="0.9" height="0.9" opacity="1.00"/>
<rect class="dt" x="250.87" y="361.52" width="0.9" height="0.9" opacity="1.00"/>
<rect class="dt" x="244.54" y="367.29" width="0.9" height="0.9" opacity="1.00"/>
<rect class="dt" x="244.12" y="367.42" width="0.9" height="0.9" opacity="1.00"/>
<rect class="dt" x="246.94" y="368.2" width="0.9" height="0.9" opacity="0.46"/>
<rect class="dt" x="247.75" y="367.07" width="0.9" height="0.9" opacity="0.56"/>
<rect class="dt" x="245.22" y="366.55" width="0.9" height="0.9" opacity="1.00"/>
<rect class="dt" x="246.79" y="365.78" width="0.9" height="0.9" opacity="0.96"/>
<rect class="dt" x="240.84" y="370.21" width="0.9" height="0.9" opacity="1.00"/>
<rect class="dt" x="240.72" y="370.45" width="0.9" height="0.9" opacity="1.00"/>
<rect class="dt" x="243.87" y="368.33" width="0.9" height="0.9" opacity="0.92"/>
<rect class="dt" x="243.75" y="368.41" width="0.9" height="0.9" opacity="0.92"/>
<rect class="dt" x="240.96" y="370.75" width="0.9" height="0.9" opacity="0.90"/>
<rect class="dt" x="239.87" y="371.46" width="0.9" height="0.9" opacity="0.94"/>
<rect class="dt" x="239.75" y="371.84" width="0.9" height="0.9" opacity="0.88"/>
<rect class="dt" x="239.53" y="371.86" width="0.9" height="0.9" opacity="0.91"/>
<rect class="dt" x="238.45" y="372.38" width="0.9" height="0.9" opacity="0.98"/>
<rect class="dt" x="237.05" y="373.24" width="0.9" height="0.9" opacity="1.00"/>
<rect class="dt" x="233.42" y="376.73" width="0.9" height="0.9" opacity="0.99"/>
<rect class="dt" x="234.47" y="377.33" width="0.9" height="0.9" opacity="0.70"/>
<rect class="dt" x="234.45" y="375.5" width="0.9" height="0.9" opacity="1.00"/>
<rect class="dt" x="231.7" y="379.59" width="0.9" height="0.9" opacity="1.00"/>
<rect class="dt" x="232.71" y="378.57" width="0.9" height="0.9" opacity="0.93"/>
<rect class="dt" x="233.23" y="377.31" width="0.9" height="0.9" opacity="0.95"/>
<rect class="dt" x="231" y="381.47" width="0.9" height="0.9" opacity="0.94"/>
<rect class="dt" x="230.98" y="380.88" width="0.9" height="0.9" opacity="1.00"/>
<rect class="dt" x="230.93" y="380.97" width="0.9" height="0.9" opacity="1.00"/>
<rect class="dt" x="229.5" y="383.78" width="0.9" height="0.9" opacity="0.70"/>
<rect class="dt" x="228.66" y="384.07" width="0.9" height="0.9" opacity="0.68"/>
<rect class="dt" x="230.37" y="384.18" width="0.9" height="0.9" opacity="0.56"/>
<rect class="dt" x="224.16" y="384.27" width="0.9" height="0.9" opacity="0.91"/>
<rect class="dt" x="224.39" y="383.77" width="0.9" height="0.9" opacity="1.00"/>
<rect class="dt" x="224.16" y="383.77" width="0.9" height="0.9" opacity="1.00"/>
<rect class="dt" x="225.79" y="383.2" width="0.9" height="0.9" opacity="1.00"/>
<rect class="dt" x="221.59" y="384.5" width="0.9" height="0.9" opacity="1.00"/>
<rect class="dt" x="220.28" y="384.59" width="0.9" height="0.9" opacity="1.00"/>
<rect class="dt" x="221.37" y="384.49" width="0.9" height="0.9" opacity="1.00"/>
<rect class="dt" x="217.49" y="386" width="0.9" height="0.9" opacity="0.85"/>
<rect class="dt" x="219.73" y="384.84" width="0.9" height="0.9" opacity="1.00"/>
<rect class="dt" x="228.59" y="357.52" width="0.9" height="0.9" opacity="0.51"/>
<rect class="dt" x="214.96" y="356.52" width="0.9" height="0.9" opacity="0.64"/>
<rect class="dt" x="224.41" y="355.96" width="0.9" height="0.9" opacity="0.49"/>
<rect class="dt" x="215.8" y="356.24" width="0.9" height="0.9" opacity="0.44"/>
<rect class="dt" x="221.23" y="358.03" width="0.9" height="0.9" opacity="0.66"/>
<rect class="dt" x="228.08" y="359.56" width="0.9" height="0.9" opacity="0.60"/>
<rect class="dt" x="216.73" y="358.8" width="0.9" height="0.9" opacity="0.69"/>
<rect class="dt" x="226.14" y="355.6" width="0.9" height="0.9" opacity="0.64"/>
<rect class="dt" x="219.14" y="356.02" width="0.9" height="0.9" opacity="0.74"/>
<rect class="dt" x="224.31" y="359.52" width="0.9" height="0.9" opacity="0.40"/>
<rect class="dt" x="228.03" y="359.52" width="0.9" height="0.9" opacity="0.68"/>
<rect class="dt" x="226.38" y="358.59" width="0.9" height="0.9" opacity="0.52"/>
<rect class="dt" x="226.75" y="359.76" width="0.9" height="0.9" opacity="0.70"/>
<rect class="dt" x="222.06" y="360.73" width="0.9" height="0.9" opacity="0.40"/>
<rect class="dt" x="211.57" y="371.93" width="0.9" height="0.9" opacity="0.44"/>
<rect class="dt" x="211.13" y="368.13" width="0.9" height="0.9" opacity="0.44"/>
<rect class="dt" x="213.49" y="372.63" width="0.9" height="0.9" opacity="0.62"/>
<rect class="dt" x="215.23" y="367.47" width="0.9" height="0.9" opacity="0.66"/>
<rect class="dt" x="215.9" y="370.38" width="0.9" height="0.9" opacity="0.73"/>
<rect class="dt" x="216.16" y="367.61" width="0.9" height="0.9" opacity="0.38"/>
<rect class="dt" x="214.77" y="371.91" width="0.9" height="0.9" opacity="0.49"/>
<rect class="dt" x="214.31" y="371.91" width="0.9" height="0.9" opacity="0.67"/>
<rect class="dt" x="209.59" y="368.44" width="0.9" height="0.9" opacity="0.36"/>
<rect class="dt" x="210.43" y="371.67" width="0.9" height="0.9" opacity="0.52"/>
<rect class="dt" x="214.39" y="368.12" width="0.9" height="0.9" opacity="0.48"/>
<rect class="dt" x="211.26" y="367.09" width="0.9" height="0.9" opacity="0.69"/>
<rect class="dt" x="214.5" y="366.47" width="0.9" height="0.9" opacity="0.39"/>
<rect class="dt" x="211.72" y="370.56" width="0.9" height="0.9" opacity="0.53"/>
<rect class="dt" x="214.84" y="371.62" width="0.9" height="0.9" opacity="0.40"/>
<rect class="dt" x="215.01" y="363.97" width="0.9" height="0.9" opacity="0.68"/>
<rect class="dt" x="241.76" y="369.41" width="0.9" height="0.9" opacity="0.73"/>
<rect class="dt" x="243.9" y="369.17" width="0.9" height="0.9" opacity="0.71"/>
<rect class="dt" x="246.87" y="372.52" width="0.9" height="0.9" opacity="0.51"/>
<rect class="dt" x="245.55" y="372.83" width="0.9" height="0.9" opacity="0.55"/>
<rect class="dt" x="249.52" y="368.86" width="0.9" height="0.9" opacity="0.56"/>
<rect class="dt" x="250.89" y="370.32" width="0.9" height="0.9" opacity="0.67"/>
<rect class="dt" x="242.56" y="369.81" width="0.9" height="0.9" opacity="0.39"/>
<rect class="dt" x="246.18" y="372.36" width="0.9" height="0.9" opacity="0.56"/>
<rect class="dt" x="244.07" y="372.69" width="0.9" height="0.9" opacity="0.71"/>
<rect class="dt" x="269.75" y="343.35" width="0.9" height="0.9" opacity="0.6"/>
<rect class="dt" x="272.35" y="339.55" width="0.9" height="0.9" opacity="0.6"/>
<rect class="dt" x="273.35" y="342.45" width="0.9" height="0.9" opacity="0.6"/>
<rect class="dt" x="269.05" y="345.05" width="0.9" height="0.9" opacity="0.6"/>
<line class="rd" x1="207.3" y1="387.8" x2="349.6" y2="281.7"/>
<line class="gl" x1="207.3" y1="368.35" x2="323.51" y2="281.7"/>
<line class="gl" x1="233.39" y1="387.8" x2="349.6" y2="301.15"/>
<rect class="sp" x="207.3" y="281.7" width="142.3" height="106.1"/>
<line class="tk" x1="207.3" y1="387.8" x2="207.3" y2="389.8"/>
<line class="tk" x1="205.3" y1="387.8" x2="207.3" y2="387.8"/>
<text class="tl" x="207.3" y="394.3" text-anchor="middle">0</text>
<text class="tl" x="205" y="389.7" text-anchor="end">0</text>
<line class="tk" x1="231.02" y1="387.8" x2="231.02" y2="389.8"/>
<line class="tk" x1="205.3" y1="370.12" x2="207.3" y2="370.12"/>
<text class="tl" x="231.02" y="394.3" text-anchor="middle">20</text>
<text class="tl" x="205" y="372.02" text-anchor="end">20</text>
<line class="tk" x1="254.73" y1="387.8" x2="254.73" y2="389.8"/>
<line class="tk" x1="205.3" y1="352.43" x2="207.3" y2="352.43"/>
<text class="tl" x="254.73" y="394.3" text-anchor="middle">40</text>
<text class="tl" x="205" y="354.33" text-anchor="end">40</text>
<line class="tk" x1="278.45" y1="387.8" x2="278.45" y2="389.8"/>
<line class="tk" x1="205.3" y1="334.75" x2="207.3" y2="334.75"/>
<text class="tl" x="278.45" y="394.3" text-anchor="middle">60</text>
<text class="tl" x="205" y="336.65" text-anchor="end">60</text>
<line class="tk" x1="302.17" y1="387.8" x2="302.17" y2="389.8"/>
<line class="tk" x1="205.3" y1="317.07" x2="207.3" y2="317.07"/>
<text class="tl" x="302.17" y="394.3" text-anchor="middle">80</text>
<text class="tl" x="205" y="318.97" text-anchor="end">80</text>
<line class="tk" x1="325.88" y1="387.8" x2="325.88" y2="389.8"/>
<line class="tk" x1="205.3" y1="299.38" x2="207.3" y2="299.38"/>
<text class="tl" x="325.88" y="394.3" text-anchor="middle">100</text>
<text class="tl" x="205" y="301.28" text-anchor="end">100</text>
<line class="tk" x1="349.6" y1="387.8" x2="349.6" y2="389.8"/>
<line class="tk" x1="205.3" y1="281.7" x2="207.3" y2="281.7"/>
<text class="tl" x="349.6" y="394.3" text-anchor="middle">120</text>
<text class="tl" x="205" y="283.6" text-anchor="end">120</text>
<text class="al" x="278.45" y="399.7" text-anchor="middle">Golden IR Drop (mV)</text>
<text class="al" x="195.8" y="334.75" text-anchor="middle" transform="rotate(-90 195.8 334.75)">Predicted IR Drop (mV)</text>
<rect class="lg" x="209.7" y="283.74" width="2.2" height="2.2"/>
<text class="tt" x="208.6" y="293.4" textLength="64.7" lengthAdjust="spacingAndGlyphs">DesignB-P2(vectorless)</text>
<text class="cp" x="276.35" y="406.8" text-anchor="middle">(f)</text>
<polygon class="cl" points="21,521.8 22.3,520.4 23.1,516.4 24.1,512.8 24.9,509.6 27.7,506.7 29.2,504.4 31.7,502.2 33.4,501.2 36.8,499.1 40.2,497.6 43.5,496 46,495.3 47.6,495.5 48.3,498 52.3,496.5 56.4,494.1 60.5,491.6 63.8,489.8 66.1,487.3 70.2,485.4 74.3,483.6 78.4,481.3 80.5,480.2 80.5,483 78.4,484.6 74.3,487.8 70.2,491.9 66.1,495.2 63.8,499 60.5,501.4 56.4,504.7 52.3,507.6 48.4,510 47.6,515.8 44.1,517.8 40.2,519.9 36.8,520.6 33.4,521.3 30.1,522 27,523.2 21,523.2"/>
<polygon class="hl" points="28,506.24 28.8,505.01 29.6,504.05 30.4,503.34 31.2,502.64 32,502.02 32.8,501.55 33.6,501.08 34.4,500.58 35.2,500.09 36,499.59 36.8,499.1 37.6,498.75 38.4,498.39 39.2,498.04 40,497.69 40.8,497.31 41.6,496.92 42.4,496.53 43.2,496.15 44,495.86 44.8,495.64 45.6,495.41 46.4,495.35 47.2,495.45 48,496.93 48,496.93 47.2,494.73 46.4,494.27 45.6,494.04 44.8,494.02 44,494.04 43.2,494.15 42.4,494.4 41.6,494.66 40.8,494.95 40,495.26 39.2,495.57 38.4,495.9 37.6,496.25 36.8,496.63 36,497.17 35.2,497.73 34.4,498.32 33.6,498.94 32.8,499.56 32,500.21 31.2,501.03 30.4,501.97 29.6,502.96 28.8,504.29 28,506.24"/>
<rect class="dt" x="40.88" y="496.41" width="0.9" height="0.9" opacity="0.75"/>
<rect class="dt" x="36.43" y="496" width="0.9" height="0.9" opacity="0.64"/>
<rect class="dt" x="40.77" y="495.05" width="0.9" height="0.9" opacity="0.65"/>
<rect class="dt" x="37.99" y="496.07" width="0.9" height="0.9" opacity="0.86"/>
<rect class="dt" x="37.51" y="497.14" width="0.9" height="0.9" opacity="0.89"/>
<rect class="dt" x="28.69" y="503.23" width="0.9" height="0.9" opacity="0.77"/>
<rect class="dt" x="38.7" y="496.39" width="0.9" height="0.9" opacity="0.80"/>
<rect class="dt" x="45.37" y="493.86" width="0.9" height="0.9" opacity="0.80"/>
<rect class="dt" x="28.25" y="504.48" width="0.9" height="0.9" opacity="0.55"/>
<rect class="dt" x="46.61" y="494.21" width="0.9" height="0.9" opacity="0.56"/>
<rect class="dt" x="39.3" y="495.8" width="0.9" height="0.9" opacity="0.52"/>
<rect class="dt" x="35.39" y="497.26" width="0.9" height="0.9" opacity="0.76"/>
<rect class="dt" x="33.17" y="498.82" width="0.9" height="0.9" opacity="0.62"/>
<rect class="dt" x="38.44" y="496.58" width="0.9" height="0.9" opacity="0.89"/>
<rect class="dt" x="40.53" y="494.71" width="0.9" height="0.9" opacity="0.77"/>
<rect class="dt" x="35.16" y="496.85" width="0.9" height="0.9" opacity="0.78"/>
<rect class="dt" x="41.37" y="495.69" width="0.9" height="0.9" opacity="0.56"/>
<polygon class="hl" points="48,512.9 48.8,509.75 49.6,509.26 50.4,508.77 51.2,508.28 52,507.78 52.8,507.25 53.6,506.68 54.4,506.11 55.2,505.55 56,504.98 56.8,504.38 57.6,503.73 58.4,503.09 59.2,502.45 60,501.8 60.8,501.18 61.6,500.6 62.4,500.02 63.2,499.44 64,498.67 64.8,497.35 65.6,496.03 66.4,494.96 67.2,494.31 68,493.67 68.8,493.03 69.6,492.38 70.4,491.7 71.2,490.9 72,490.1 72.8,489.3 73.6,488.5 74.4,487.72 75.2,487.1 76,486.47 76,486.47 75.2,487.8 74.4,488.79 73.6,489.86 72.8,490.9 72,491.92 71.2,492.91 70.4,493.88 69.6,494.72 68.8,495.5 68,496.26 67.2,497.01 66.4,497.74 65.6,498.88 64.8,500.26 64,501.62 63.2,502.42 62.4,503.02 61.6,503.6 60.8,504.17 60,504.76 59.2,505.36 58.4,505.94 57.6,506.51 56.8,507.07 56,507.57 55.2,508.02 54.4,508.45 53.6,508.86 52.8,509.26 52,509.6 51.2,509.88 50.4,510.12 49.6,510.33 48.8,510.46 48,512.9"/>
<rect class="dt" x="63.65" y="500.73" width="0.9" height="0.9" opacity="0.82"/>
<rect class="dt" x="57.27" y="503.61" width="0.9" height="0.9" opacity="0.71"/>
<rect class="dt" x="72.12" y="489.38" width="0.9" height="0.9" opacity="0.80"/>
<rect class="dt" x="52.33" y="507.5" width="0.9" height="0.9" opacity="0.52"/>
<rect class="dt" x="55.88" y="505.41" width="0.9" height="0.9" opacity="0.89"/>
<rect class="dt" x="74.49" y="487.02" width="0.9" height="0.9" opacity="0.62"/>
<rect class="dt" x="73.97" y="487.48" width="0.9" height="0.9" opacity="0.63"/>
<rect class="dt" x="59.82" y="501.49" width="0.9" height="0.9" opacity="0.60"/>
<rect class="dt" x="58.58" y="503.36" width="0.9" height="0.9" opacity="0.89"/>
<rect class="dt" x="55.02" y="505.47" width="0.9" height="0.9" opacity="0.86"/>
<rect class="dt" x="60.16" y="503.61" width="0.9" height="0.9" opacity="0.75"/>
<rect class="dt" x="69.35" y="492.57" width="0.9" height="0.9" opacity="0.56"/>
<rect class="dt" x="68.75" y="493.5" width="0.9" height="0.9" opacity="0.72"/>
<rect class="dt" x="66.33" y="496.47" width="0.9" height="0.9" opacity="0.61"/>
<rect class="dt" x="57.71" y="505.69" width="0.9" height="0.9" opacity="0.71"/>
<rect class="dt" x="55.62" y="506.28" width="0.9" height="0.9" opacity="0.60"/>
<rect class="dt" x="69.15" y="492.04" width="0.9" height="0.9" opacity="0.83"/>
<rect class="dt" x="63.41" y="499.6" width="0.9" height="0.9" opacity="0.88"/>
<rect class="dt" x="54.98" y="505.6" width="0.9" height="0.9" opacity="0.53"/>
<rect class="dt" x="62.91" y="501.34" width="0.9" height="0.9" opacity="0.77"/>
<rect class="dt" x="59.11" y="504.31" width="0.9" height="0.9" opacity="0.54"/>
<rect class="dt" x="56.14" y="505.98" width="0.9" height="0.9" opacity="0.89"/>
<rect class="dt" x="65.3" y="497.49" width="0.9" height="0.9" opacity="0.81"/>
<rect class="dt" x="58.6" y="505.12" width="0.9" height="0.9" opacity="0.80"/>
<rect class="dt" x="57.12" y="504.51" width="0.9" height="0.9" opacity="0.82"/>
<rect class="dt" x="57.34" y="503.7" width="0.9" height="0.9" opacity="0.85"/>
<rect class="dt" x="62.44" y="500.93" width="0.9" height="0.9" opacity="0.77"/>
<rect class="dt" x="72.79" y="488.62" width="0.9" height="0.9" opacity="0.64"/>
<rect class="dt" x="49.4" y="509.19" width="0.9" height="0.9" opacity="0.70"/>
<rect class="dt" x="21.16" y="520.17" width="0.9" height="0.9" opacity="0.91"/>
<rect class="dt" x="21.7" y="516.41" width="0.9" height="0.9" opacity="0.79"/>
<rect class="dt" x="22.65" y="516.62" width="0.9" height="0.9" opacity="1.00"/>
<rect class="dt" x="21.67" y="517.12" width="0.9" height="0.9" opacity="0.82"/>
<rect class="dt" x="20.93" y="517.68" width="0.9" height="0.9" opacity="0.66"/>
<rect class="dt" x="22.47" y="513.02" width="0.9" height="0.9" opacity="0.76"/>
<rect class="dt" x="22.12" y="513.29" width="0.9" height="0.9" opacity="0.69"/>
<rect class="dt" x="22.2" y="515.32" width="0.9" height="0.9" opacity="0.85"/>
<rect class="dt" x="22.96" y="513.31" width="0.9" height="0.9" opacity="0.90"/>
<rect class="dt" x="23.32" y="512.04" width="0.9" height="0.9" opacity="0.90"/>
<rect class="dt" x="24.34" y="509.72" width="0.9" height="0.9" opacity="1.00"/>
<rect class="dt" x="23.89" y="511.69" width="0.9" height="0.9" opacity="1.00"/>
<rect class="dt" x="24.67" y="505.57" width="0.9" height="0.9" opacity="0.42"/>
<rect class="dt" x="26.65" y="506.78" width="0.9" height="0.9" opacity="0.98"/>
<rect class="dt" x="26.55" y="507.26" width="0.9" height="0.9" opacity="1.00"/>
<rect class="dt" x="26.78" y="506.7" width="0.9" height="0.9" opacity="0.99"/>
<rect class="dt" x="28.32" y="504.88" width="0.9" height="0.9" opacity="1.00"/>
<rect class="dt" x="27.84" y="505.73" width="0.9" height="0.9" opacity="1.00"/>
<rect class="dt" x="29.54" y="502.05" width="0.9" height="0.9" opacity="0.77"/>
<rect class="dt" x="28.2" y="503.13" width="0.9" height="0.9" opacity="0.76"/>
<rect class="dt" x="29.07" y="503.76" width="0.9" height="0.9" opacity="1.00"/>
<rect class="dt" x="31.81" y="501.38" width="0.9" height="0.9" opacity="0.99"/>
<rect class="dt" x="32.26" y="501.25" width="0.9" height="0.9" opacity="1.00"/>
<rect class="dt" x="33.12" y="499.43" width="0.9" height="0.9" opacity="0.74"/>
<rect class="dt" x="35.55" y="498.81" width="0.9" height="0.9" opacity="0.93"/>
<rect class="dt" x="32.63" y="500" width="0.9" height="0.9" opacity="0.80"/>
<rect class="dt" x="32.92" y="500.48" width="0.9" height="0.9" opacity="0.94"/>
<rect class="dt" x="36.38" y="498.15" width="0.9" height="0.9" opacity="0.89"/>
<rect class="dt" x="38.67" y="497.23" width="0.9" height="0.9" opacity="0.91"/>
<rect class="dt" x="37.61" y="497.82" width="0.9" height="0.9" opacity="0.94"/>
<rect class="dt" x="38.38" y="497.83" width="0.9" height="0.9" opacity="1.00"/>
<rect class="dt" x="42.65" y="494.75" width="0.9" height="0.9" opacity="0.78"/>
<rect class="dt" x="42.91" y="495.59" width="0.9" height="0.9" opacity="0.99"/>
<rect class="dt" x="43.09" y="495.75" width="0.9" height="0.9" opacity="1.00"/>
<rect class="dt" x="41.39" y="496.52" width="0.9" height="0.9" opacity="1.00"/>
<rect class="dt" x="44.59" y="494.48" width="0.9" height="0.9" opacity="0.85"/>
<rect class="dt" x="44.18" y="495.19" width="0.9" height="0.9" opacity="0.99"/>
<rect class="dt" x="43.49" y="495.31" width="0.9" height="0.9" opacity="0.97"/>
<rect class="dt" x="45.95" y="494.21" width="0.9" height="0.9" opacity="0.83"/>
<rect class="dt" x="47.36" y="496.17" width="0.9" height="0.9" opacity="1.00"/>
<rect class="dt" x="47.55" y="496.84" width="0.9" height="0.9" opacity="1.00"/>
<rect class="dt" x="47.65" y="495.63" width="0.9" height="0.9" opacity="0.92"/>
<rect class="dt" x="51.49" y="495.42" width="0.9" height="0.9" opacity="0.82"/>
<rect class="dt" x="51.11" y="494.71" width="0.9" height="0.9" opacity="0.62"/>
<rect class="dt" x="50.52" y="495.87" width="0.9" height="0.9" opacity="0.84"/>
<rect class="dt" x="48.13" y="497.54" width="0.9" height="0.9" opacity="1.00"/>
<rect class="dt" x="55.06" y="493.42" width="0.9" height="0.9" opacity="0.84"/>
<rect class="dt" x="54.45" y="494.57" width="0.9" height="0.9" opacity="1.00"/>
<rect class="dt" x="53.37" y="495.3" width="0.9" height="0.9" opacity="1.00"/>
<rect class="dt" x="52.88" y="491.87" width="0.9" height="0.9" opacity="0.30"/>
<rect class="dt" x="56.19" y="493.64" width="0.9" height="0.9" opacity="1.00"/>
<rect class="dt" x="56.7" y="491.61" width="0.9" height="0.9" opacity="0.66"/>
<rect class="dt" x="59.16" y="491.49" width="0.9" height="0.9" opacity="0.96"/>
<rect class="dt" x="56.46" y="493.54" width="0.9" height="0.9" opacity="1.00"/>
<rect class="dt" x="56.16" y="492.58" width="0.9" height="0.9" opacity="0.80"/>
<rect class="dt" x="62.62" y="488.09" width="0.9" height="0.9" opacity="0.64"/>
<rect class="dt" x="62.58" y="489.54" width="0.9" height="0.9" opacity="0.95"/>
<rect class="dt" x="62.84" y="489.81" width="0.9" height="0.9" opacity="1.00"/>
<rect class="dt" x="60.25" y="490.66" width="0.9" height="0.9" opacity="0.92"/>
<rect class="dt" x="63.87" y="488.86" width="0.9" height="0.9" opacity="1.00"/>
<rect class="dt" x="62.35" y="488.33" width="0.9" height="0.9" opacity="0.64"/>
<rect class="dt" x="63.67" y="486.37" width="0.9" height="0.9" opacity="0.55"/>
<rect class="dt" x="67.16" y="485.41" width="0.9" height="0.9" opacity="0.83"/>
<rect class="dt" x="66.84" y="485.29" width="0.9" height="0.9" opacity="0.77"/>
<rect class="dt" x="69.16" y="485.39" width="0.9" height="0.9" opacity="1.00"/>
<rect class="dt" x="65.74" y="486.9" width="0.9" height="0.9" opacity="1.00"/>
<rect class="dt" x="68.01" y="485.66" width="0.9" height="0.9" opacity="0.98"/>
<rect class="dt" x="72.82" y="482.7" width="0.9" height="0.9" opacity="0.79"/>
<rect class="dt" x="71.74" y="484.32" width="0.9" height="0.9" opacity="1.00"/>
<rect class="dt" x="73.28" y="483.09" width="0.9" height="0.9" opacity="0.93"/>
<rect class="dt" x="70.03" y="484.8" width="0.9" height="0.9" opacity="0.99"/>
<rect class="dt" x="77.38" y="480.93" width="0.9" height="0.9" opacity="0.95"/>
<rect class="dt" x="76.52" y="481.76" width="0.9" height="0.9" opacity="1.00"/>
<rect class="dt" x="74.16" y="481.37" width="0.9" height="0.9" opacity="0.65"/>
<rect class="dt" x="75.5" y="482.42" width="0.9" height="0.9" opacity="1.00"/>
<rect class="dt" x="76.35" y="481.93" width="0.9" height="0.9" opacity="1.00"/>
<rect class="dt" x="78.74" y="480.02" width="0.9" height="0.9" opacity="0.91"/>
<rect class="dt" x="79" y="479.61" width="0.9" height="0.9" opacity="0.85"/>
<rect class="dt" x="80.3" y="483.18" width="0.9" height="0.9" opacity="0.84"/>
<rect class="dt" x="80.06" y="482.79" width="0.9" height="0.9" opacity="0.95"/>
<rect class="dt" x="79.53" y="483.61" width="0.9" height="0.9" opacity="0.87"/>
<rect class="dt" x="77.26" y="485.3" width="0.9" height="0.9" opacity="0.88"/>
<rect class="dt" x="75.23" y="486.52" width="0.9" height="0.9" opacity="0.95"/>
<rect class="dt" x="78.25" y="485.73" width="0.9" height="0.9" opacity="0.64"/>
<rect class="dt" x="75.37" y="485.91" width="0.9" height="0.9" opacity="1.00"/>
<rect class="dt" x="78.68" y="487.11" width="0.9" height="0.9" opacity="0.30"/>
<rect class="dt" x="72.83" y="489.55" width="0.9" height="0.9" opacity="0.79"/>
<rect class="dt" x="70.79" y="491.05" width="0.9" height="0.9" opacity="0.89"/>
<rect class="dt" x="70.65" y="490.23" width="0.9" height="0.9" opacity="1.00"/>
<rect class="dt" x="75.14" y="489.41" width="0.9" height="0.9" opacity="0.41"/>
<rect class="dt" x="70.4" y="490.48" width="0.9" height="0.9" opacity="1.00"/>
<rect class="dt" x="73.61" y="487.51" width="0.9" height="0.9" opacity="1.00"/>
<rect class="dt" x="69.18" y="492.59" width="0.9" height="0.9" opacity="0.87"/>
<rect class="dt" x="66.23" y="494.88" width="0.9" height="0.9" opacity="0.88"/>
<rect class="dt" x="65.96" y="494.46" width="0.9" height="0.9" opacity="1.00"/>
<rect class="dt" x="68.97" y="491.77" width="0.9" height="0.9" opacity="1.00"/>
<rect class="dt" x="66.54" y="493.81" width="0.9" height="0.9" opacity="1.00"/>
<rect class="dt" x="66.15" y="495.14" width="0.9" height="0.9" opacity="0.85"/>
<rect class="dt" x="63.69" y="497.75" width="0.9" height="0.9" opacity="1.00"/>
<rect class="dt" x="64.33" y="496.61" width="0.9" height="0.9" opacity="1.00"/>
<rect class="dt" x="64.95" y="498.41" width="0.9" height="0.9" opacity="0.68"/>
<rect class="dt" x="63.33" y="498.1" width="0.9" height="0.9" opacity="1.00"/>
<rect class="dt" x="62.08" y="500.66" width="0.9" height="0.9" opacity="0.76"/>
<rect class="dt" x="61.94" y="500.1" width="0.9" height="0.9" opacity="0.89"/>
<rect class="dt" x="61.9" y="500.68" width="0.9" height="0.9" opacity="0.78"/>
<rect class="dt" x="62.97" y="498.57" width="0.9" height="0.9" opacity="1.00"/>
<rect class="dt" x="58.92" y="501.99" width="0.9" height="0.9" opacity="0.97"/>
<rect class="dt" x="60.46" y="501.53" width="0.9" height="0.9" opacity="0.82"/>
<rect class="dt" x="60.57" y="501.8" width="0.9" height="0.9" opacity="0.75"/>
<rect class="dt" x="56.83" y="503.77" width="0.9" height="0.9" opacity="0.96"/>
<rect class="dt" x="59.85" y="501.73" width="0.9" height="0.9" opacity="0.88"/>
<rect class="dt" x="54.09" y="505.36" width="0.9" height="0.9" opacity="1.00"/>
<rect class="dt" x="52.12" y="507.33" width="0.9" height="0.9" opacity="0.92"/>
<rect class="dt" x="54.4" y="505.12" width="0.9" height="0.9" opacity="1.00"/>
<rect class="dt" x="53.58" y="507.25" width="0.9" height="0.9" opacity="0.73"/>
<rect class="dt" x="52.37" y="506.57" width="0.9" height="0.9" opacity="1.00"/>
<rect class="dt" x="51.07" y="508.52" width="0.9" height="0.9" opacity="0.81"/>
<rect class="dt" x="51.48" y="507.85" width="0.9" height="0.9" opacity="0.90"/>
<rect class="dt" x="48.44" y="510.16" width="0.9" height="0.9" opacity="0.81"/>
<rect class="dt" x="51.72" y="507" width="0.9" height="0.9" opacity="1.00"/>
<rect class="dt" x="47.78" y="513.62" width="0.9" height="0.9" opacity="0.90"/>
<rect class="dt" x="47.71" y="512.59" width="0.9" height="0.9" opacity="0.96"/>
<rect class="dt" x="48.03" y="511.97" width="0.9" height="0.9" opacity="0.90"/>
<rect class="dt" x="48.9" y="513.51" width="0.9" height="0.9" opacity="0.63"/>
<rect class="dt" x="48.22" y="513.92" width="0.9" height="0.9" opacity="0.78"/>
<rect class="dt" x="44.53" y="517.57" width="0.9" height="0.9" opacity="0.84"/>
<rect class="dt" x="47.32" y="515.89" width="0.9" height="0.9" opacity="0.86"/>
<rect class="dt" x="44.25" y="517.18" width="0.9" height="0.9" opacity="0.96"/>
<rect class="dt" x="44.02" y="517.01" width="0.9" height="0.9" opacity="1.00"/>
<rect class="dt" x="42.22" y="518.81" width="0.9" height="0.9" opacity="0.85"/>
<rect class="dt" x="42.66" y="517.88" width="0.9" height="0.9" opacity="1.00"/>
<rect class="dt" x="42.3" y="518.1" width="0.9" height="0.9" opacity="0.99"/>
<rect class="dt" x="43.36" y="517.69" width="0.9" height="0.9" opacity="0.96"/>
<rect class="dt" x="40.06" y="519.84" width="0.9" height="0.9" opacity="0.88"/>
<rect class="dt" x="37.36" y="520.98" width="0.9" height="0.9" opacity="0.75"/>
<rect class="dt" x="36.52" y="520.86" width="0.9" height="0.9" opacity="0.82"/>
<rect class="dt" x="38.81" y="519.59" width="0.9" height="0.9" opacity="1.00"/>
<rect class="dt" x="38.3" y="519.51" width="0.9" height="0.9" opacity="1.00"/>
<rect class="dt" x="33.64" y="522.27" width="0.9" height="0.9" opacity="0.62"/>
<rect class="dt" x="35.39" y="521.14" width="0.9" height="0.9" opacity="0.80"/>
<rect class="dt" x="33.98" y="521.96" width="0.9" height="0.9" opacity="0.68"/>
<rect class="dt" x="31.16" y="521.05" width="0.9" height="0.9" opacity="1.00"/>
<rect class="dt" x="30.23" y="521.44" width="0.9" height="0.9" opacity="1.00"/>
<rect class="dt" x="30.9" y="521.36" width="0.9" height="0.9" opacity="0.98"/>
<rect class="dt" x="36.57" y="494.18" width="0.9" height="0.9" opacity="0.36"/>
<rect class="dt" x="36.19" y="493.41" width="0.9" height="0.9" opacity="0.75"/>
<rect class="dt" x="35.02" y="492.3" width="0.9" height="0.9" opacity="0.62"/>
<rect class="dt" x="42.22" y="493.53" width="0.9" height="0.9" opacity="0.65"/>
<rect class="dt" x="36.03" y="491.58" width="0.9" height="0.9" opacity="0.36"/>
<rect class="dt" x="42.23" y="491.39" width="0.9" height="0.9" opacity="0.45"/>
<rect class="dt" x="46.05" y="493.12" width="0.9" height="0.9" opacity="0.59"/>
<rect class="dt" x="41.74" y="492.94" width="0.9" height="0.9" opacity="0.63"/>
<rect class="dt" x="36.8" y="490.81" width="0.9" height="0.9" opacity="0.38"/>
<rect class="dt" x="39.46" y="494.43" width="0.9" height="0.9" opacity="0.63"/>
<rect class="dt" x="36.38" y="493.63" width="0.9" height="0.9" opacity="0.42"/>
<rect class="dt" x="33.95" y="491.76" width="0.9" height="0.9" opacity="0.51"/>
<rect class="dt" x="24.69" y="507.11" width="0.9" height="0.9" opacity="0.64"/>
<rect class="dt" x="22.6" y="510.21" width="0.9" height="0.9" opacity="0.36"/>
<rect class="dt" x="25.52" y="505.36" width="0.9" height="0.9" opacity="0.69"/>
<rect class="dt" x="25.37" y="508.92" width="0.9" height="0.9" opacity="0.46"/>
<rect class="dt" x="24.51" y="508.25" width="0.9" height="0.9" opacity="0.61"/>
<rect class="dt" x="21.63" y="504.7" width="0.9" height="0.9" opacity="0.39"/>
<rect class="dt" x="26.45" y="506.61" width="0.9" height="0.9" opacity="0.61"/>
<rect class="dt" x="23.97" y="505.34" width="0.9" height="0.9" opacity="0.38"/>
<rect class="dt" x="22.73" y="509.33" width="0.9" height="0.9" opacity="0.41"/>
<rect class="dt" x="25.28" y="505.56" width="0.9" height="0.9" opacity="0.50"/>
<rect class="dt" x="23.69" y="504.44" width="0.9" height="0.9" opacity="0.45"/>
<rect class="dt" x="25.33" y="505.83" width="0.9" height="0.9" opacity="0.50"/>
<rect class="dt" x="64.73" y="503.17" width="0.9" height="0.9" opacity="0.43"/>
<rect class="dt" x="58.18" y="503.97" width="0.9" height="0.9" opacity="0.50"/>
<rect class="dt" x="63.25" y="504.41" width="0.9" height="0.9" opacity="0.70"/>
<rect class="dt" x="56.16" y="505.37" width="0.9" height="0.9" opacity="0.68"/>
<rect class="dt" x="60.81" y="502.63" width="0.9" height="0.9" opacity="0.53"/>
<rect class="dt" x="64.09" y="502.52" width="0.9" height="0.9" opacity="0.40"/>
<rect class="dt" x="61.3" y="502.92" width="0.9" height="0.9" opacity="0.44"/>
<rect class="dt" x="60.83" y="502.64" width="0.9" height="0.9" opacity="0.38"/>
<rect class="dt" x="59.88" y="504.4" width="0.9" height="0.9" opacity="0.72"/>
<rect class="dt" x="82.05" y="480.55" width="0.9" height="0.9" opacity="0.6"/>
<rect class="dt" x="84.35" y="475.55" width="0.9" height="0.9" opacity="0.6"/>
<rect class="dt" x="87.25" y="473.55" width="0.9" height="0.9" opacity="0.6"/>
<rect class="dt" x="90.25" y="472.05" width="0.9" height="0.9" opacity="0.6"/>
<rect class="dt" x="93.15" y="471.25" width="0.9" height="0.9" opacity="0.6"/>
<rect class="dt" x="95.15" y="472.05" width="0.9" height="0.9" opacity="0.6"/>
<rect class="dt" x="106.95" y="461.85" width="0.9" height="0.9" opacity="0.6"/>
<rect class="dt" x="81.65" y="485.75" width="0.9" height="0.9" opacity="0.6"/>
<rect class="dt" x="78.35" y="491.05" width="0.9" height="0.9" opacity="0.6"/>
<rect class="dt" x="76.05" y="490.05" width="0.9" height="0.9" opacity="0.6"/>
<rect class="dt" x="79.55" y="485.55" width="0.9" height="0.9" opacity="0.6"/>
<line class="rd" x1="20.9" y1="523.2" x2="162.6" y2="417.7"/>
<line class="gl" x1="20.9" y1="502.1" x2="134.26" y2="417.7"/>
<line class="gl" x1="49.24" y1="523.2" x2="162.6" y2="438.8"/>
<rect class="sp" x="20.9" y="417.7" width="141.7" height="105.5"/>
<line class="tk" x1="20.9" y1="523.2" x2="20.9" y2="525.2"/>
<line class="tk" x1="18.9" y1="523.2" x2="20.9" y2="523.2"/>
<text class="tl" x="20.9" y="529.7" text-anchor="middle">0</text>
<text class="tl" x="18.6" y="525.1" text-anchor="end">0</text>
<line class="tk" x1="44.52" y1="523.2" x2="44.52" y2="525.2"/>
<line class="tk" x1="18.9" y1="505.62" x2="20.9" y2="505.62"/>
<text class="tl" x="44.52" y="529.7" text-anchor="middle">20</text>
<text class="tl" x="18.6" y="507.52" text-anchor="end">20</text>
<line class="tk" x1="68.13" y1="523.2" x2="68.13" y2="525.2"/>
<line class="tk" x1="18.9" y1="488.03" x2="20.9" y2="488.03"/>
<text class="tl" x="68.13" y="529.7" text-anchor="middle">40</text>
<text class="tl" x="18.6" y="489.93" text-anchor="end">40</text>
<line class="tk" x1="91.75" y1="523.2" x2="91.75" y2="525.2"/>
<line class="tk" x1="18.9" y1="470.45" x2="20.9" y2="470.45"/>
<text class="tl" x="91.75" y="529.7" text-anchor="middle">60</text>
<text class="tl" x="18.6" y="472.35" text-anchor="end">60</text>
<line class="tk" x1="115.37" y1="523.2" x2="115.37" y2="525.2"/>
<line class="tk" x1="18.9" y1="452.87" x2="20.9" y2="452.87"/>
<text class="tl" x="115.37" y="529.7" text-anchor="middle">80</text>
<text class="tl" x="18.6" y="454.77" text-anchor="end">80</text>
<line class="tk" x1="138.98" y1="523.2" x2="138.98" y2="525.2"/>
<line class="tk" x1="18.9" y1="435.28" x2="20.9" y2="435.28"/>
<text class="tl" x="138.98" y="529.7" text-anchor="middle">100</text>
<text class="tl" x="18.6" y="437.18" text-anchor="end">100</text>
<line class="tk" x1="162.6" y1="523.2" x2="162.6" y2="525.2"/>
<line class="tk" x1="18.9" y1="417.7" x2="20.9" y2="417.7"/>
<text class="tl" x="162.6" y="529.7" text-anchor="middle">120</text>
<text class="tl" x="18.6" y="419.6" text-anchor="end">120</text>
<text class="al" x="91.75" y="535.2" text-anchor="middle">Golden IR Drop (mV)</text>
<text class="al" x="9.4" y="470.45" text-anchor="middle" transform="rotate(-90 9.4 470.45)">Predicted IR Drop (mV)</text>
<rect class="lg" x="23.85" y="419.62" width="2.2" height="2.2"/>
<text class="tt" x="23.3" y="429" textLength="64.2" lengthAdjust="spacingAndGlyphs">DesignB-P3(vectorless)</text>
<text class="cp" x="89.65" y="542.7" text-anchor="middle">(g)</text>
<polygon class="cl" points="208.3,522.5 209.7,520.2 211.3,517.2 213,513.6 215,510.8 217.5,507.8 220.4,505.5 223.8,502.6 227.2,500.6 230.5,498.5 232.1,496.5 236.2,494.3 240.3,493.4 242.3,493 243.2,495 244.4,493.8 248.5,491.2 250,489.2 254.1,486.6 258.2,484.5 262.3,482.5 266.4,480.4 267.5,479.8 267.5,483.8 266.4,484.5 262.3,488.2 258.2,490.7 254.1,493.9 250,497.2 248.5,499 244,503.5 243,507 242.5,515.5 241.1,516 236.2,517.6 230.5,520.3 227.2,520.9 223.8,521.6 220.4,522.3 217.1,523 213,524.2 208.3,524.2"/>
<polygon class="hl" points="214,512.2 214.81,511.07 215.61,510.07 216.42,509.1 217.22,508.13 218.03,507.38 218.83,506.74 219.64,506.1 220.44,505.46 221.25,504.78 222.06,504.09 222.86,503.4 223.67,502.71 224.47,502.2 225.28,501.73 226.08,501.26 226.89,500.78 227.69,500.29 228.5,499.77 229.31,499.26 230.11,498.75 230.92,497.98 231.72,496.97 232.53,496.27 233.33,495.84 234.14,495.41 234.94,494.97 235.75,494.54 236.56,494.22 237.36,494.05 238.17,493.87 238.97,493.69 239.78,493.51 240.58,493.34 241.39,493.18 242.19,493.02 243,494.56 243,494.56 242.19,492.33 241.39,492.13 240.58,492.01 239.78,491.94 238.97,491.9 238.17,491.89 237.36,491.9 236.56,491.92 235.75,492.1 234.94,492.42 234.14,492.74 233.33,493.09 232.53,493.44 231.72,494.08 230.92,495.04 230.11,495.77 229.31,496.27 228.5,496.77 227.69,497.29 226.89,497.81 226.08,498.32 225.28,498.84 224.47,499.38 223.67,499.96 222.86,500.74 222.06,501.53 221.25,502.34 220.44,503.16 219.64,503.95 218.83,504.76 218.03,505.59 217.22,506.56 216.42,507.77 215.61,509.02 214.81,510.38 214,512.2"/>
<rect class="dt" x="229.64" y="498.08" width="0.9" height="0.9" opacity="0.59"/>
<rect class="dt" x="235.13" y="492.66" width="0.9" height="0.9" opacity="0.85"/>
<rect class="dt" x="241.46" y="491.84" width="0.9" height="0.9" opacity="0.54"/>
<rect class="dt" x="240.92" y="492.13" width="0.9" height="0.9" opacity="0.60"/>
<rect class="dt" x="218.5" y="504.29" width="0.9" height="0.9" opacity="0.58"/>
<rect class="dt" x="215.96" y="508.27" width="0.9" height="0.9" opacity="0.87"/>
<rect class="dt" x="226.92" y="497.64" width="0.9" height="0.9" opacity="0.53"/>
<rect class="dt" x="226.69" y="499.14" width="0.9" height="0.9" opacity="0.58"/>
<rect class="dt" x="232.78" y="494.35" width="0.9" height="0.9" opacity="0.55"/>
<rect class="dt" x="242.09" y="492.82" width="0.9" height="0.9" opacity="0.57"/>
<rect class="dt" x="213.87" y="511.02" width="0.9" height="0.9" opacity="0.71"/>
<rect class="dt" x="214.26" y="510.42" width="0.9" height="0.9" opacity="0.80"/>
<rect class="dt" x="229.13" y="497.87" width="0.9" height="0.9" opacity="0.70"/>
<rect class="dt" x="231.09" y="494.67" width="0.9" height="0.9" opacity="0.56"/>
<rect class="dt" x="236.86" y="491.36" width="0.9" height="0.9" opacity="0.80"/>
<rect class="dt" x="238.41" y="492.53" width="0.9" height="0.9" opacity="0.86"/>
<rect class="dt" x="218.82" y="505.43" width="0.9" height="0.9" opacity="0.74"/>
<rect class="dt" x="239.7" y="492.85" width="0.9" height="0.9" opacity="0.59"/>
<rect class="dt" x="214.59" y="509.91" width="0.9" height="0.9" opacity="0.56"/>
<rect class="dt" x="219.1" y="503.96" width="0.9" height="0.9" opacity="0.73"/>
<rect class="dt" x="240.79" y="492.27" width="0.9" height="0.9" opacity="0.77"/>
<rect class="dt" x="213.92" y="510.79" width="0.9" height="0.9" opacity="0.59"/>
<rect class="dt" x="227.38" y="498.06" width="0.9" height="0.9" opacity="0.88"/>
<rect class="dt" x="227.82" y="496.2" width="0.9" height="0.9" opacity="0.75"/>
<rect class="dt" x="219.83" y="503.07" width="0.9" height="0.9" opacity="0.58"/>
<rect class="dt" x="242.54" y="494.05" width="0.9" height="0.9" opacity="0.59"/>
<rect class="dt" x="241.43" y="492.34" width="0.9" height="0.9" opacity="0.66"/>
<rect class="dt" x="223.5" y="500.02" width="0.9" height="0.9" opacity="0.51"/>
<rect class="dt" x="224.39" y="501.03" width="0.9" height="0.9" opacity="0.83"/>
<rect class="dt" x="213.55" y="511.72" width="0.9" height="0.9" opacity="0.60"/>
<polygon class="hl" points="244,503.5 244.82,502.68 245.64,501.86 246.45,501.05 247.27,500.23 248.09,499.41 248.91,498.51 249.73,497.53 250.55,496.76 251.36,496.1 252.18,495.44 253,494.79 253.82,494.13 254.64,493.48 255.45,492.84 256.27,492.2 257.09,491.57 257.91,490.93 258.73,490.38 259.55,489.88 260.36,489.38 261.18,488.88 262,488.38 262,488.38 261.18,489.5 260.36,490.32 259.55,491.06 258.73,491.76 257.91,492.48 257.09,493.26 256.27,494.01 255.45,494.73 254.64,495.43 253.82,496.11 253,496.79 252.18,497.43 251.36,498.05 250.55,498.65 249.73,499.33 248.91,500.2 248.09,500.96 247.27,501.61 246.45,502.23 245.64,502.8 244.82,503.3 244,503.5"/>
<rect class="dt" x="251.72" y="496.23" width="0.9" height="0.9" opacity="0.78"/>
<rect class="dt" x="246.03" y="500.89" width="0.9" height="0.9" opacity="0.55"/>
<rect class="dt" x="260.83" y="488.46" width="0.9" height="0.9" opacity="0.55"/>
<rect class="dt" x="252.95" y="495.29" width="0.9" height="0.9" opacity="0.85"/>
<rect class="dt" x="244.57" y="502.21" width="0.9" height="0.9" opacity="0.57"/>
<rect class="dt" x="254.09" y="494.08" width="0.9" height="0.9" opacity="0.66"/>
<rect class="dt" x="259.54" y="489.92" width="0.9" height="0.9" opacity="0.84"/>
<rect class="dt" x="260.77" y="488.58" width="0.9" height="0.9" opacity="0.88"/>
<rect class="dt" x="250.89" y="495.78" width="0.9" height="0.9" opacity="0.87"/>
<rect class="dt" x="245.42" y="501.2" width="0.9" height="0.9" opacity="0.62"/>
<rect class="dt" x="248.75" y="499.55" width="0.9" height="0.9" opacity="0.85"/>
<rect class="dt" x="251.11" y="496.64" width="0.9" height="0.9" opacity="0.84"/>
<rect class="dt" x="208.55" y="520.42" width="0.9" height="0.9" opacity="0.94"/>
<rect class="dt" x="208.06" y="521.81" width="0.9" height="0.9" opacity="1.00"/>
<rect class="dt" x="208.46" y="520.35" width="0.9" height="0.9" opacity="0.91"/>
<rect class="dt" x="208.88" y="516.09" width="0.9" height="0.9" opacity="0.49"/>
<rect class="dt" x="209.73" y="519.26" width="0.9" height="0.9" opacity="1.00"/>
<rect class="dt" x="210.38" y="516.9" width="0.9" height="0.9" opacity="0.91"/>
<rect class="dt" x="209.03" y="518.94" width="0.9" height="0.9" opacity="0.86"/>
<rect class="dt" x="211.19" y="515.87" width="0.9" height="0.9" opacity="0.98"/>
<rect class="dt" x="211.25" y="514.63" width="0.9" height="0.9" opacity="0.86"/>
<rect class="dt" x="210.35" y="516.19" width="0.9" height="0.9" opacity="0.83"/>
<rect class="dt" x="211.73" y="514.42" width="0.9" height="0.9" opacity="0.95"/>
<rect class="dt" x="214.35" y="511.05" width="0.9" height="0.9" opacity="1.00"/>
<rect class="dt" x="213.06" y="511.5" width="0.9" height="0.9" opacity="0.86"/>
<rect class="dt" x="213.58" y="510.89" width="0.9" height="0.9" opacity="0.88"/>
<rect class="dt" x="211.3" y="511.5" width="0.9" height="0.9" opacity="0.51"/>
<rect class="dt" x="215.02" y="509.56" width="0.9" height="0.9" opacity="0.96"/>
<rect class="dt" x="217.01" y="507.53" width="0.9" height="0.9" opacity="1.00"/>
<rect class="dt" x="214.01" y="507.82" width="0.9" height="0.9" opacity="0.49"/>
<rect class="dt" x="216.85" y="507.69" width="0.9" height="0.9" opacity="1.00"/>
<rect class="dt" x="217.77" y="506.12" width="0.9" height="0.9" opacity="0.87"/>
<rect class="dt" x="219.37" y="505.71" width="0.9" height="0.9" opacity="1.00"/>
<rect class="dt" x="217.75" y="506.9" width="0.9" height="0.9" opacity="1.00"/>
<rect class="dt" x="217.96" y="506.91" width="0.9" height="0.9" opacity="1.00"/>
<rect class="dt" x="221.25" y="503.77" width="0.9" height="0.9" opacity="0.97"/>
<rect class="dt" x="219.98" y="504.55" width="0.9" height="0.9" opacity="0.91"/>
<rect class="dt" x="222.93" y="502.05" width="0.9" height="0.9" opacity="0.91"/>
<rect class="dt" x="220.77" y="503.56" width="0.9" height="0.9" opacity="0.85"/>
<rect class="dt" x="223.84" y="501.62" width="0.9" height="0.9" opacity="0.95"/>
<rect class="dt" x="223.14" y="501.65" width="0.9" height="0.9" opacity="0.87"/>
<rect class="dt" x="223.86" y="501.77" width="0.9" height="0.9" opacity="0.98"/>
<rect class="dt" x="226.23" y="499.56" width="0.9" height="0.9" opacity="0.81"/>
<rect class="dt" x="228.62" y="498.42" width="0.9" height="0.9" opacity="0.89"/>
<rect class="dt" x="227.94" y="496.88" width="0.9" height="0.9" opacity="0.47"/>
<rect class="dt" x="226.99" y="499.09" width="0.9" height="0.9" opacity="0.81"/>
<rect class="dt" x="227.77" y="499.55" width="0.9" height="0.9" opacity="1.00"/>
<rect class="dt" x="230.17" y="496.18" width="0.9" height="0.9" opacity="0.73"/>
<rect class="dt" x="231.16" y="496.07" width="0.9" height="0.9" opacity="0.91"/>
<rect class="dt" x="230.55" y="497.8" width="0.9" height="0.9" opacity="1.00"/>
<rect class="dt" x="234.64" y="494.48" width="0.9" height="0.9" opacity="1.00"/>
<rect class="dt" x="232.05" y="496.11" width="0.9" height="0.9" opacity="1.00"/>
<rect class="dt" x="232.08" y="495.15" width="0.9" height="0.9" opacity="0.85"/>
<rect class="dt" x="231.7" y="496.1" width="0.9" height="0.9" opacity="1.00"/>
<rect class="dt" x="232.44" y="494.92" width="0.9" height="0.9" opacity="0.85"/>
<rect class="dt" x="235.86" y="493.99" width="0.9" height="0.9" opacity="1.00"/>
<rect class="dt" x="239.11" y="490.86" width="0.9" height="0.9" opacity="0.45"/>
<rect class="dt" x="236.35" y="493.68" width="0.9" height="0.9" opacity="0.99"/>
<rect class="dt" x="237.89" y="493.36" width="0.9" height="0.9" opacity="0.99"/>
<rect class="dt" x="237.42" y="493.27" width="0.9" height="0.9" opacity="0.95"/>
<rect class="dt" x="240" y="493.11" width="0.9" height="0.9" opacity="1.00"/>
<rect class="dt" x="240.21" y="493.06" width="0.9" height="0.9" opacity="1.00"/>
<rect class="dt" x="242.44" y="493.96" width="0.9" height="0.9" opacity="1.00"/>
<rect class="dt" x="243.17" y="493.86" width="0.9" height="0.9" opacity="0.83"/>
<rect class="dt" x="243.41" y="494.03" width="0.9" height="0.9" opacity="1.00"/>
<rect class="dt" x="243.63" y="493.21" width="0.9" height="0.9" opacity="0.92"/>
<rect class="dt" x="244.27" y="492.46" width="0.9" height="0.9" opacity="0.86"/>
<rect class="dt" x="245.19" y="491.81" width="0.9" height="0.9" opacity="0.84"/>
<rect class="dt" x="244.43" y="492.02" width="0.9" height="0.9" opacity="0.78"/>
<rect class="dt" x="247.33" y="491.42" width="0.9" height="0.9" opacity="1.00"/>
<rect class="dt" x="247.85" y="490" width="0.9" height="0.9" opacity="0.85"/>
<rect class="dt" x="248.58" y="488.63" width="0.9" height="0.9" opacity="0.79"/>
<rect class="dt" x="248.54" y="490.4" width="0.9" height="0.9" opacity="1.00"/>
<rect class="dt" x="251.94" y="487.4" width="0.9" height="0.9" opacity="1.00"/>
<rect class="dt" x="250.15" y="487.94" width="0.9" height="0.9" opacity="0.91"/>
<rect class="dt" x="249.75" y="488.09" width="0.9" height="0.9" opacity="0.89"/>
<rect class="dt" x="250.56" y="488.16" width="0.9" height="0.9" opacity="1.00"/>
<rect class="dt" x="251.13" y="487.41" width="0.9" height="0.9" opacity="0.93"/>
<rect class="dt" x="253.48" y="485.5" width="0.9" height="0.9" opacity="0.84"/>
<rect class="dt" x="254.56" y="485.69" width="0.9" height="0.9" opacity="1.00"/>
<rect class="dt" x="256.01" y="484.3" width="0.9" height="0.9" opacity="0.86"/>
<rect class="dt" x="255.54" y="483.64" width="0.9" height="0.9" opacity="0.66"/>
<rect class="dt" x="254.48" y="485.71" width="0.9" height="0.9" opacity="1.00"/>
<rect class="dt" x="258.88" y="483.65" width="0.9" height="0.9" opacity="1.00"/>
<rect class="dt" x="258.33" y="482.89" width="0.9" height="0.9" opacity="0.80"/>
<rect class="dt" x="260.86" y="481.83" width="0.9" height="0.9" opacity="0.84"/>
<rect class="dt" x="261.3" y="481.36" width="0.9" height="0.9" opacity="0.79"/>
<rect class="dt" x="259.01" y="483.42" width="0.9" height="0.9" opacity="1.00"/>
<rect class="dt" x="261.89" y="481.57" width="0.9" height="0.9" opacity="0.90"/>
<rect class="dt" x="262.31" y="482.05" width="0.9" height="0.9" opacity="1.00"/>
<rect class="dt" x="264.02" y="481.09" width="0.9" height="0.9" opacity="1.00"/>
<rect class="dt" x="265.11" y="479.01" width="0.9" height="0.9" opacity="0.70"/>
<rect class="dt" x="263.79" y="481.17" width="0.9" height="0.9" opacity="1.00"/>
<rect class="dt" x="266.38" y="479.41" width="0.9" height="0.9" opacity="0.93"/>
<rect class="dt" x="266.41" y="484.09" width="0.9" height="0.9" opacity="0.93"/>
<rect class="dt" x="265.38" y="484.3" width="0.9" height="0.9" opacity="1.00"/>
<rect class="dt" x="264.51" y="485.64" width="0.9" height="0.9" opacity="0.95"/>
<rect class="dt" x="265.26" y="485.37" width="0.9" height="0.9" opacity="0.87"/>
<rect class="dt" x="265.05" y="484.88" width="0.9" height="0.9" opacity="1.00"/>
<rect class="dt" x="264.41" y="486.28" width="0.9" height="0.9" opacity="0.84"/>
<rect class="dt" x="262.84" y="486.96" width="0.9" height="0.9" opacity="0.98"/>
<rect class="dt" x="258.91" y="491.48" width="0.9" height="0.9" opacity="0.59"/>
<rect class="dt" x="259.22" y="489.15" width="0.9" height="0.9" opacity="1.00"/>
<rect class="dt" x="260.22" y="489.28" width="0.9" height="0.9" opacity="0.89"/>
<rect class="dt" x="260.59" y="488.26" width="0.9" height="0.9" opacity="1.00"/>
<rect class="dt" x="258.57" y="491.43" width="0.9" height="0.9" opacity="0.64"/>
<rect class="dt" x="256.1" y="492.08" width="0.9" height="0.9" opacity="0.89"/>
<rect class="dt" x="256.4" y="491.05" width="0.9" height="0.9" opacity="1.00"/>
<rect class="dt" x="255.15" y="493.27" width="0.9" height="0.9" opacity="0.80"/>
<rect class="dt" x="255.84" y="491.5" width="0.9" height="0.9" opacity="1.00"/>
<rect class="dt" x="256.02" y="491.37" width="0.9" height="0.9" opacity="1.00"/>
<rect class="dt" x="253.43" y="493.61" width="0.9" height="0.9" opacity="1.00"/>
<rect class="dt" x="250.41" y="495.87" width="0.9" height="0.9" opacity="1.00"/>
<rect class="dt" x="253.09" y="493.65" width="0.9" height="0.9" opacity="1.00"/>
<rect class="dt" x="253.15" y="494.21" width="0.9" height="0.9" opacity="0.93"/>
<rect class="dt" x="250.16" y="496.11" width="0.9" height="0.9" opacity="1.00"/>
<rect class="dt" x="253.42" y="494.62" width="0.9" height="0.9" opacity="0.81"/>
<rect class="dt" x="248.92" y="497.26" width="0.9" height="0.9" opacity="1.00"/>
<rect class="dt" x="250.91" y="498.63" width="0.9" height="0.9" opacity="0.44"/>
<rect class="dt" x="247.37" y="500.21" width="0.9" height="0.9" opacity="0.83"/>
<rect class="dt" x="245.02" y="503.55" width="0.9" height="0.9" opacity="0.65"/>
<rect class="dt" x="247.3" y="502.05" width="0.9" height="0.9" opacity="0.51"/>
<rect class="dt" x="245.32" y="501.26" width="0.9" height="0.9" opacity="1.00"/>
<rect class="dt" x="246.4" y="501.09" width="0.9" height="0.9" opacity="0.84"/>
<rect class="dt" x="244.64" y="501.74" width="0.9" height="0.9" opacity="1.00"/>
<rect class="dt" x="242.43" y="506.36" width="0.9" height="0.9" opacity="1.00"/>
<rect class="dt" x="242.77" y="505.91" width="0.9" height="0.9" opacity="0.99"/>
<rect class="dt" x="243.26" y="503.91" width="0.9" height="0.9" opacity="1.00"/>
<rect class="dt" x="241.92" y="514.96" width="0.9" height="0.9" opacity="1.00"/>
<rect class="dt" x="242.14" y="513.81" width="0.9" height="0.9" opacity="0.99"/>
<rect class="dt" x="243.17" y="508.06" width="0.9" height="0.9" opacity="0.82"/>
<rect class="dt" x="242.27" y="509.45" width="0.9" height="0.9" opacity="1.00"/>
<rect class="dt" x="243.3" y="510.16" width="0.9" height="0.9" opacity="0.76"/>
<rect class="dt" x="242.47" y="513.91" width="0.9" height="0.9" opacity="0.91"/>
<rect class="dt" x="243.3" y="506.68" width="0.9" height="0.9" opacity="0.81"/>
<rect class="dt" x="243.6" y="511.79" width="0.9" height="0.9" opacity="0.66"/>
<rect class="dt" x="241.95" y="516.22" width="0.9" height="0.9" opacity="0.73"/>
<rect class="dt" x="240.89" y="515.43" width="0.9" height="0.9" opacity="1.00"/>
<rect class="dt" x="238.83" y="516.2" width="0.9" height="0.9" opacity="0.99"/>
<rect class="dt" x="238.74" y="516" width="0.9" height="0.9" opacity="1.00"/>
<rect class="dt" x="239.98" y="517.27" width="0.9" height="0.9" opacity="0.64"/>
<rect class="dt" x="238.78" y="516.64" width="0.9" height="0.9" opacity="0.89"/>
<rect class="dt" x="236.53" y="517.67" width="0.9" height="0.9" opacity="0.82"/>
<rect class="dt" x="230.89" y="520.44" width="0.9" height="0.9" opacity="0.78"/>
<rect class="dt" x="230.39" y="520.42" width="0.9" height="0.9" opacity="0.83"/>
<rect class="dt" x="231.84" y="520.02" width="0.9" height="0.9" opacity="0.77"/>
<rect class="dt" x="234.52" y="518.28" width="0.9" height="0.9" opacity="0.88"/>
<rect class="dt" x="234.02" y="519.11" width="0.9" height="0.9" opacity="0.74"/>
<rect class="dt" x="235.11" y="517.77" width="0.9" height="0.9" opacity="0.93"/>
<rect class="dt" x="227.35" y="520.39" width="0.9" height="0.9" opacity="0.99"/>
<rect class="dt" x="227.46" y="521.41" width="0.9" height="0.9" opacity="0.73"/>
<rect class="dt" x="227.12" y="520.23" width="0.9" height="0.9" opacity="1.00"/>
<rect class="dt" x="224.33" y="521.5" width="0.9" height="0.9" opacity="0.86"/>
<rect class="dt" x="224.49" y="520.7" width="0.9" height="0.9" opacity="1.00"/>
<rect class="dt" x="223.85" y="521.36" width="0.9" height="0.9" opacity="0.92"/>
<rect class="dt" x="225.21" y="520.81" width="0.9" height="0.9" opacity="0.99"/>
<rect class="dt" x="220.93" y="522.85" width="0.9" height="0.9" opacity="0.71"/>
<rect class="dt" x="222.63" y="521.34" width="0.9" height="0.9" opacity="0.99"/>
<rect class="dt" x="222.47" y="521.15" width="0.9" height="0.9" opacity="1.00"/>
<rect class="dt" x="222.19" y="521.15" width="0.9" height="0.9" opacity="1.00"/>
<rect class="dt" x="219.16" y="521.81" width="0.9" height="0.9" opacity="1.00"/>
<rect class="dt" x="219.87" y="522.58" width="0.9" height="0.9" opacity="0.83"/>
<rect class="dt" x="219.33" y="522.17" width="0.9" height="0.9" opacity="0.95"/>
<rect class="dt" x="218.81" y="523" width="0.9" height="0.9" opacity="0.78"/>
<rect class="dt" x="214.25" y="523.07" width="0.9" height="0.9" opacity="1.00"/>
<rect class="dt" x="228.77" y="497.53" width="0.9" height="0.9" opacity="0.56"/>
<rect class="dt" x="227.33" y="495.05" width="0.9" height="0.9" opacity="0.70"/>
<rect class="dt" x="229.87" y="493.8" width="0.9" height="0.9" opacity="0.49"/>
<rect class="dt" x="225.64" y="498.3" width="0.9" height="0.9" opacity="0.63"/>
<rect class="dt" x="221.04" y="496.1" width="0.9" height="0.9" opacity="0.52"/>
<rect class="dt" x="230.59" y="495.13" width="0.9" height="0.9" opacity="0.39"/>
<rect class="dt" x="227.88" y="497.47" width="0.9" height="0.9" opacity="0.67"/>
<rect class="dt" x="225.54" y="493.88" width="0.9" height="0.9" opacity="0.65"/>
<rect class="dt" x="231.77" y="493.86" width="0.9" height="0.9" opacity="0.70"/>
<rect class="dt" x="234.44" y="495.15" width="0.9" height="0.9" opacity="0.50"/>
<rect class="dt" x="230.49" y="498.13" width="0.9" height="0.9" opacity="0.43"/>
<rect class="dt" x="224.77" y="494.52" width="0.9" height="0.9" opacity="0.64"/>
<rect class="dt" x="223.17" y="495.83" width="0.9" height="0.9" opacity="0.55"/>
<rect class="dt" x="229.91" y="493.41" width="0.9" height="0.9" opacity="0.73"/>
<rect class="dt" x="253.91" y="498.28" width="0.9" height="0.9" opacity="0.71"/>
<rect class="dt" x="251.96" y="500.59" width="0.9" height="0.9" opacity="0.70"/>
<rect class="dt" x="250.44" y="501.25" width="0.9" height="0.9" opacity="0.43"/>
<rect class="dt" x="247.74" y="499.56" width="0.9" height="0.9" opacity="0.71"/>
<rect class="dt" x="251.64" y="501.28" width="0.9" height="0.9" opacity="0.57"/>
<rect class="dt" x="248.7" y="500.07" width="0.9" height="0.9" opacity="0.67"/>
<rect class="dt" x="214.09" y="507.96" width="0.9" height="0.9" opacity="0.45"/>
<rect class="dt" x="213.21" y="507.23" width="0.9" height="0.9" opacity="0.56"/>
<rect class="dt" x="214.36" y="505.92" width="0.9" height="0.9" opacity="0.35"/>
<rect class="dt" x="213.59" y="508.42" width="0.9" height="0.9" opacity="0.65"/>
<rect class="dt" x="212.97" y="506.57" width="0.9" height="0.9" opacity="0.56"/>
<rect class="dt" x="269.35" y="477.55" width="0.9" height="0.9" opacity="0.6"/>
<rect class="dt" x="271.35" y="475.95" width="0.9" height="0.9" opacity="0.6"/>
<rect class="dt" x="268.35" y="479.95" width="0.9" height="0.9" opacity="0.6"/>
<rect class="dt" x="251.15" y="498.85" width="0.9" height="0.9" opacity="0.6"/>
<rect class="dt" x="254.85" y="497.15" width="0.9" height="0.9" opacity="0.6"/>
<rect class="dt" x="262.65" y="488.95" width="0.9" height="0.9" opacity="0.6"/>
<line class="rd" x1="208" y1="524.2" x2="350" y2="418.4"/>
<line class="gl" x1="208" y1="506.57" x2="326.33" y2="418.4"/>
<line class="gl" x1="231.67" y1="524.2" x2="350" y2="436.03"/>
<rect class="sp" x="208" y="418.4" width="142" height="105.8"/>
<line class="tk" x1="208" y1="524.2" x2="208" y2="526.2"/>
<line class="tk" x1="206" y1="524.2" x2="208" y2="524.2"/>
<text class="tl" x="208" y="530.7" text-anchor="middle">0</text>
<text class="tl" x="205.7" y="526.1" text-anchor="end">0</text>
<line class="tk" x1="231.67" y1="524.2" x2="231.67" y2="526.2"/>
<line class="tk" x1="206" y1="506.57" x2="208" y2="506.57"/>
<text class="tl" x="231.67" y="530.7" text-anchor="middle">20</text>
<text class="tl" x="205.7" y="508.47" text-anchor="end">20</text>
<line class="tk" x1="255.33" y1="524.2" x2="255.33" y2="526.2"/>
<line class="tk" x1="206" y1="488.93" x2="208" y2="488.93"/>
<text class="tl" x="255.33" y="530.7" text-anchor="middle">40</text>
<text class="tl" x="205.7" y="490.83" text-anchor="end">40</text>
<line class="tk" x1="279" y1="524.2" x2="279" y2="526.2"/>
<line class="tk" x1="206" y1="471.3" x2="208" y2="471.3"/>
<text class="tl" x="279" y="530.7" text-anchor="middle">60</text>
<text class="tl" x="205.7" y="473.2" text-anchor="end">60</text>
<line class="tk" x1="302.67" y1="524.2" x2="302.67" y2="526.2"/>
<line class="tk" x1="206" y1="453.67" x2="208" y2="453.67"/>
<text class="tl" x="302.67" y="530.7" text-anchor="middle">80</text>
<text class="tl" x="205.7" y="455.57" text-anchor="end">80</text>
<line class="tk" x1="326.33" y1="524.2" x2="326.33" y2="526.2"/>
<line class="tk" x1="206" y1="436.03" x2="208" y2="436.03"/>
<text class="tl" x="326.33" y="530.7" text-anchor="middle">100</text>
<text class="tl" x="205.7" y="437.93" text-anchor="end">100</text>
<line class="tk" x1="350" y1="524.2" x2="350" y2="526.2"/>
<line class="tk" x1="206" y1="418.4" x2="208" y2="418.4"/>
<text class="tl" x="350" y="530.7" text-anchor="middle">120</text>
<text class="tl" x="205.7" y="420.3" text-anchor="end">120</text>
<text class="al" x="279" y="536.4" text-anchor="middle">Golden IR Drop (mV)</text>
<text class="al" x="196.5" y="471.3" text-anchor="middle" transform="rotate(-90 196.5 471.3)">Predicted IR Drop (mV)</text>
<rect class="lg" x="210.6" y="420.35" width="2.2" height="2.2"/>
<text class="tt" x="209.7" y="429.8" textLength="64.7" lengthAdjust="spacingAndGlyphs">DesignB-P4(vectorless)</text>
<text class="cp" x="276.9" y="542.9" text-anchor="middle">(h)</text>
</svg>
</body></html>
